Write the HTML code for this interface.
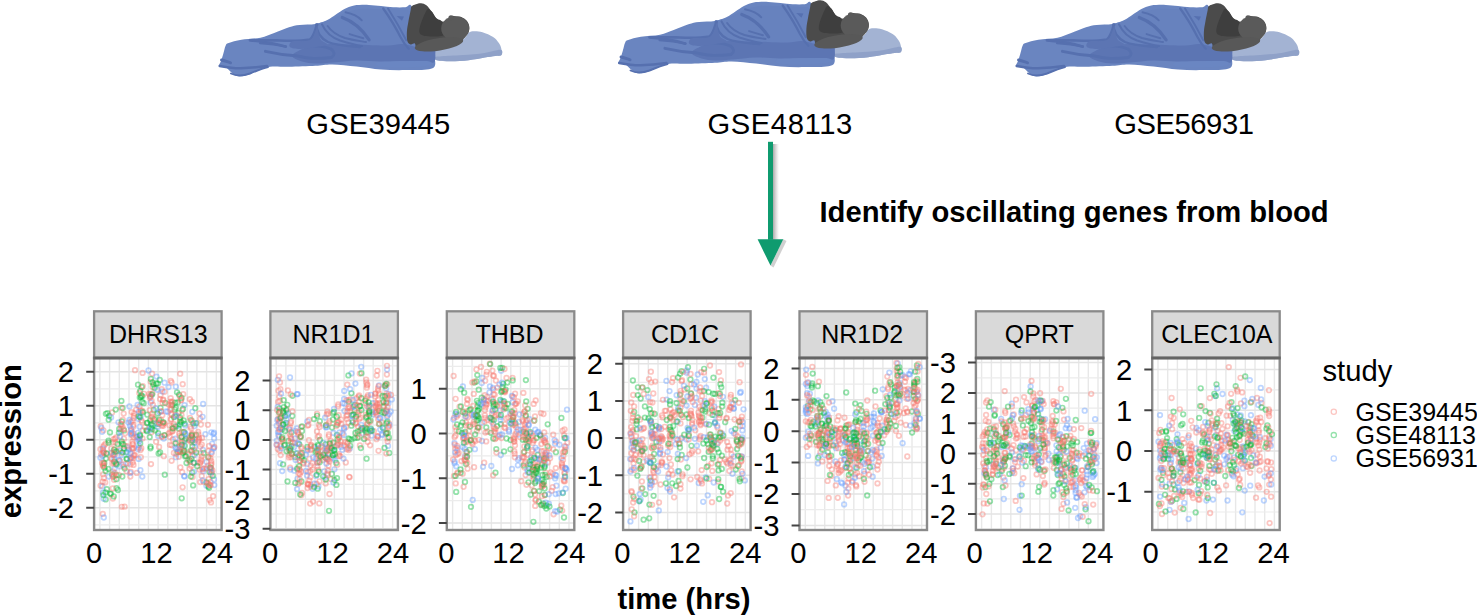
<!DOCTYPE html><html><head><meta charset="utf-8"><style>
html,body{margin:0;padding:0;background:#fff;}
svg{display:block;font-family:"Liberation Sans", sans-serif;}
text{fill:#000;}
.pts circle{fill:none;stroke-width:1.7;stroke-opacity:0.42;}
</style></head><body>
<svg font-family="Liberation Sans, sans-serif" font-size="29.2" width="1477" height="615" viewBox="0 0 1477 615">
<rect width="1477" height="615" fill="#fff"/>
<defs><g id="person"><path d="M433.8,49.7C436.1,48.0 442.7,47.3 447.6,45.5C452.5,43.7 459.9,41.2 463.4,39.1C466.9,37.0 466.9,34.1 468.7,32.8C470.5,31.5 471.7,31.3 474.0,31.2C476.3,31.1 479.3,31.3 482.5,32.3C485.7,33.3 490.5,35.3 493.1,37.0C495.7,38.7 497.0,40.5 498.3,42.3C499.6,44.1 500.5,45.5 501.0,47.6C501.5,49.7 502.5,53.6 501.5,55.0C500.5,56.4 498.0,55.6 495.2,56.0C492.4,56.4 489.0,56.9 484.6,57.6C480.2,58.3 474.3,59.7 468.7,60.3C463.1,60.9 456.1,61.3 450.8,61.3C445.5,61.3 439.8,61.2 437.0,60.3C434.2,59.4 434.3,57.8 433.8,56.0C433.3,54.2 431.5,51.5 433.8,49.7Z" fill="#a3b3d3"/><path d="M434.9,57.1C437.1,56.4 445.2,56.1 450.0,55.8C454.8,55.4 457.6,55.5 463.4,55.0C469.2,54.5 478.4,53.8 484.6,52.9C490.8,52.0 497.7,49.4 500.5,49.7C503.3,50.1 502.4,54.0 501.5,55.0C500.6,56.0 498.0,55.6 495.2,56.0C492.4,56.4 489.0,56.9 484.6,57.6C480.2,58.3 474.3,59.7 468.7,60.3C463.1,60.9 456.1,61.3 450.8,61.3C445.5,61.3 439.6,61.0 437.0,60.3C434.4,59.6 432.7,57.9 434.9,57.1Z" fill="#8fa1c8"/><path d="M219.2,65.8C218.5,64.7 220.6,62.6 221.3,60.5C222.0,58.4 222.8,55.6 223.5,53.1C224.2,50.6 224.7,47.4 225.6,45.7C226.5,44.0 226.1,44.0 228.7,43.0C231.3,42.0 236.1,40.7 241.4,39.8C246.7,38.9 255.0,38.8 260.5,37.7C266.0,36.6 269.4,34.8 274.2,33.0C278.9,31.2 284.8,28.5 289.0,27.2C293.2,25.9 295.2,25.5 299.6,25.0C304.0,24.5 310.8,24.8 315.4,24.0C320.0,23.2 323.9,21.7 327.3,20.1C330.7,18.5 333.0,16.4 335.9,14.6C338.8,12.8 341.4,10.6 344.4,9.1C347.4,7.6 350.0,6.2 354.1,5.5C358.2,4.8 364.3,4.8 368.8,4.9C373.3,5.0 376.9,5.7 381.0,6.1C385.1,6.5 389.1,7.1 393.2,7.3C397.3,7.5 402.3,7.5 405.4,7.3C408.5,7.1 409.2,2.5 411.6,6.3C414.0,10.1 416.2,22.9 420.0,30.0C423.8,37.1 431.8,44.5 434.2,48.8C436.6,53.1 434.9,52.8 434.6,56.0C434.3,59.2 437.4,66.0 432.5,68.3C427.6,70.6 414.0,69.9 405.4,70.1C396.8,70.3 389.1,70.1 381.0,69.5C372.9,68.9 364.7,67.3 356.6,66.5C348.5,65.7 339.1,64.5 332.2,64.4C325.3,64.3 322.6,65.4 315.4,65.8C308.2,66.2 296.6,66.6 289.0,66.8C281.4,67.0 275.3,66.1 270.0,66.8C264.7,67.5 261.5,69.5 257.3,71.0C253.1,72.5 248.1,75.0 244.6,75.8C241.1,76.6 238.4,76.4 236.1,75.8C233.8,75.2 232.7,73.5 230.9,72.1C229.2,70.7 227.6,68.3 225.6,67.3C223.6,66.2 219.9,66.9 219.2,65.8Z" fill="#6a85c0"/><path d="M315.0,26.0C317.3,22.3 325.0,22.2 330.0,20.0C335.0,17.8 340.0,14.8 345.0,13.0C350.0,11.2 354.2,9.7 360.0,9.0C365.8,8.3 373.3,8.8 380.0,9.0C386.7,9.2 395.0,9.5 400.0,10.0C405.0,10.5 408.7,8.7 410.0,12.0C411.3,15.3 407.7,24.3 408.0,30.0C408.3,35.7 415.3,43.4 412.0,46.0C408.7,48.6 395.3,45.7 388.0,45.5C380.7,45.3 374.3,45.2 368.0,45.0C361.7,44.8 356.3,44.7 350.0,44.5C343.7,44.3 335.7,44.4 330.0,44.0C324.3,43.6 318.5,45.0 316.0,42.0C313.5,39.0 312.7,29.7 315.0,26.0Z" fill="#6782be"/><path d="M292.0,56.0C291.7,54.1 296.7,51.7 300.0,50.0C303.3,48.3 307.0,47.0 312.0,46.0C317.0,45.0 323.7,44.2 330.0,44.0C336.3,43.8 343.7,44.3 350.0,44.5C356.3,44.7 361.7,44.8 368.0,45.0C374.3,45.2 382.3,45.7 388.0,45.5C393.7,45.3 398.0,43.9 402.0,44.0C406.0,44.1 408.2,45.2 412.0,46.0C415.8,46.8 421.3,47.8 425.0,48.5C428.7,49.2 432.6,47.8 434.2,50.0C435.8,52.2 435.8,60.1 434.4,62.0C433.0,63.9 430.9,61.7 426.0,61.5C421.1,61.3 412.7,61.0 405.0,61.0C397.3,61.0 388.2,61.6 380.0,61.5C371.8,61.4 363.8,60.3 356.0,60.5C348.2,60.7 339.7,62.0 333.0,62.5C326.3,63.0 321.2,63.7 316.0,63.5C310.8,63.3 306.0,62.8 302.0,61.5C298.0,60.2 292.3,57.9 292.0,56.0Z" fill="#5c75b3"/><path d="M378.0,62.5C381.3,61.6 391.7,61.8 400.0,61.6C408.3,61.4 423.2,60.6 428.0,61.2C432.8,61.9 432.8,64.5 429.0,65.5C425.2,66.5 413.2,67.3 405.0,67.5C396.8,67.7 384.5,67.6 380.0,66.8C375.5,66.0 374.7,63.4 378.0,62.5Z" fill="#6a86c2"/><g fill="none" stroke="#5670af" stroke-linecap="round"><path d="M249.9,40.4 C262,41.2 275,43.2 285.8,46.7" stroke-width="2.56"/><path d="M252,40.5 C262,39.8 270,40.2 280,40.5 C292,41 302,40.8 310,39.5 C314,36 315,30 317.2,24.5" stroke-width="2.56"/><path d="M260,43.2 C270,44 278,45 285.9,46.4" stroke-width="2.24"/><path d="M265.4,51.3 C275,53.5 285,55 295.7,55.7 C303,57 308,58.4 313.6,58.4 C320,58.5 327,58 331.5,57.5 C335,55 335,52 331,49 C325,46.5 318,46 313.6,45.9" stroke-width="2.88"/><path d="M342.3,17.5 C352,21 362,29 369.1,39.8" stroke-width="3.20"/><path d="M345.5,12.2 C352,13.5 358,16 361.8,20.3" stroke-width="1.92"/><path d="M316.3,24.4 C316.5,31 320,38 328,42 C338,46 350,46 360,47" stroke-width="2.40"/><path d="M322,24.4 C325,31 330,37 340,40.5 C348,43 355,45 362,46" stroke-width="2.08"/><path d="M327.6,26 C331,31 336,35 345,38 C352,40 360,41 366,42" stroke-width="1.92"/><path d="M349.6,34.1 C354,35.5 359,37 363.4,38.2" stroke-width="1.92"/><path d="M383.2,8.5 C390,18 396,28 400.2,36.6 C403,42 406,46 408.8,48.8" stroke-width="2.24"/><path d="M388,8.5 C394,18 401,30 406.3,40.2" stroke-width="1.92"/><path d="M221.5,60 C225,61 228,62 230.6,62.8" stroke-width="2.88"/><path d="M219.6,66 C228,67.5 235,68.5 241,68.3 C250,68 260,67 267,66" stroke-width="2.40"/><path d="M231,73.5 C236,76 243,76 250,73.5 C256,71 262,68.5 268,67" stroke-width="1.92"/></g><path d="M396.6,15.9 L403.9,16.5 L402,20.7 Z" fill="#5670b0"/><path d="M292.0,41.5C294.5,40.5 301.7,41.5 305.0,41.0C308.3,40.5 310.2,40.2 312.0,38.5C313.8,36.8 314.6,33.2 315.5,31.0C316.4,28.8 317.0,25.2 317.5,25.5C318.0,25.8 317.9,30.6 318.5,33.0C319.1,35.4 319.6,38.1 321.0,40.0C322.4,41.9 327.8,43.3 327.0,44.5C326.2,45.7 320.5,46.2 316.0,47.0C311.5,47.8 304.3,49.0 300.0,49.0C295.7,49.0 291.3,48.2 290.0,47.0C288.7,45.8 289.5,42.5 292.0,41.5Z" fill="#5c75b3"/><path d="M411.6,6.3C412.5,5.2 414.3,4.7 415.9,4.2C417.5,3.7 419.4,3.0 421.1,3.2C422.9,3.4 424.6,3.9 426.4,5.3C428.2,6.7 430.1,9.5 431.7,11.6C433.3,13.7 434.6,16.4 436.0,18.0C437.4,19.6 438.6,20.5 440.2,21.1C441.8,21.7 444.1,21.9 445.5,21.7C446.9,21.5 448.0,20.8 448.6,20.1C449.2,19.4 448.7,18.1 449.2,17.4C449.7,16.7 450.7,16.1 451.8,15.9C452.9,15.7 454.4,16.2 456.0,16.4C457.6,16.6 459.5,16.2 461.3,16.9C463.1,17.6 465.3,19.0 466.6,20.6C467.9,22.2 469.0,24.5 469.3,26.4C469.6,28.2 469.3,30.1 468.7,31.7C468.1,33.3 466.7,34.6 465.6,36.0C464.6,37.4 463.6,39.1 462.4,40.2C461.2,41.3 460.7,42.1 458.2,42.8C455.7,43.5 451.1,43.6 447.6,44.4C444.1,45.2 440.4,46.6 437.0,47.6C433.6,48.6 430.3,49.9 427.5,50.2C424.7,50.6 422.0,50.3 420.1,49.7C418.2,49.1 416.8,47.5 415.9,46.5C415.0,45.5 415.7,43.8 414.8,43.4C413.9,43.0 411.8,44.8 410.6,44.4C409.4,44.0 408.0,43.3 407.4,41.2C406.8,39.1 406.7,35.0 406.9,31.7C407.1,28.3 407.9,24.6 408.5,21.1C409.1,17.6 410.1,13.1 410.6,10.6C411.1,8.1 410.7,7.4 411.6,6.3Z" fill="#4b4b4b"/><path d="M426.4,10.6C428.3,6.9 430.1,10.4 431.7,11.6C433.3,12.8 434.2,16.2 436.0,18.0C437.8,19.8 440.9,19.4 442.3,22.2C443.7,25.0 448.1,33.0 444.4,34.9C440.7,36.8 423.1,37.8 420.1,33.8C417.1,29.7 424.5,14.3 426.4,10.6Z" fill="#3e3e3e"/><ellipse cx="455.2" cy="28.6" rx="14" ry="12.4" fill="#5a5a5a"/><circle cx="451" cy="17.8" r="2.6" fill="#5a5a5a"/><ellipse cx="439" cy="44.3" rx="24.5" ry="6.2" transform="rotate(-9 439 44.3)" fill="#585858"/></g></defs>
<use href="#person"/>
<use href="#person" transform="translate(399.5,-3)"/>
<use href="#person" transform="translate(797,0)"/>
<text x="306.3" y="134" textLength="143.9">GSE39445</text>
<text x="707.4" y="134" textLength="144.9">GSE48113</text>
<text x="1114.3" y="134" textLength="139.6">GSE56931</text>
<defs><linearGradient id="sh" x1="0" x2="1" y1="0" y2="0"><stop offset="0" stop-color="#555" stop-opacity="0.5"/><stop offset="1" stop-color="#888" stop-opacity="0"/></linearGradient></defs>
<rect x="773" y="144" width="6" height="96" fill="url(#sh)"/>
<path d="M783.3,239.3L786.5,241L773.5,267.5L770.5,265.6Z" fill="#777" opacity="0.35"/>
<rect x="768" y="141.8" width="5" height="98" fill="#0f9b6f"/>
<path d="M757.6,239.3H783.3L770.5,265.6Z" fill="#0f9b6f"/>
<text x="819.5" y="222.2" font-weight="bold">Identify oscillating genes from blood</text>
<g class="pts">
<rect x="94.1" y="357.9" width="127.5" height="172.10000000000002" fill="#fff"/><path d="M99.9,357.9V530.0M109.6,357.9V530.0M119.3,357.9V530.0M129.0,357.9V530.0M138.7,357.9V530.0M148.4,357.9V530.0M158.1,357.9V530.0M167.8,357.9V530.0M177.5,357.9V530.0M187.2,357.9V530.0M196.9,357.9V530.0M206.6,357.9V530.0M216.3,357.9V530.0" stroke="#e8e8e8" stroke-width="1.4" fill="none"/><path d="M94.1,524.8H221.6M94.1,490.8H221.6M94.1,456.8H221.6M94.1,422.8H221.6M94.1,388.8H221.6" stroke="#ececec" stroke-width="1.2" fill="none"/><path d="M94.1,507.8H221.6M94.1,473.8H221.6M94.1,439.8H221.6M94.1,405.8H221.6M94.1,371.8H221.6" stroke="#e4e4e4" stroke-width="1.5" fill="none"/><g stroke="#F8766D"><circle cx="176.3" cy="453.8" r="2.3"/><circle cx="199.7" cy="469.8" r="2.3"/><circle cx="152.6" cy="387.0" r="2.3"/><circle cx="172.2" cy="401.6" r="2.3"/></g><g stroke="#00BA38"><circle cx="112.1" cy="474.4" r="2.3"/><circle cx="192.1" cy="472.5" r="2.3"/></g><g stroke="#F8766D"><circle cx="182.6" cy="487.3" r="2.3"/></g><g stroke="#00BA38"><circle cx="159.8" cy="380.0" r="2.3"/></g><g stroke="#F8766D"><circle cx="114.1" cy="462.3" r="2.3"/></g><g stroke="#619CFF"><circle cx="138.4" cy="445.1" r="2.3"/></g><g stroke="#F8766D"><circle cx="201.6" cy="461.1" r="2.3"/></g><g stroke="#619CFF"><circle cx="194.5" cy="426.0" r="2.3"/></g><g stroke="#F8766D"><circle cx="201.8" cy="444.6" r="2.3"/><circle cx="133.4" cy="433.6" r="2.3"/><circle cx="172.9" cy="439.4" r="2.3"/><circle cx="133.3" cy="426.8" r="2.3"/><circle cx="153.1" cy="418.9" r="2.3"/></g><g stroke="#00BA38"><circle cx="209.1" cy="487.8" r="2.3"/></g><g stroke="#F8766D"><circle cx="123.7" cy="413.6" r="2.3"/><circle cx="133.6" cy="448.3" r="2.3"/><circle cx="102.8" cy="513.9" r="2.3"/></g><g stroke="#00BA38"><circle cx="121.7" cy="443.6" r="2.3"/></g><g stroke="#F8766D"><circle cx="183.6" cy="432.0" r="2.3"/><circle cx="119.9" cy="449.1" r="2.3"/></g><g stroke="#00BA38"><circle cx="184.6" cy="451.0" r="2.3"/></g><g stroke="#619CFF"><circle cx="119.7" cy="466.4" r="2.3"/><circle cx="177.9" cy="426.1" r="2.3"/></g><g stroke="#F8766D"><circle cx="183.6" cy="451.9" r="2.3"/><circle cx="141.4" cy="420.5" r="2.3"/><circle cx="130.8" cy="471.8" r="2.3"/></g><g stroke="#00BA38"><circle cx="160.5" cy="407.8" r="2.3"/></g><g stroke="#F8766D"><circle cx="180.0" cy="451.7" r="2.3"/></g><g stroke="#00BA38"><circle cx="184.7" cy="445.8" r="2.3"/><circle cx="181.7" cy="498.3" r="2.3"/><circle cx="154.9" cy="430.4" r="2.3"/></g><g stroke="#F8766D"><circle cx="105.9" cy="453.6" r="2.3"/></g><g stroke="#00BA38"><circle cx="184.6" cy="423.8" r="2.3"/><circle cx="210.6" cy="468.0" r="2.3"/><circle cx="174.5" cy="409.5" r="2.3"/><circle cx="154.7" cy="419.2" r="2.3"/></g><g stroke="#F8766D"><circle cx="121.8" cy="506.8" r="2.3"/><circle cx="172.0" cy="431.6" r="2.3"/></g><g stroke="#00BA38"><circle cx="151.4" cy="427.6" r="2.3"/></g><g stroke="#F8766D"><circle cx="142.9" cy="430.5" r="2.3"/><circle cx="142.6" cy="372.9" r="2.3"/></g><g stroke="#00BA38"><circle cx="184.7" cy="440.4" r="2.3"/></g><g stroke="#619CFF"><circle cx="194.6" cy="442.6" r="2.3"/><circle cx="157.8" cy="427.0" r="2.3"/></g><g stroke="#F8766D"><circle cx="132.8" cy="462.6" r="2.3"/><circle cx="192.3" cy="434.7" r="2.3"/></g><g stroke="#619CFF"><circle cx="204.1" cy="468.6" r="2.3"/></g><g stroke="#00BA38"><circle cx="118.9" cy="432.8" r="2.3"/></g><g stroke="#F8766D"><circle cx="133.4" cy="424.9" r="2.3"/></g><g stroke="#00BA38"><circle cx="172.3" cy="404.9" r="2.3"/></g><g stroke="#619CFF"><circle cx="102.5" cy="455.9" r="2.3"/></g><g stroke="#00BA38"><circle cx="141.8" cy="386.9" r="2.3"/></g><g stroke="#F8766D"><circle cx="133.5" cy="464.9" r="2.3"/><circle cx="200.2" cy="418.7" r="2.3"/></g><g stroke="#00BA38"><circle cx="177.0" cy="392.3" r="2.3"/></g><g stroke="#F8766D"><circle cx="200.0" cy="463.0" r="2.3"/></g><g stroke="#00BA38"><circle cx="147.3" cy="414.7" r="2.3"/></g><g stroke="#F8766D"><circle cx="160.5" cy="395.1" r="2.3"/></g><g stroke="#619CFF"><circle cx="175.9" cy="457.2" r="2.3"/></g><g stroke="#00BA38"><circle cx="180.2" cy="421.6" r="2.3"/></g><g stroke="#F8766D"><circle cx="181.5" cy="443.4" r="2.3"/><circle cx="171.6" cy="460.8" r="2.3"/></g><g stroke="#00BA38"><circle cx="190.9" cy="420.1" r="2.3"/><circle cx="177.7" cy="451.9" r="2.3"/><circle cx="165.1" cy="402.9" r="2.3"/></g><g stroke="#619CFF"><circle cx="206.6" cy="462.0" r="2.3"/></g><g stroke="#00BA38"><circle cx="106.9" cy="489.2" r="2.3"/></g><g stroke="#F8766D"><circle cx="192.6" cy="456.0" r="2.3"/><circle cx="134.1" cy="455.1" r="2.3"/><circle cx="168.5" cy="404.4" r="2.3"/><circle cx="178.4" cy="442.6" r="2.3"/><circle cx="132.7" cy="443.8" r="2.3"/><circle cx="200.3" cy="462.4" r="2.3"/><circle cx="136.3" cy="436.6" r="2.3"/></g><g stroke="#00BA38"><circle cx="178.7" cy="428.5" r="2.3"/></g><g stroke="#F8766D"><circle cx="139.3" cy="406.7" r="2.3"/></g><g stroke="#00BA38"><circle cx="154.6" cy="388.1" r="2.3"/></g><g stroke="#F8766D"><circle cx="179.0" cy="450.4" r="2.3"/></g><g stroke="#00BA38"><circle cx="179.1" cy="394.6" r="2.3"/></g><g stroke="#F8766D"><circle cx="170.7" cy="398.1" r="2.3"/><circle cx="208.5" cy="479.2" r="2.3"/></g><g stroke="#00BA38"><circle cx="175.5" cy="426.4" r="2.3"/></g><g stroke="#F8766D"><circle cx="134.2" cy="413.4" r="2.3"/><circle cx="161.8" cy="436.3" r="2.3"/></g><g stroke="#00BA38"><circle cx="196.2" cy="423.2" r="2.3"/><circle cx="153.7" cy="410.0" r="2.3"/><circle cx="151.1" cy="424.1" r="2.3"/></g><g stroke="#F8766D"><circle cx="104.2" cy="445.2" r="2.3"/></g><g stroke="#619CFF"><circle cx="103.1" cy="492.6" r="2.3"/></g><g stroke="#00BA38"><circle cx="195.3" cy="408.2" r="2.3"/></g><g stroke="#619CFF"><circle cx="137.3" cy="436.9" r="2.3"/><circle cx="186.2" cy="439.6" r="2.3"/></g><g stroke="#F8766D"><circle cx="191.4" cy="442.6" r="2.3"/></g><g stroke="#619CFF"><circle cx="175.6" cy="416.4" r="2.3"/><circle cx="137.6" cy="439.3" r="2.3"/></g><g stroke="#00BA38"><circle cx="116.4" cy="475.0" r="2.3"/></g><g stroke="#619CFF"><circle cx="184.5" cy="405.1" r="2.3"/></g><g stroke="#F8766D"><circle cx="168.6" cy="433.5" r="2.3"/><circle cx="115.4" cy="442.6" r="2.3"/><circle cx="181.7" cy="445.3" r="2.3"/></g><g stroke="#619CFF"><circle cx="120.6" cy="431.5" r="2.3"/></g><g stroke="#F8766D"><circle cx="149.2" cy="394.0" r="2.3"/><circle cx="171.4" cy="404.5" r="2.3"/></g><g stroke="#00BA38"><circle cx="208.2" cy="457.0" r="2.3"/></g><g stroke="#F8766D"><circle cx="211.0" cy="502.4" r="2.3"/></g><g stroke="#619CFF"><circle cx="127.9" cy="463.5" r="2.3"/></g><g stroke="#F8766D"><circle cx="180.2" cy="419.5" r="2.3"/><circle cx="190.4" cy="426.7" r="2.3"/><circle cx="188.9" cy="440.1" r="2.3"/><circle cx="131.7" cy="412.1" r="2.3"/><circle cx="151.4" cy="432.3" r="2.3"/><circle cx="102.8" cy="481.7" r="2.3"/></g><g stroke="#619CFF"><circle cx="150.6" cy="402.4" r="2.3"/></g><g stroke="#00BA38"><circle cx="158.6" cy="453.5" r="2.3"/><circle cx="150.5" cy="448.3" r="2.3"/><circle cx="210.2" cy="467.3" r="2.3"/></g><g stroke="#619CFF"><circle cx="164.5" cy="382.7" r="2.3"/></g><g stroke="#F8766D"><circle cx="139.7" cy="438.3" r="2.3"/><circle cx="192.1" cy="451.3" r="2.3"/></g><g stroke="#619CFF"><circle cx="203.0" cy="449.9" r="2.3"/></g><g stroke="#F8766D"><circle cx="133.7" cy="418.0" r="2.3"/><circle cx="152.1" cy="373.7" r="2.3"/><circle cx="180.1" cy="451.8" r="2.3"/><circle cx="171.9" cy="445.3" r="2.3"/><circle cx="172.7" cy="431.1" r="2.3"/></g><g stroke="#00BA38"><circle cx="142.3" cy="396.2" r="2.3"/></g><g stroke="#619CFF"><circle cx="129.9" cy="425.9" r="2.3"/></g><g stroke="#F8766D"><circle cx="160.1" cy="399.1" r="2.3"/><circle cx="170.0" cy="444.9" r="2.3"/></g><g stroke="#00BA38"><circle cx="158.3" cy="423.9" r="2.3"/></g><g stroke="#F8766D"><circle cx="113.0" cy="471.4" r="2.3"/><circle cx="119.1" cy="475.1" r="2.3"/><circle cx="171.7" cy="414.7" r="2.3"/><circle cx="181.3" cy="399.8" r="2.3"/></g><g stroke="#619CFF"><circle cx="139.5" cy="426.8" r="2.3"/><circle cx="118.6" cy="459.8" r="2.3"/></g><g stroke="#00BA38"><circle cx="105.7" cy="499.4" r="2.3"/></g><g stroke="#F8766D"><circle cx="161.7" cy="389.1" r="2.3"/></g><g stroke="#00BA38"><circle cx="149.7" cy="437.1" r="2.3"/><circle cx="185.1" cy="456.4" r="2.3"/></g><g stroke="#619CFF"><circle cx="194.5" cy="455.1" r="2.3"/></g><g stroke="#00BA38"><circle cx="175.2" cy="402.6" r="2.3"/></g><g stroke="#F8766D"><circle cx="159.4" cy="422.1" r="2.3"/><circle cx="200.3" cy="446.5" r="2.3"/><circle cx="133.7" cy="415.8" r="2.3"/></g><g stroke="#00BA38"><circle cx="108.4" cy="469.0" r="2.3"/><circle cx="175.8" cy="407.7" r="2.3"/></g><g stroke="#F8766D"><circle cx="120.8" cy="424.4" r="2.3"/><circle cx="115.1" cy="438.7" r="2.3"/><circle cx="164.7" cy="435.3" r="2.3"/></g><g stroke="#619CFF"><circle cx="118.5" cy="422.3" r="2.3"/><circle cx="192.3" cy="411.8" r="2.3"/></g><g stroke="#F8766D"><circle cx="100.7" cy="426.2" r="2.3"/><circle cx="163.1" cy="423.7" r="2.3"/><circle cx="152.5" cy="413.7" r="2.3"/></g><g stroke="#619CFF"><circle cx="195.3" cy="440.1" r="2.3"/><circle cx="214.0" cy="432.7" r="2.3"/></g><g stroke="#00BA38"><circle cx="146.4" cy="430.3" r="2.3"/></g><g stroke="#F8766D"><circle cx="163.8" cy="456.2" r="2.3"/><circle cx="170.3" cy="431.9" r="2.3"/></g><g stroke="#00BA38"><circle cx="110.9" cy="493.8" r="2.3"/></g><g stroke="#F8766D"><circle cx="134.9" cy="455.1" r="2.3"/><circle cx="140.5" cy="412.9" r="2.3"/><circle cx="140.8" cy="410.5" r="2.3"/><circle cx="131.9" cy="432.2" r="2.3"/></g><g stroke="#619CFF"><circle cx="203.3" cy="471.2" r="2.3"/></g><g stroke="#F8766D"><circle cx="153.5" cy="420.8" r="2.3"/></g><g stroke="#00BA38"><circle cx="126.3" cy="452.3" r="2.3"/></g><g stroke="#619CFF"><circle cx="175.4" cy="447.4" r="2.3"/></g><g stroke="#F8766D"><circle cx="190.4" cy="440.7" r="2.3"/></g><g stroke="#619CFF"><circle cx="111.2" cy="452.9" r="2.3"/></g><g stroke="#F8766D"><circle cx="183.2" cy="394.2" r="2.3"/><circle cx="142.5" cy="438.4" r="2.3"/><circle cx="103.5" cy="463.7" r="2.3"/></g><g stroke="#619CFF"><circle cx="167.9" cy="411.7" r="2.3"/></g><g stroke="#F8766D"><circle cx="130.8" cy="457.8" r="2.3"/></g><g stroke="#00BA38"><circle cx="147.5" cy="422.8" r="2.3"/><circle cx="139.8" cy="435.0" r="2.3"/></g><g stroke="#619CFF"><circle cx="192.5" cy="438.2" r="2.3"/></g><g stroke="#F8766D"><circle cx="114.1" cy="479.8" r="2.3"/><circle cx="135.0" cy="370.2" r="2.3"/><circle cx="208.5" cy="457.2" r="2.3"/><circle cx="132.2" cy="435.5" r="2.3"/></g><g stroke="#00BA38"><circle cx="150.2" cy="420.4" r="2.3"/><circle cx="158.2" cy="433.2" r="2.3"/><circle cx="182.9" cy="453.1" r="2.3"/><circle cx="141.3" cy="395.7" r="2.3"/><circle cx="138.0" cy="384.7" r="2.3"/><circle cx="121.8" cy="441.4" r="2.3"/><circle cx="140.2" cy="436.0" r="2.3"/></g><g stroke="#F8766D"><circle cx="199.5" cy="413.5" r="2.3"/></g><g stroke="#00BA38"><circle cx="105.5" cy="492.5" r="2.3"/></g><g stroke="#619CFF"><circle cx="149.9" cy="427.6" r="2.3"/></g><g stroke="#00BA38"><circle cx="119.2" cy="429.0" r="2.3"/></g><g stroke="#F8766D"><circle cx="152.5" cy="393.3" r="2.3"/></g><g stroke="#00BA38"><circle cx="140.9" cy="397.1" r="2.3"/></g><g stroke="#F8766D"><circle cx="162.4" cy="402.9" r="2.3"/></g><g stroke="#00BA38"><circle cx="178.6" cy="413.0" r="2.3"/></g><g stroke="#F8766D"><circle cx="103.1" cy="474.3" r="2.3"/><circle cx="189.9" cy="399.2" r="2.3"/></g><g stroke="#619CFF"><circle cx="162.5" cy="391.6" r="2.3"/></g><g stroke="#F8766D"><circle cx="207.9" cy="465.6" r="2.3"/><circle cx="197.8" cy="462.6" r="2.3"/><circle cx="210.4" cy="458.2" r="2.3"/><circle cx="150.9" cy="394.2" r="2.3"/></g><g stroke="#00BA38"><circle cx="126.8" cy="459.2" r="2.3"/></g><g stroke="#F8766D"><circle cx="169.7" cy="436.7" r="2.3"/><circle cx="161.0" cy="411.3" r="2.3"/></g><g stroke="#619CFF"><circle cx="205.4" cy="434.2" r="2.3"/><circle cx="163.7" cy="438.6" r="2.3"/></g><g stroke="#F8766D"><circle cx="211.0" cy="474.5" r="2.3"/><circle cx="182.7" cy="384.2" r="2.3"/><circle cx="173.9" cy="453.0" r="2.3"/></g><g stroke="#00BA38"><circle cx="193.1" cy="485.4" r="2.3"/></g><g stroke="#F8766D"><circle cx="163.6" cy="423.4" r="2.3"/><circle cx="121.5" cy="452.8" r="2.3"/></g><g stroke="#619CFF"><circle cx="127.9" cy="452.7" r="2.3"/></g><g stroke="#F8766D"><circle cx="170.8" cy="380.8" r="2.3"/></g><g stroke="#00BA38"><circle cx="110.0" cy="432.4" r="2.3"/></g><g stroke="#619CFF"><circle cx="138.6" cy="458.9" r="2.3"/></g><g stroke="#F8766D"><circle cx="152.9" cy="405.0" r="2.3"/></g><g stroke="#00BA38"><circle cx="109.2" cy="415.8" r="2.3"/></g><g stroke="#F8766D"><circle cx="191.9" cy="401.6" r="2.3"/></g><g stroke="#619CFF"><circle cx="102.3" cy="486.4" r="2.3"/><circle cx="193.8" cy="471.8" r="2.3"/><circle cx="158.2" cy="436.0" r="2.3"/></g><g stroke="#F8766D"><circle cx="174.1" cy="424.2" r="2.3"/><circle cx="170.7" cy="401.6" r="2.3"/><circle cx="112.1" cy="412.5" r="2.3"/></g><g stroke="#00BA38"><circle cx="124.1" cy="430.4" r="2.3"/></g><g stroke="#F8766D"><circle cx="112.7" cy="463.7" r="2.3"/><circle cx="113.1" cy="455.0" r="2.3"/><circle cx="139.3" cy="393.0" r="2.3"/><circle cx="113.1" cy="476.4" r="2.3"/></g><g stroke="#00BA38"><circle cx="193.3" cy="423.4" r="2.3"/></g><g stroke="#F8766D"><circle cx="142.4" cy="411.0" r="2.3"/><circle cx="159.1" cy="447.0" r="2.3"/></g><g stroke="#619CFF"><circle cx="195.2" cy="423.2" r="2.3"/></g><g stroke="#00BA38"><circle cx="180.0" cy="417.5" r="2.3"/></g><g stroke="#F8766D"><circle cx="131.1" cy="430.5" r="2.3"/></g><g stroke="#619CFF"><circle cx="212.2" cy="443.8" r="2.3"/></g><g stroke="#00BA38"><circle cx="160.1" cy="452.3" r="2.3"/></g><g stroke="#F8766D"><circle cx="169.5" cy="425.5" r="2.3"/></g><g stroke="#619CFF"><circle cx="157.4" cy="389.8" r="2.3"/></g><g stroke="#00BA38"><circle cx="192.3" cy="440.6" r="2.3"/></g><g stroke="#F8766D"><circle cx="210.6" cy="481.8" r="2.3"/><circle cx="188.2" cy="454.3" r="2.3"/><circle cx="164.6" cy="391.8" r="2.3"/></g><g stroke="#00BA38"><circle cx="114.6" cy="452.1" r="2.3"/></g><g stroke="#F8766D"><circle cx="103.5" cy="465.3" r="2.3"/></g><g stroke="#00BA38"><circle cx="122.6" cy="408.1" r="2.3"/></g><g stroke="#619CFF"><circle cx="156.7" cy="423.9" r="2.3"/></g><g stroke="#F8766D"><circle cx="192.6" cy="477.0" r="2.3"/></g><g stroke="#00BA38"><circle cx="189.8" cy="460.6" r="2.3"/></g><g stroke="#F8766D"><circle cx="115.1" cy="454.3" r="2.3"/></g><g stroke="#00BA38"><circle cx="164.4" cy="435.1" r="2.3"/></g><g stroke="#619CFF"><circle cx="103.8" cy="517.5" r="2.3"/></g><g stroke="#F8766D"><circle cx="202.6" cy="468.4" r="2.3"/><circle cx="181.5" cy="415.1" r="2.3"/></g><g stroke="#00BA38"><circle cx="185.8" cy="438.6" r="2.3"/><circle cx="209.6" cy="471.9" r="2.3"/></g><g stroke="#F8766D"><circle cx="122.5" cy="427.0" r="2.3"/><circle cx="181.8" cy="431.9" r="2.3"/></g><g stroke="#619CFF"><circle cx="138.9" cy="447.6" r="2.3"/></g><g stroke="#00BA38"><circle cx="196.1" cy="434.9" r="2.3"/></g><g stroke="#619CFF"><circle cx="206.4" cy="485.8" r="2.3"/></g><g stroke="#00BA38"><circle cx="116.5" cy="488.1" r="2.3"/></g><g stroke="#F8766D"><circle cx="192.1" cy="437.0" r="2.3"/></g><g stroke="#00BA38"><circle cx="104.3" cy="463.2" r="2.3"/></g><g stroke="#F8766D"><circle cx="161.4" cy="411.4" r="2.3"/><circle cx="192.1" cy="420.8" r="2.3"/></g><g stroke="#00BA38"><circle cx="121.8" cy="421.5" r="2.3"/></g><g stroke="#F8766D"><circle cx="132.2" cy="448.1" r="2.3"/></g><g stroke="#00BA38"><circle cx="152.4" cy="425.5" r="2.3"/></g><g stroke="#619CFF"><circle cx="122.8" cy="464.9" r="2.3"/></g><g stroke="#F8766D"><circle cx="190.2" cy="461.9" r="2.3"/></g><g stroke="#00BA38"><circle cx="208.4" cy="486.6" r="2.3"/></g><g stroke="#619CFF"><circle cx="137.6" cy="404.9" r="2.3"/></g><g stroke="#00BA38"><circle cx="191.1" cy="450.3" r="2.3"/></g><g stroke="#F8766D"><circle cx="180.1" cy="451.6" r="2.3"/><circle cx="164.4" cy="423.1" r="2.3"/><circle cx="178.8" cy="456.8" r="2.3"/><circle cx="170.9" cy="419.5" r="2.3"/></g><g stroke="#619CFF"><circle cx="114.0" cy="455.1" r="2.3"/><circle cx="156.1" cy="408.4" r="2.3"/></g><g stroke="#00BA38"><circle cx="164.8" cy="474.7" r="2.3"/></g><g stroke="#619CFF"><circle cx="150.6" cy="396.5" r="2.3"/></g><g stroke="#00BA38"><circle cx="116.6" cy="464.5" r="2.3"/></g><g stroke="#F8766D"><circle cx="190.6" cy="451.3" r="2.3"/><circle cx="103.6" cy="462.7" r="2.3"/></g><g stroke="#619CFF"><circle cx="175.4" cy="438.6" r="2.3"/></g><g stroke="#F8766D"><circle cx="211.1" cy="464.8" r="2.3"/><circle cx="171.2" cy="419.2" r="2.3"/></g><g stroke="#00BA38"><circle cx="126.6" cy="458.6" r="2.3"/></g><g stroke="#F8766D"><circle cx="188.2" cy="460.0" r="2.3"/><circle cx="103.4" cy="452.9" r="2.3"/></g><g stroke="#00BA38"><circle cx="140.2" cy="443.5" r="2.3"/></g><g stroke="#F8766D"><circle cx="133.4" cy="456.2" r="2.3"/></g><g stroke="#619CFF"><circle cx="119.4" cy="460.4" r="2.3"/><circle cx="214.0" cy="479.5" r="2.3"/><circle cx="128.7" cy="449.6" r="2.3"/></g><g stroke="#00BA38"><circle cx="181.5" cy="397.9" r="2.3"/></g><g stroke="#F8766D"><circle cx="123.7" cy="466.8" r="2.3"/><circle cx="202.3" cy="469.4" r="2.3"/><circle cx="116.2" cy="437.3" r="2.3"/></g><g stroke="#619CFF"><circle cx="120.0" cy="451.0" r="2.3"/><circle cx="166.1" cy="411.5" r="2.3"/></g><g stroke="#00BA38"><circle cx="106.0" cy="458.6" r="2.3"/></g><g stroke="#619CFF"><circle cx="194.9" cy="446.9" r="2.3"/></g><g stroke="#F8766D"><circle cx="209.6" cy="500.1" r="2.3"/><circle cx="191.4" cy="434.9" r="2.3"/></g><g stroke="#619CFF"><circle cx="101.4" cy="428.0" r="2.3"/></g><g stroke="#F8766D"><circle cx="131.8" cy="457.4" r="2.3"/></g><g stroke="#00BA38"><circle cx="156.2" cy="383.5" r="2.3"/><circle cx="121.4" cy="400.9" r="2.3"/><circle cx="104.3" cy="467.7" r="2.3"/></g><g stroke="#F8766D"><circle cx="162.3" cy="415.3" r="2.3"/></g><g stroke="#619CFF"><circle cx="130.8" cy="434.2" r="2.3"/></g><g stroke="#F8766D"><circle cx="121.2" cy="407.7" r="2.3"/></g><g stroke="#00BA38"><circle cx="159.2" cy="420.0" r="2.3"/><circle cx="138.8" cy="416.3" r="2.3"/></g><g stroke="#F8766D"><circle cx="175.9" cy="414.9" r="2.3"/><circle cx="132.7" cy="420.7" r="2.3"/></g><g stroke="#619CFF"><circle cx="138.4" cy="418.9" r="2.3"/></g><g stroke="#F8766D"><circle cx="105.6" cy="443.7" r="2.3"/></g><g stroke="#619CFF"><circle cx="129.4" cy="406.4" r="2.3"/></g><g stroke="#00BA38"><circle cx="181.5" cy="422.3" r="2.3"/></g><g stroke="#F8766D"><circle cx="114.5" cy="449.4" r="2.3"/><circle cx="171.4" cy="408.7" r="2.3"/></g><g stroke="#619CFF"><circle cx="108.6" cy="476.6" r="2.3"/></g><g stroke="#F8766D"><circle cx="130.8" cy="422.0" r="2.3"/><circle cx="120.9" cy="428.8" r="2.3"/></g><g stroke="#00BA38"><circle cx="117.7" cy="444.1" r="2.3"/><circle cx="124.7" cy="468.6" r="2.3"/></g><g stroke="#619CFF"><circle cx="114.4" cy="469.0" r="2.3"/></g><g stroke="#F8766D"><circle cx="191.6" cy="436.8" r="2.3"/><circle cx="103.2" cy="465.6" r="2.3"/></g><g stroke="#619CFF"><circle cx="185.3" cy="433.7" r="2.3"/></g><g stroke="#F8766D"><circle cx="105.2" cy="482.4" r="2.3"/></g><g stroke="#619CFF"><circle cx="213.4" cy="448.6" r="2.3"/></g><g stroke="#00BA38"><circle cx="186.0" cy="456.1" r="2.3"/></g><g stroke="#F8766D"><circle cx="182.2" cy="472.2" r="2.3"/><circle cx="171.5" cy="402.6" r="2.3"/><circle cx="114.7" cy="473.0" r="2.3"/><circle cx="200.2" cy="482.1" r="2.3"/><circle cx="130.3" cy="476.5" r="2.3"/></g><g stroke="#619CFF"><circle cx="176.3" cy="448.8" r="2.3"/></g><g stroke="#00BA38"><circle cx="152.1" cy="394.6" r="2.3"/><circle cx="203.6" cy="453.0" r="2.3"/></g><g stroke="#F8766D"><circle cx="132.3" cy="448.6" r="2.3"/></g><g stroke="#00BA38"><circle cx="140.2" cy="390.9" r="2.3"/><circle cx="206.4" cy="482.3" r="2.3"/></g><g stroke="#F8766D"><circle cx="207.9" cy="424.8" r="2.3"/></g><g stroke="#00BA38"><circle cx="175.7" cy="443.3" r="2.3"/></g><g stroke="#619CFF"><circle cx="127.6" cy="447.4" r="2.3"/></g><g stroke="#F8766D"><circle cx="198.2" cy="432.0" r="2.3"/></g><g stroke="#619CFF"><circle cx="103.7" cy="498.7" r="2.3"/></g><g stroke="#F8766D"><circle cx="103.3" cy="446.7" r="2.3"/></g><g stroke="#00BA38"><circle cx="177.8" cy="402.4" r="2.3"/></g><g stroke="#F8766D"><circle cx="149.7" cy="410.1" r="2.3"/></g><g stroke="#00BA38"><circle cx="110.1" cy="493.6" r="2.3"/></g><g stroke="#F8766D"><circle cx="181.6" cy="442.1" r="2.3"/><circle cx="136.2" cy="409.7" r="2.3"/></g><g stroke="#619CFF"><circle cx="194.2" cy="463.0" r="2.3"/></g><g stroke="#F8766D"><circle cx="142.8" cy="386.1" r="2.3"/></g><g stroke="#00BA38"><circle cx="191.4" cy="458.8" r="2.3"/><circle cx="157.9" cy="383.6" r="2.3"/></g><g stroke="#F8766D"><circle cx="170.5" cy="409.8" r="2.3"/></g><g stroke="#619CFF"><circle cx="130.2" cy="458.6" r="2.3"/></g><g stroke="#00BA38"><circle cx="157.6" cy="413.6" r="2.3"/></g><g stroke="#F8766D"><circle cx="132.5" cy="441.7" r="2.3"/><circle cx="198.5" cy="440.2" r="2.3"/></g><g stroke="#00BA38"><circle cx="147.0" cy="431.2" r="2.3"/></g><g stroke="#619CFF"><circle cx="210.3" cy="468.8" r="2.3"/></g><g stroke="#F8766D"><circle cx="133.6" cy="437.6" r="2.3"/><circle cx="113.3" cy="476.9" r="2.3"/><circle cx="119.9" cy="460.8" r="2.3"/><circle cx="136.7" cy="472.9" r="2.3"/><circle cx="161.0" cy="420.0" r="2.3"/><circle cx="201.9" cy="456.3" r="2.3"/><circle cx="150.2" cy="396.3" r="2.3"/><circle cx="132.9" cy="449.6" r="2.3"/><circle cx="103.4" cy="430.3" r="2.3"/><circle cx="144.9" cy="427.3" r="2.3"/></g><g stroke="#00BA38"><circle cx="143.7" cy="403.2" r="2.3"/></g><g stroke="#619CFF"><circle cx="102.9" cy="448.7" r="2.3"/></g><g stroke="#F8766D"><circle cx="180.2" cy="373.7" r="2.3"/></g><g stroke="#619CFF"><circle cx="138.0" cy="432.8" r="2.3"/></g><g stroke="#F8766D"><circle cx="211.5" cy="472.2" r="2.3"/><circle cx="200.9" cy="424.5" r="2.3"/><circle cx="211.5" cy="453.6" r="2.3"/></g><g stroke="#00BA38"><circle cx="116.4" cy="479.2" r="2.3"/><circle cx="184.0" cy="432.2" r="2.3"/></g><g stroke="#619CFF"><circle cx="138.9" cy="438.1" r="2.3"/></g><g stroke="#F8766D"><circle cx="125.6" cy="463.7" r="2.3"/><circle cx="124.0" cy="438.8" r="2.3"/><circle cx="151.6" cy="417.4" r="2.3"/><circle cx="173.5" cy="428.2" r="2.3"/></g><g stroke="#619CFF"><circle cx="121.6" cy="454.9" r="2.3"/></g><g stroke="#F8766D"><circle cx="207.6" cy="483.3" r="2.3"/><circle cx="151.7" cy="400.9" r="2.3"/><circle cx="171.6" cy="382.5" r="2.3"/></g><g stroke="#619CFF"><circle cx="213.9" cy="447.7" r="2.3"/></g><g stroke="#F8766D"><circle cx="189.7" cy="468.6" r="2.3"/></g><g stroke="#00BA38"><circle cx="107.5" cy="413.1" r="2.3"/></g><g stroke="#F8766D"><circle cx="209.1" cy="446.0" r="2.3"/></g><g stroke="#619CFF"><circle cx="156.5" cy="376.6" r="2.3"/><circle cx="130.4" cy="453.4" r="2.3"/></g><g stroke="#F8766D"><circle cx="112.8" cy="442.4" r="2.3"/></g><g stroke="#00BA38"><circle cx="116.2" cy="451.4" r="2.3"/></g><g stroke="#F8766D"><circle cx="103.5" cy="452.0" r="2.3"/></g><g stroke="#00BA38"><circle cx="108.5" cy="440.6" r="2.3"/></g><g stroke="#F8766D"><circle cx="100.4" cy="449.2" r="2.3"/><circle cx="202.0" cy="437.9" r="2.3"/><circle cx="123.5" cy="429.1" r="2.3"/></g><g stroke="#619CFF"><circle cx="138.2" cy="449.3" r="2.3"/></g><g stroke="#F8766D"><circle cx="179.2" cy="433.4" r="2.3"/><circle cx="103.9" cy="452.8" r="2.3"/></g><g stroke="#619CFF"><circle cx="114.2" cy="459.4" r="2.3"/><circle cx="131.2" cy="433.2" r="2.3"/><circle cx="175.9" cy="386.7" r="2.3"/></g><g stroke="#00BA38"><circle cx="183.6" cy="450.8" r="2.3"/></g><g stroke="#F8766D"><circle cx="172.1" cy="426.2" r="2.3"/></g><g stroke="#00BA38"><circle cx="114.1" cy="449.7" r="2.3"/><circle cx="114.5" cy="461.6" r="2.3"/></g><g stroke="#F8766D"><circle cx="103.9" cy="477.9" r="2.3"/><circle cx="179.9" cy="396.3" r="2.3"/><circle cx="206.4" cy="468.5" r="2.3"/><circle cx="208.4" cy="450.9" r="2.3"/></g><g stroke="#00BA38"><circle cx="193.7" cy="462.7" r="2.3"/></g><g stroke="#F8766D"><circle cx="150.7" cy="381.8" r="2.3"/><circle cx="182.1" cy="410.2" r="2.3"/><circle cx="180.8" cy="400.4" r="2.3"/><circle cx="101.1" cy="454.3" r="2.3"/><circle cx="190.1" cy="418.0" r="2.3"/></g><g stroke="#00BA38"><circle cx="190.9" cy="476.6" r="2.3"/></g><g stroke="#619CFF"><circle cx="214.3" cy="485.1" r="2.3"/></g><g stroke="#F8766D"><circle cx="112.8" cy="488.4" r="2.3"/></g><g stroke="#00BA38"><circle cx="122.3" cy="476.5" r="2.3"/><circle cx="106.8" cy="453.4" r="2.3"/></g><g stroke="#F8766D"><circle cx="102.1" cy="462.9" r="2.3"/><circle cx="198.0" cy="441.5" r="2.3"/></g><g stroke="#619CFF"><circle cx="130.2" cy="472.9" r="2.3"/></g><g stroke="#F8766D"><circle cx="200.7" cy="453.0" r="2.3"/><circle cx="144.0" cy="393.8" r="2.3"/><circle cx="127.1" cy="446.1" r="2.3"/><circle cx="210.7" cy="485.1" r="2.3"/></g><g stroke="#00BA38"><circle cx="183.0" cy="409.0" r="2.3"/></g><g stroke="#F8766D"><circle cx="162.0" cy="425.7" r="2.3"/></g><g stroke="#00BA38"><circle cx="152.6" cy="382.3" r="2.3"/></g><g stroke="#F8766D"><circle cx="181.6" cy="437.3" r="2.3"/><circle cx="203.8" cy="482.0" r="2.3"/><circle cx="113.7" cy="439.2" r="2.3"/></g><g stroke="#619CFF"><circle cx="183.3" cy="445.4" r="2.3"/><circle cx="119.9" cy="436.4" r="2.3"/></g><g stroke="#F8766D"><circle cx="191.3" cy="466.1" r="2.3"/><circle cx="201.7" cy="475.9" r="2.3"/></g><g stroke="#619CFF"><circle cx="184.3" cy="476.4" r="2.3"/></g><g stroke="#F8766D"><circle cx="163.3" cy="425.8" r="2.3"/><circle cx="211.3" cy="461.1" r="2.3"/></g><g stroke="#00BA38"><circle cx="142.8" cy="412.2" r="2.3"/></g><g stroke="#F8766D"><circle cx="192.1" cy="433.5" r="2.3"/><circle cx="142.2" cy="422.2" r="2.3"/></g><g stroke="#619CFF"><circle cx="185.2" cy="425.6" r="2.3"/></g><g stroke="#F8766D"><circle cx="179.7" cy="435.8" r="2.3"/></g><g stroke="#619CFF"><circle cx="129.4" cy="420.0" r="2.3"/></g><g stroke="#F8766D"><circle cx="211.3" cy="468.6" r="2.3"/><circle cx="121.5" cy="424.3" r="2.3"/></g><g stroke="#00BA38"><circle cx="181.5" cy="436.9" r="2.3"/></g><g stroke="#F8766D"><circle cx="112.0" cy="458.8" r="2.3"/></g><g stroke="#619CFF"><circle cx="168.5" cy="387.1" r="2.3"/><circle cx="213.4" cy="433.8" r="2.3"/></g><g stroke="#00BA38"><circle cx="173.9" cy="417.2" r="2.3"/></g><g stroke="#619CFF"><circle cx="176.0" cy="415.6" r="2.3"/></g><g stroke="#00BA38"><circle cx="181.8" cy="444.9" r="2.3"/></g><g stroke="#F8766D"><circle cx="214.3" cy="446.9" r="2.3"/><circle cx="151.0" cy="464.1" r="2.3"/></g><g stroke="#619CFF"><circle cx="149.2" cy="430.5" r="2.3"/></g><g stroke="#F8766D"><circle cx="126.6" cy="471.4" r="2.3"/><circle cx="158.9" cy="423.1" r="2.3"/><circle cx="103.2" cy="450.3" r="2.3"/></g><g stroke="#00BA38"><circle cx="172.6" cy="428.4" r="2.3"/><circle cx="108.7" cy="442.7" r="2.3"/><circle cx="150.6" cy="446.7" r="2.3"/></g><g stroke="#F8766D"><circle cx="140.5" cy="450.0" r="2.3"/></g><g stroke="#00BA38"><circle cx="197.2" cy="466.2" r="2.3"/></g><g stroke="#F8766D"><circle cx="213.1" cy="496.2" r="2.3"/></g><g stroke="#619CFF"><circle cx="211.6" cy="451.9" r="2.3"/><circle cx="140.7" cy="416.8" r="2.3"/><circle cx="139.4" cy="440.8" r="2.3"/></g><g stroke="#F8766D"><circle cx="163.3" cy="399.6" r="2.3"/></g><g stroke="#619CFF"><circle cx="177.7" cy="448.9" r="2.3"/><circle cx="203.1" cy="404.0" r="2.3"/></g><g stroke="#F8766D"><circle cx="171.2" cy="413.7" r="2.3"/></g><g stroke="#00BA38"><circle cx="196.3" cy="452.6" r="2.3"/><circle cx="212.8" cy="475.9" r="2.3"/></g><g stroke="#619CFF"><circle cx="102.1" cy="431.8" r="2.3"/></g><g stroke="#F8766D"><circle cx="111.1" cy="458.5" r="2.3"/><circle cx="209.0" cy="484.5" r="2.3"/><circle cx="198.4" cy="434.5" r="2.3"/></g><g stroke="#619CFF"><circle cx="202.6" cy="416.8" r="2.3"/></g><g stroke="#00BA38"><circle cx="192.4" cy="446.5" r="2.3"/></g><g stroke="#F8766D"><circle cx="141.3" cy="448.2" r="2.3"/></g><g stroke="#00BA38"><circle cx="183.6" cy="420.5" r="2.3"/></g><g stroke="#F8766D"><circle cx="183.0" cy="451.0" r="2.3"/></g><g stroke="#619CFF"><circle cx="211.3" cy="432.3" r="2.3"/><circle cx="185.3" cy="433.9" r="2.3"/></g><g stroke="#00BA38"><circle cx="150.9" cy="378.9" r="2.3"/></g><g stroke="#F8766D"><circle cx="209.8" cy="485.2" r="2.3"/><circle cx="124.8" cy="445.9" r="2.3"/><circle cx="180.4" cy="467.5" r="2.3"/></g><g stroke="#619CFF"><circle cx="142.3" cy="476.6" r="2.3"/><circle cx="111.1" cy="417.4" r="2.3"/></g><g stroke="#F8766D"><circle cx="180.2" cy="446.1" r="2.3"/></g><g stroke="#619CFF"><circle cx="131.1" cy="428.5" r="2.3"/></g><g stroke="#00BA38"><circle cx="139.8" cy="417.1" r="2.3"/></g><g stroke="#619CFF"><circle cx="202.8" cy="480.5" r="2.3"/></g><g stroke="#F8766D"><circle cx="112.9" cy="498.5" r="2.3"/></g><g stroke="#619CFF"><circle cx="214.1" cy="438.5" r="2.3"/></g><g stroke="#00BA38"><circle cx="179.9" cy="424.4" r="2.3"/></g><g stroke="#F8766D"><circle cx="194.1" cy="450.0" r="2.3"/><circle cx="133.1" cy="458.4" r="2.3"/><circle cx="162.0" cy="436.8" r="2.3"/></g><g stroke="#619CFF"><circle cx="128.4" cy="422.6" r="2.3"/></g><g stroke="#F8766D"><circle cx="111.2" cy="448.5" r="2.3"/></g><g stroke="#00BA38"><circle cx="105.6" cy="471.0" r="2.3"/></g><g stroke="#F8766D"><circle cx="122.8" cy="419.7" r="2.3"/></g><g stroke="#619CFF"><circle cx="138.7" cy="411.8" r="2.3"/></g><g stroke="#00BA38"><circle cx="163.2" cy="422.1" r="2.3"/></g><g stroke="#619CFF"><circle cx="211.2" cy="472.3" r="2.3"/></g><g stroke="#F8766D"><circle cx="113.4" cy="453.7" r="2.3"/></g><g stroke="#00BA38"><circle cx="113.8" cy="496.4" r="2.3"/></g><g stroke="#F8766D"><circle cx="201.2" cy="459.5" r="2.3"/></g><g stroke="#00BA38"><circle cx="105.9" cy="413.8" r="2.3"/><circle cx="115.7" cy="409.6" r="2.3"/></g><g stroke="#F8766D"><circle cx="199.0" cy="437.8" r="2.3"/><circle cx="156.1" cy="441.8" r="2.3"/><circle cx="159.6" cy="422.9" r="2.3"/></g><g stroke="#00BA38"><circle cx="147.0" cy="423.0" r="2.3"/></g><g stroke="#F8766D"><circle cx="163.0" cy="400.2" r="2.3"/><circle cx="152.3" cy="416.5" r="2.3"/></g><g stroke="#00BA38"><circle cx="153.4" cy="384.6" r="2.3"/></g><g stroke="#F8766D"><circle cx="125.1" cy="433.2" r="2.3"/><circle cx="211.4" cy="463.5" r="2.3"/><circle cx="190.3" cy="437.7" r="2.3"/><circle cx="113.9" cy="475.1" r="2.3"/><circle cx="149.9" cy="397.7" r="2.3"/></g><g stroke="#00BA38"><circle cx="122.6" cy="452.3" r="2.3"/></g><g stroke="#F8766D"><circle cx="170.5" cy="405.2" r="2.3"/><circle cx="124.6" cy="506.7" r="2.3"/></g><g stroke="#00BA38"><circle cx="115.9" cy="463.6" r="2.3"/></g><g stroke="#F8766D"><circle cx="103.2" cy="466.3" r="2.3"/><circle cx="100.6" cy="485.7" r="2.3"/></g><g stroke="#00BA38"><circle cx="123.9" cy="448.5" r="2.3"/><circle cx="139.8" cy="397.4" r="2.3"/></g><g stroke="#619CFF"><circle cx="148.5" cy="370.5" r="2.3"/></g><g stroke="#00BA38"><circle cx="117.9" cy="490.0" r="2.3"/></g><g stroke="#F8766D"><circle cx="140.8" cy="457.2" r="2.3"/></g><g stroke="#619CFF"><circle cx="159.4" cy="412.1" r="2.3"/></g><g stroke="#00BA38"><circle cx="186.5" cy="463.0" r="2.3"/><circle cx="108.7" cy="419.7" r="2.3"/><circle cx="142.2" cy="402.0" r="2.3"/></g><g stroke="#F8766D"><circle cx="114.3" cy="463.4" r="2.3"/><circle cx="191.1" cy="428.6" r="2.3"/><circle cx="130.5" cy="464.4" r="2.3"/><circle cx="132.8" cy="444.3" r="2.3"/><circle cx="199.4" cy="439.2" r="2.3"/></g><g stroke="#00BA38"><circle cx="103.3" cy="495.1" r="2.3"/><circle cx="123.2" cy="444.2" r="2.3"/></g><g stroke="#619CFF"><circle cx="100.4" cy="457.7" r="2.3"/></g><g stroke="#F8766D"><circle cx="212.4" cy="470.4" r="2.3"/></g><g stroke="#619CFF"><circle cx="184.4" cy="476.1" r="2.3"/></g><g stroke="#00BA38"><circle cx="191.7" cy="435.4" r="2.3"/><circle cx="152.3" cy="429.2" r="2.3"/></g><g stroke="#619CFF"><circle cx="140.4" cy="470.2" r="2.3"/></g><rect x="94.1" y="357.9" width="127.5" height="172.10000000000002" fill="none" stroke="#8a8a8a" stroke-width="2.4"/><rect x="94.1" y="311.3" width="127.5" height="46.599999999999966" fill="#d9d9d9" stroke="#8a8a8a" stroke-width="2.3"/><line x1="93.2" x2="222.5" y1="357.9" y2="357.9" stroke="#646464" stroke-width="3"/><text x="158.3" y="343.2" font-size="25" text-anchor="middle">DHRS13</text><text x="74.1" y="382.2" text-anchor="end">2</text><text x="74.1" y="416.2" text-anchor="end">1</text><text x="74.1" y="450.2" text-anchor="end">0</text><text x="74.1" y="484.2" text-anchor="end">-1</text><text x="74.1" y="518.2" text-anchor="end">-2</text><path d="M86.2,371.8H94.1M86.2,405.8H94.1M86.2,439.8H94.1M86.2,473.8H94.1M86.2,507.8H94.1" stroke="#444" stroke-width="2"/><text x="94.2" y="563.1" text-anchor="middle">0</text><text x="156.5" y="563.1" text-anchor="middle">12</text><text x="217.1" y="563.1" text-anchor="middle">24</text>
<rect x="270.4" y="357.9" width="127.5" height="172.10000000000002" fill="#fff"/><path d="M276.2,357.9V530.0M285.9,357.9V530.0M295.6,357.9V530.0M305.4,357.9V530.0M315.1,357.9V530.0M324.8,357.9V530.0M334.4,357.9V530.0M344.1,357.9V530.0M353.9,357.9V530.0M363.6,357.9V530.0M373.2,357.9V530.0M382.9,357.9V530.0M392.6,357.9V530.0" stroke="#e8e8e8" stroke-width="1.4" fill="none"/><path d="M270.4,514.0H397.9M270.4,484.4H397.9M270.4,454.7H397.9M270.4,425.1H397.9M270.4,395.4H397.9M270.4,365.8H397.9" stroke="#ececec" stroke-width="1.2" fill="none"/><path d="M270.4,528.8H397.9M270.4,499.2H397.9M270.4,469.5H397.9M270.4,439.9H397.9M270.4,410.2H397.9M270.4,380.6H397.9" stroke="#e4e4e4" stroke-width="1.5" fill="none"/><g stroke="#00BA38"><circle cx="325.6" cy="444.2" r="2.3"/></g><g stroke="#619CFF"><circle cx="316.2" cy="475.9" r="2.3"/></g><g stroke="#00BA38"><circle cx="282.4" cy="429.3" r="2.3"/></g><g stroke="#619CFF"><circle cx="333.5" cy="458.0" r="2.3"/><circle cx="377.9" cy="437.1" r="2.3"/></g><g stroke="#00BA38"><circle cx="354.7" cy="410.4" r="2.3"/></g><g stroke="#F8766D"><circle cx="329.5" cy="494.0" r="2.3"/></g><g stroke="#619CFF"><circle cx="335.1" cy="460.2" r="2.3"/><circle cx="296.9" cy="394.2" r="2.3"/></g><g stroke="#F8766D"><circle cx="350.2" cy="399.5" r="2.3"/><circle cx="301.7" cy="448.6" r="2.3"/></g><g stroke="#00BA38"><circle cx="318.4" cy="445.8" r="2.3"/></g><g stroke="#619CFF"><circle cx="373.3" cy="414.5" r="2.3"/></g><g stroke="#F8766D"><circle cx="286.6" cy="408.9" r="2.3"/></g><g stroke="#00BA38"><circle cx="326.4" cy="450.5" r="2.3"/></g><g stroke="#F8766D"><circle cx="379.6" cy="403.0" r="2.3"/></g><g stroke="#00BA38"><circle cx="317.9" cy="444.8" r="2.3"/></g><g stroke="#F8766D"><circle cx="327.5" cy="459.5" r="2.3"/><circle cx="289.0" cy="457.4" r="2.3"/><circle cx="381.7" cy="422.3" r="2.3"/><circle cx="342.5" cy="433.2" r="2.3"/><circle cx="326.8" cy="414.3" r="2.3"/><circle cx="340.1" cy="444.6" r="2.3"/></g><g stroke="#619CFF"><circle cx="362.5" cy="433.2" r="2.3"/></g><g stroke="#00BA38"><circle cx="332.0" cy="427.5" r="2.3"/></g><g stroke="#F8766D"><circle cx="338.8" cy="421.6" r="2.3"/></g><g stroke="#619CFF"><circle cx="381.9" cy="434.2" r="2.3"/></g><g stroke="#F8766D"><circle cx="282.5" cy="440.7" r="2.3"/><circle cx="280.0" cy="445.3" r="2.3"/><circle cx="379.3" cy="393.9" r="2.3"/><circle cx="319.1" cy="436.0" r="2.3"/><circle cx="356.4" cy="398.4" r="2.3"/><circle cx="385.1" cy="413.3" r="2.3"/><circle cx="359.0" cy="411.6" r="2.3"/></g><g stroke="#619CFF"><circle cx="279.5" cy="431.9" r="2.3"/><circle cx="332.2" cy="449.6" r="2.3"/></g><g stroke="#F8766D"><circle cx="368.0" cy="432.4" r="2.3"/></g><g stroke="#00BA38"><circle cx="316.6" cy="451.3" r="2.3"/></g><g stroke="#F8766D"><circle cx="350.1" cy="411.2" r="2.3"/><circle cx="368.0" cy="395.1" r="2.3"/></g><g stroke="#619CFF"><circle cx="349.8" cy="448.4" r="2.3"/></g><g stroke="#F8766D"><circle cx="298.4" cy="434.5" r="2.3"/></g><g stroke="#619CFF"><circle cx="285.3" cy="424.7" r="2.3"/><circle cx="297.5" cy="478.8" r="2.3"/></g><g stroke="#00BA38"><circle cx="332.8" cy="455.1" r="2.3"/></g><g stroke="#619CFF"><circle cx="383.4" cy="428.5" r="2.3"/><circle cx="344.4" cy="411.0" r="2.3"/></g><g stroke="#F8766D"><circle cx="367.7" cy="442.0" r="2.3"/></g><g stroke="#00BA38"><circle cx="283.5" cy="412.4" r="2.3"/><circle cx="386.7" cy="402.3" r="2.3"/></g><g stroke="#F8766D"><circle cx="376.8" cy="375.5" r="2.3"/></g><g stroke="#00BA38"><circle cx="317.7" cy="488.7" r="2.3"/></g><g stroke="#F8766D"><circle cx="307.6" cy="488.0" r="2.3"/></g><g stroke="#00BA38"><circle cx="318.1" cy="451.0" r="2.3"/><circle cx="290.5" cy="451.0" r="2.3"/><circle cx="286.2" cy="422.8" r="2.3"/></g><g stroke="#619CFF"><circle cx="317.4" cy="462.7" r="2.3"/></g><g stroke="#F8766D"><circle cx="378.0" cy="388.3" r="2.3"/><circle cx="308.9" cy="440.2" r="2.3"/><circle cx="339.4" cy="437.2" r="2.3"/><circle cx="330.8" cy="479.1" r="2.3"/><circle cx="280.5" cy="427.5" r="2.3"/></g><g stroke="#00BA38"><circle cx="337.0" cy="478.1" r="2.3"/></g><g stroke="#619CFF"><circle cx="353.6" cy="406.6" r="2.3"/></g><g stroke="#F8766D"><circle cx="386.5" cy="432.4" r="2.3"/></g><g stroke="#00BA38"><circle cx="301.4" cy="481.4" r="2.3"/><circle cx="319.8" cy="421.2" r="2.3"/></g><g stroke="#F8766D"><circle cx="321.9" cy="445.9" r="2.3"/></g><g stroke="#619CFF"><circle cx="298.5" cy="443.2" r="2.3"/><circle cx="325.1" cy="417.6" r="2.3"/></g><g stroke="#F8766D"><circle cx="280.1" cy="420.9" r="2.3"/></g><g stroke="#00BA38"><circle cx="332.9" cy="413.4" r="2.3"/><circle cx="337.7" cy="439.5" r="2.3"/><circle cx="301.7" cy="458.5" r="2.3"/></g><g stroke="#619CFF"><circle cx="282.2" cy="471.1" r="2.3"/></g><g stroke="#00BA38"><circle cx="295.1" cy="457.2" r="2.3"/><circle cx="351.3" cy="425.7" r="2.3"/><circle cx="379.3" cy="424.0" r="2.3"/></g><g stroke="#F8766D"><circle cx="280.0" cy="382.5" r="2.3"/><circle cx="300.0" cy="460.7" r="2.3"/><circle cx="290.8" cy="438.4" r="2.3"/><circle cx="307.7" cy="483.7" r="2.3"/><circle cx="278.1" cy="401.9" r="2.3"/><circle cx="280.7" cy="455.1" r="2.3"/></g><g stroke="#619CFF"><circle cx="388.7" cy="394.0" r="2.3"/></g><g stroke="#00BA38"><circle cx="366.6" cy="416.6" r="2.3"/></g><g stroke="#F8766D"><circle cx="318.2" cy="469.6" r="2.3"/></g><g stroke="#619CFF"><circle cx="277.7" cy="407.0" r="2.3"/></g><g stroke="#00BA38"><circle cx="351.4" cy="393.3" r="2.3"/></g><g stroke="#F8766D"><circle cx="366.4" cy="382.3" r="2.3"/><circle cx="308.4" cy="424.9" r="2.3"/></g><g stroke="#619CFF"><circle cx="351.5" cy="373.4" r="2.3"/></g><g stroke="#F8766D"><circle cx="347.3" cy="384.6" r="2.3"/></g><g stroke="#00BA38"><circle cx="302.0" cy="456.6" r="2.3"/></g><g stroke="#F8766D"><circle cx="376.1" cy="412.1" r="2.3"/></g><g stroke="#00BA38"><circle cx="350.2" cy="445.7" r="2.3"/><circle cx="369.5" cy="405.3" r="2.3"/></g><g stroke="#F8766D"><circle cx="329.6" cy="421.1" r="2.3"/><circle cx="292.5" cy="442.7" r="2.3"/><circle cx="375.4" cy="393.7" r="2.3"/></g><g stroke="#00BA38"><circle cx="292.5" cy="395.8" r="2.3"/><circle cx="288.5" cy="440.8" r="2.3"/></g><g stroke="#619CFF"><circle cx="288.3" cy="413.7" r="2.3"/></g><g stroke="#F8766D"><circle cx="299.5" cy="482.5" r="2.3"/><circle cx="329.3" cy="454.6" r="2.3"/><circle cx="310.4" cy="477.2" r="2.3"/></g><g stroke="#00BA38"><circle cx="351.8" cy="415.1" r="2.3"/></g><g stroke="#F8766D"><circle cx="279.3" cy="436.6" r="2.3"/></g><g stroke="#619CFF"><circle cx="326.0" cy="448.3" r="2.3"/></g><g stroke="#F8766D"><circle cx="291.5" cy="438.8" r="2.3"/></g><g stroke="#00BA38"><circle cx="337.1" cy="424.8" r="2.3"/></g><g stroke="#F8766D"><circle cx="312.4" cy="463.1" r="2.3"/></g><g stroke="#00BA38"><circle cx="366.6" cy="458.7" r="2.3"/></g><g stroke="#F8766D"><circle cx="386.6" cy="409.9" r="2.3"/></g><g stroke="#00BA38"><circle cx="365.3" cy="427.6" r="2.3"/></g><g stroke="#619CFF"><circle cx="379.4" cy="418.0" r="2.3"/></g><g stroke="#F8766D"><circle cx="358.0" cy="426.6" r="2.3"/><circle cx="365.4" cy="403.2" r="2.3"/><circle cx="385.5" cy="385.7" r="2.3"/><circle cx="298.3" cy="483.9" r="2.3"/></g><g stroke="#619CFF"><circle cx="324.8" cy="452.9" r="2.3"/></g><g stroke="#00BA38"><circle cx="337.0" cy="435.0" r="2.3"/></g><g stroke="#F8766D"><circle cx="280.5" cy="418.3" r="2.3"/></g><g stroke="#619CFF"><circle cx="325.7" cy="427.2" r="2.3"/></g><g stroke="#F8766D"><circle cx="307.7" cy="449.0" r="2.3"/></g><g stroke="#619CFF"><circle cx="342.7" cy="403.2" r="2.3"/></g><g stroke="#F8766D"><circle cx="378.9" cy="423.9" r="2.3"/></g><g stroke="#619CFF"><circle cx="334.7" cy="446.5" r="2.3"/></g><g stroke="#00BA38"><circle cx="304.1" cy="460.2" r="2.3"/><circle cx="283.7" cy="407.1" r="2.3"/></g><g stroke="#F8766D"><circle cx="301.3" cy="495.2" r="2.3"/></g><g stroke="#00BA38"><circle cx="282.1" cy="439.0" r="2.3"/></g><g stroke="#F8766D"><circle cx="336.3" cy="426.2" r="2.3"/><circle cx="340.3" cy="456.1" r="2.3"/><circle cx="376.6" cy="415.0" r="2.3"/></g><g stroke="#00BA38"><circle cx="369.2" cy="413.1" r="2.3"/><circle cx="291.5" cy="432.4" r="2.3"/><circle cx="287.5" cy="481.4" r="2.3"/></g><g stroke="#619CFF"><circle cx="344.2" cy="390.9" r="2.3"/></g><g stroke="#F8766D"><circle cx="375.4" cy="393.7" r="2.3"/><circle cx="308.1" cy="472.0" r="2.3"/><circle cx="338.9" cy="436.6" r="2.3"/></g><g stroke="#00BA38"><circle cx="318.8" cy="471.6" r="2.3"/></g><g stroke="#619CFF"><circle cx="386.2" cy="388.4" r="2.3"/></g><g stroke="#F8766D"><circle cx="375.4" cy="402.6" r="2.3"/><circle cx="289.3" cy="455.2" r="2.3"/><circle cx="387.4" cy="438.5" r="2.3"/></g><g stroke="#619CFF"><circle cx="379.1" cy="385.3" r="2.3"/></g><g stroke="#F8766D"><circle cx="357.1" cy="412.3" r="2.3"/></g><g stroke="#00BA38"><circle cx="383.6" cy="406.9" r="2.3"/></g><g stroke="#F8766D"><circle cx="386.9" cy="374.5" r="2.3"/><circle cx="385.4" cy="385.0" r="2.3"/><circle cx="377.3" cy="436.2" r="2.3"/><circle cx="370.1" cy="445.3" r="2.3"/><circle cx="346.6" cy="400.1" r="2.3"/><circle cx="347.5" cy="442.6" r="2.3"/></g><g stroke="#00BA38"><circle cx="348.8" cy="401.7" r="2.3"/><circle cx="296.4" cy="453.5" r="2.3"/></g><g stroke="#F8766D"><circle cx="299.5" cy="460.7" r="2.3"/><circle cx="290.7" cy="441.9" r="2.3"/><circle cx="358.4" cy="414.6" r="2.3"/><circle cx="301.2" cy="471.9" r="2.3"/></g><g stroke="#619CFF"><circle cx="318.4" cy="486.5" r="2.3"/></g><g stroke="#F8766D"><circle cx="366.2" cy="379.6" r="2.3"/></g><g stroke="#619CFF"><circle cx="339.6" cy="432.5" r="2.3"/><circle cx="333.5" cy="433.0" r="2.3"/></g><g stroke="#00BA38"><circle cx="279.4" cy="408.3" r="2.3"/></g><g stroke="#619CFF"><circle cx="297.0" cy="489.1" r="2.3"/><circle cx="276.8" cy="440.6" r="2.3"/></g><g stroke="#F8766D"><circle cx="330.1" cy="443.6" r="2.3"/></g><g stroke="#619CFF"><circle cx="353.4" cy="406.6" r="2.3"/></g><g stroke="#F8766D"><circle cx="359.2" cy="419.0" r="2.3"/><circle cx="328.7" cy="446.8" r="2.3"/><circle cx="291.1" cy="421.2" r="2.3"/></g><g stroke="#619CFF"><circle cx="307.4" cy="421.4" r="2.3"/></g><g stroke="#00BA38"><circle cx="302.0" cy="431.0" r="2.3"/></g><g stroke="#619CFF"><circle cx="388.0" cy="445.9" r="2.3"/><circle cx="370.9" cy="394.8" r="2.3"/><circle cx="387.1" cy="369.6" r="2.3"/></g><g stroke="#00BA38"><circle cx="387.3" cy="421.4" r="2.3"/><circle cx="299.3" cy="444.3" r="2.3"/></g><g stroke="#F8766D"><circle cx="349.2" cy="476.8" r="2.3"/></g><g stroke="#619CFF"><circle cx="341.2" cy="446.9" r="2.3"/></g><g stroke="#F8766D"><circle cx="346.0" cy="426.9" r="2.3"/></g><g stroke="#619CFF"><circle cx="316.0" cy="458.5" r="2.3"/></g><g stroke="#F8766D"><circle cx="375.1" cy="396.4" r="2.3"/><circle cx="338.1" cy="406.4" r="2.3"/><circle cx="387.6" cy="415.4" r="2.3"/><circle cx="387.0" cy="365.8" r="2.3"/></g><g stroke="#619CFF"><circle cx="307.3" cy="464.1" r="2.3"/><circle cx="276.7" cy="445.0" r="2.3"/><circle cx="361.2" cy="425.0" r="2.3"/></g><g stroke="#F8766D"><circle cx="326.4" cy="424.9" r="2.3"/></g><g stroke="#00BA38"><circle cx="360.1" cy="406.1" r="2.3"/></g><g stroke="#F8766D"><circle cx="301.0" cy="436.5" r="2.3"/></g><g stroke="#619CFF"><circle cx="290.0" cy="377.5" r="2.3"/></g><g stroke="#F8766D"><circle cx="277.8" cy="449.1" r="2.3"/><circle cx="375.5" cy="406.9" r="2.3"/></g><g stroke="#00BA38"><circle cx="291.7" cy="453.7" r="2.3"/></g><g stroke="#619CFF"><circle cx="289.3" cy="447.5" r="2.3"/></g><g stroke="#F8766D"><circle cx="308.2" cy="484.5" r="2.3"/></g><g stroke="#619CFF"><circle cx="387.0" cy="417.0" r="2.3"/><circle cx="344.1" cy="398.9" r="2.3"/></g><g stroke="#F8766D"><circle cx="373.9" cy="431.1" r="2.3"/><circle cx="279.3" cy="421.3" r="2.3"/><circle cx="279.3" cy="396.5" r="2.3"/><circle cx="355.6" cy="423.8" r="2.3"/><circle cx="367.0" cy="406.2" r="2.3"/><circle cx="328.1" cy="459.3" r="2.3"/><circle cx="319.5" cy="481.3" r="2.3"/></g><g stroke="#619CFF"><circle cx="295.6" cy="430.8" r="2.3"/></g><g stroke="#00BA38"><circle cx="334.5" cy="480.0" r="2.3"/><circle cx="314.0" cy="419.1" r="2.3"/></g><g stroke="#F8766D"><circle cx="318.6" cy="456.2" r="2.3"/></g><g stroke="#00BA38"><circle cx="283.3" cy="413.1" r="2.3"/></g><g stroke="#619CFF"><circle cx="306.1" cy="471.0" r="2.3"/></g><g stroke="#F8766D"><circle cx="383.4" cy="405.9" r="2.3"/></g><g stroke="#00BA38"><circle cx="328.2" cy="454.3" r="2.3"/></g><g stroke="#F8766D"><circle cx="359.9" cy="445.4" r="2.3"/></g><g stroke="#00BA38"><circle cx="289.4" cy="449.9" r="2.3"/></g><g stroke="#619CFF"><circle cx="295.0" cy="438.5" r="2.3"/></g><g stroke="#00BA38"><circle cx="382.8" cy="427.7" r="2.3"/></g><g stroke="#F8766D"><circle cx="327.4" cy="473.5" r="2.3"/></g><g stroke="#00BA38"><circle cx="355.4" cy="432.9" r="2.3"/></g><g stroke="#F8766D"><circle cx="378.2" cy="419.3" r="2.3"/><circle cx="311.0" cy="449.1" r="2.3"/></g><g stroke="#619CFF"><circle cx="294.3" cy="470.7" r="2.3"/></g><g stroke="#F8766D"><circle cx="359.1" cy="395.5" r="2.3"/><circle cx="338.8" cy="437.8" r="2.3"/><circle cx="340.6" cy="441.2" r="2.3"/><circle cx="310.5" cy="446.6" r="2.3"/><circle cx="308.2" cy="484.4" r="2.3"/></g><g stroke="#00BA38"><circle cx="366.1" cy="417.7" r="2.3"/></g><g stroke="#F8766D"><circle cx="290.8" cy="394.4" r="2.3"/><circle cx="387.6" cy="441.6" r="2.3"/></g><g stroke="#00BA38"><circle cx="292.3" cy="416.0" r="2.3"/></g><g stroke="#F8766D"><circle cx="290.5" cy="436.0" r="2.3"/><circle cx="359.0" cy="401.7" r="2.3"/></g><g stroke="#00BA38"><circle cx="325.6" cy="457.8" r="2.3"/></g><g stroke="#F8766D"><circle cx="344.2" cy="445.5" r="2.3"/></g><g stroke="#00BA38"><circle cx="387.8" cy="432.9" r="2.3"/></g><g stroke="#F8766D"><circle cx="282.0" cy="416.2" r="2.3"/></g><g stroke="#619CFF"><circle cx="323.2" cy="442.8" r="2.3"/></g><g stroke="#F8766D"><circle cx="337.8" cy="444.8" r="2.3"/><circle cx="290.8" cy="423.0" r="2.3"/></g><g stroke="#00BA38"><circle cx="286.5" cy="451.3" r="2.3"/></g><g stroke="#F8766D"><circle cx="388.9" cy="423.5" r="2.3"/></g><g stroke="#619CFF"><circle cx="388.4" cy="403.3" r="2.3"/></g><g stroke="#F8766D"><circle cx="375.7" cy="413.1" r="2.3"/></g><g stroke="#00BA38"><circle cx="361.3" cy="398.2" r="2.3"/></g><g stroke="#619CFF"><circle cx="333.5" cy="482.5" r="2.3"/></g><g stroke="#F8766D"><circle cx="318.9" cy="424.8" r="2.3"/><circle cx="278.1" cy="419.1" r="2.3"/><circle cx="386.2" cy="403.3" r="2.3"/></g><g stroke="#00BA38"><circle cx="333.3" cy="442.7" r="2.3"/></g><g stroke="#F8766D"><circle cx="338.0" cy="443.0" r="2.3"/></g><g stroke="#619CFF"><circle cx="344.1" cy="428.9" r="2.3"/><circle cx="334.4" cy="469.3" r="2.3"/></g><g stroke="#00BA38"><circle cx="286.3" cy="410.3" r="2.3"/><circle cx="301.9" cy="453.0" r="2.3"/></g><g stroke="#F8766D"><circle cx="349.7" cy="407.8" r="2.3"/></g><g stroke="#00BA38"><circle cx="314.5" cy="446.6" r="2.3"/></g><g stroke="#F8766D"><circle cx="377.4" cy="370.8" r="2.3"/><circle cx="310.2" cy="471.1" r="2.3"/><circle cx="299.8" cy="437.2" r="2.3"/></g><g stroke="#00BA38"><circle cx="283.0" cy="424.5" r="2.3"/></g><g stroke="#F8766D"><circle cx="348.4" cy="422.5" r="2.3"/></g><g stroke="#00BA38"><circle cx="384.3" cy="413.0" r="2.3"/></g><g stroke="#F8766D"><circle cx="386.1" cy="433.2" r="2.3"/></g><g stroke="#00BA38"><circle cx="379.0" cy="410.8" r="2.3"/></g><g stroke="#F8766D"><circle cx="325.7" cy="483.4" r="2.3"/><circle cx="330.5" cy="440.7" r="2.3"/></g><g stroke="#00BA38"><circle cx="336.3" cy="462.9" r="2.3"/></g><g stroke="#F8766D"><circle cx="366.0" cy="398.8" r="2.3"/><circle cx="287.9" cy="390.4" r="2.3"/><circle cx="310.7" cy="484.7" r="2.3"/></g><g stroke="#00BA38"><circle cx="360.8" cy="448.1" r="2.3"/></g><g stroke="#F8766D"><circle cx="337.2" cy="445.4" r="2.3"/><circle cx="326.7" cy="451.4" r="2.3"/></g><g stroke="#00BA38"><circle cx="381.9" cy="412.3" r="2.3"/></g><g stroke="#F8766D"><circle cx="313.1" cy="501.6" r="2.3"/><circle cx="288.9" cy="428.5" r="2.3"/></g><g stroke="#00BA38"><circle cx="370.7" cy="431.0" r="2.3"/></g><g stroke="#F8766D"><circle cx="386.1" cy="402.0" r="2.3"/><circle cx="359.8" cy="373.6" r="2.3"/></g><g stroke="#00BA38"><circle cx="299.2" cy="455.3" r="2.3"/></g><g stroke="#F8766D"><circle cx="309.6" cy="458.7" r="2.3"/><circle cx="365.8" cy="414.6" r="2.3"/><circle cx="317.4" cy="466.2" r="2.3"/><circle cx="290.2" cy="427.5" r="2.3"/><circle cx="278.8" cy="423.1" r="2.3"/></g><g stroke="#619CFF"><circle cx="297.7" cy="394.1" r="2.3"/></g><g stroke="#F8766D"><circle cx="319.3" cy="503.4" r="2.3"/><circle cx="347.4" cy="443.6" r="2.3"/></g><g stroke="#00BA38"><circle cx="285.2" cy="416.0" r="2.3"/></g><g stroke="#619CFF"><circle cx="344.5" cy="403.7" r="2.3"/><circle cx="296.7" cy="428.4" r="2.3"/></g><g stroke="#F8766D"><circle cx="378.2" cy="390.6" r="2.3"/></g><g stroke="#00BA38"><circle cx="300.7" cy="436.7" r="2.3"/></g><g stroke="#619CFF"><circle cx="276.7" cy="425.7" r="2.3"/></g><g stroke="#00BA38"><circle cx="291.6" cy="446.2" r="2.3"/></g><g stroke="#619CFF"><circle cx="286.9" cy="415.4" r="2.3"/></g><g stroke="#F8766D"><circle cx="375.6" cy="412.1" r="2.3"/></g><g stroke="#619CFF"><circle cx="305.9" cy="454.6" r="2.3"/></g><g stroke="#00BA38"><circle cx="382.5" cy="396.0" r="2.3"/></g><g stroke="#619CFF"><circle cx="352.3" cy="420.6" r="2.3"/></g><g stroke="#F8766D"><circle cx="322.8" cy="460.1" r="2.3"/><circle cx="301.2" cy="447.0" r="2.3"/><circle cx="360.7" cy="417.8" r="2.3"/></g><g stroke="#619CFF"><circle cx="297.6" cy="452.8" r="2.3"/></g><g stroke="#F8766D"><circle cx="317.0" cy="431.4" r="2.3"/></g><g stroke="#00BA38"><circle cx="348.5" cy="438.3" r="2.3"/></g><g stroke="#F8766D"><circle cx="358.7" cy="396.6" r="2.3"/><circle cx="291.2" cy="457.2" r="2.3"/><circle cx="298.2" cy="432.5" r="2.3"/></g><g stroke="#619CFF"><circle cx="371.6" cy="435.7" r="2.3"/></g><g stroke="#00BA38"><circle cx="307.3" cy="447.0" r="2.3"/><circle cx="360.4" cy="430.5" r="2.3"/></g><g stroke="#F8766D"><circle cx="299.7" cy="479.2" r="2.3"/></g><g stroke="#00BA38"><circle cx="316.7" cy="474.8" r="2.3"/><circle cx="336.4" cy="484.9" r="2.3"/></g><g stroke="#F8766D"><circle cx="347.4" cy="415.1" r="2.3"/></g><g stroke="#00BA38"><circle cx="369.4" cy="415.1" r="2.3"/></g><g stroke="#F8766D"><circle cx="378.6" cy="386.1" r="2.3"/><circle cx="378.5" cy="406.8" r="2.3"/><circle cx="368.5" cy="413.8" r="2.3"/></g><g stroke="#00BA38"><circle cx="329.6" cy="443.4" r="2.3"/></g><g stroke="#F8766D"><circle cx="378.5" cy="450.8" r="2.3"/><circle cx="337.6" cy="423.0" r="2.3"/></g><g stroke="#00BA38"><circle cx="352.7" cy="422.3" r="2.3"/></g><g stroke="#F8766D"><circle cx="377.5" cy="410.3" r="2.3"/><circle cx="310.6" cy="465.5" r="2.3"/><circle cx="321.3" cy="455.8" r="2.3"/></g><g stroke="#00BA38"><circle cx="349.6" cy="439.2" r="2.3"/><circle cx="359.7" cy="406.0" r="2.3"/></g><g stroke="#F8766D"><circle cx="338.9" cy="456.0" r="2.3"/></g><g stroke="#00BA38"><circle cx="354.4" cy="404.9" r="2.3"/><circle cx="370.4" cy="420.7" r="2.3"/><circle cx="354.7" cy="438.1" r="2.3"/><circle cx="319.6" cy="462.2" r="2.3"/></g><g stroke="#F8766D"><circle cx="348.1" cy="448.0" r="2.3"/><circle cx="279.6" cy="417.4" r="2.3"/></g><g stroke="#619CFF"><circle cx="389.5" cy="425.0" r="2.3"/></g><g stroke="#F8766D"><circle cx="369.7" cy="421.9" r="2.3"/><circle cx="346.7" cy="449.2" r="2.3"/><circle cx="290.1" cy="467.6" r="2.3"/><circle cx="297.3" cy="431.7" r="2.3"/><circle cx="386.6" cy="395.8" r="2.3"/></g><g stroke="#619CFF"><circle cx="294.2" cy="447.0" r="2.3"/></g><g stroke="#F8766D"><circle cx="280.1" cy="411.0" r="2.3"/><circle cx="310.2" cy="503.6" r="2.3"/></g><g stroke="#00BA38"><circle cx="370.7" cy="428.7" r="2.3"/></g><g stroke="#F8766D"><circle cx="386.7" cy="399.1" r="2.3"/></g><g stroke="#00BA38"><circle cx="319.9" cy="440.0" r="2.3"/></g><g stroke="#F8766D"><circle cx="316.7" cy="484.0" r="2.3"/><circle cx="320.5" cy="447.3" r="2.3"/></g><g stroke="#00BA38"><circle cx="365.3" cy="400.6" r="2.3"/></g><g stroke="#619CFF"><circle cx="372.1" cy="411.9" r="2.3"/></g><g stroke="#F8766D"><circle cx="318.5" cy="453.3" r="2.3"/><circle cx="357.7" cy="405.5" r="2.3"/></g><g stroke="#619CFF"><circle cx="307.0" cy="475.6" r="2.3"/></g><g stroke="#F8766D"><circle cx="347.0" cy="419.1" r="2.3"/><circle cx="327.8" cy="450.3" r="2.3"/><circle cx="348.9" cy="406.5" r="2.3"/><circle cx="312.6" cy="469.4" r="2.3"/></g><g stroke="#00BA38"><circle cx="366.2" cy="432.4" r="2.3"/></g><g stroke="#F8766D"><circle cx="294.8" cy="442.9" r="2.3"/></g><g stroke="#619CFF"><circle cx="312.6" cy="488.8" r="2.3"/></g><g stroke="#00BA38"><circle cx="362.2" cy="428.1" r="2.3"/></g><g stroke="#F8766D"><circle cx="303.2" cy="462.5" r="2.3"/><circle cx="345.8" cy="462.5" r="2.3"/><circle cx="377.7" cy="436.2" r="2.3"/></g><g stroke="#00BA38"><circle cx="315.5" cy="452.3" r="2.3"/></g><g stroke="#F8766D"><circle cx="386.6" cy="393.6" r="2.3"/></g><g stroke="#00BA38"><circle cx="384.5" cy="447.9" r="2.3"/></g><g stroke="#619CFF"><circle cx="372.7" cy="403.1" r="2.3"/></g><g stroke="#F8766D"><circle cx="311.1" cy="445.0" r="2.3"/></g><g stroke="#00BA38"><circle cx="290.2" cy="448.4" r="2.3"/></g><g stroke="#F8766D"><circle cx="307.7" cy="425.6" r="2.3"/><circle cx="301.2" cy="426.9" r="2.3"/><circle cx="356.2" cy="405.0" r="2.3"/></g><g stroke="#619CFF"><circle cx="286.5" cy="419.2" r="2.3"/></g><g stroke="#F8766D"><circle cx="359.2" cy="436.7" r="2.3"/></g><g stroke="#619CFF"><circle cx="327.2" cy="448.3" r="2.3"/></g><g stroke="#F8766D"><circle cx="282.0" cy="438.8" r="2.3"/></g><g stroke="#619CFF"><circle cx="277.8" cy="379.8" r="2.3"/></g><g stroke="#F8766D"><circle cx="280.4" cy="389.2" r="2.3"/><circle cx="337.3" cy="464.7" r="2.3"/></g><g stroke="#619CFF"><circle cx="353.2" cy="400.0" r="2.3"/></g><g stroke="#F8766D"><circle cx="328.8" cy="436.3" r="2.3"/><circle cx="378.2" cy="399.9" r="2.3"/></g><g stroke="#619CFF"><circle cx="278.4" cy="435.1" r="2.3"/></g><g stroke="#F8766D"><circle cx="310.4" cy="450.2" r="2.3"/></g><g stroke="#00BA38"><circle cx="283.3" cy="410.7" r="2.3"/><circle cx="386.2" cy="433.5" r="2.3"/></g><g stroke="#F8766D"><circle cx="310.6" cy="486.7" r="2.3"/></g><g stroke="#619CFF"><circle cx="278.0" cy="432.1" r="2.3"/></g><g stroke="#F8766D"><circle cx="328.6" cy="465.8" r="2.3"/></g><g stroke="#619CFF"><circle cx="368.6" cy="406.7" r="2.3"/></g><g stroke="#F8766D"><circle cx="276.7" cy="444.6" r="2.3"/><circle cx="356.0" cy="422.5" r="2.3"/></g><g stroke="#619CFF"><circle cx="352.3" cy="415.9" r="2.3"/></g><g stroke="#F8766D"><circle cx="279.8" cy="401.0" r="2.3"/><circle cx="338.9" cy="454.1" r="2.3"/></g><g stroke="#00BA38"><circle cx="372.0" cy="430.6" r="2.3"/></g><g stroke="#619CFF"><circle cx="334.0" cy="408.9" r="2.3"/></g><g stroke="#F8766D"><circle cx="289.4" cy="449.5" r="2.3"/></g><g stroke="#619CFF"><circle cx="388.9" cy="414.0" r="2.3"/><circle cx="327.0" cy="457.6" r="2.3"/></g><g stroke="#F8766D"><circle cx="338.2" cy="404.4" r="2.3"/></g><g stroke="#619CFF"><circle cx="362.5" cy="428.5" r="2.3"/></g><g stroke="#F8766D"><circle cx="367.4" cy="396.9" r="2.3"/><circle cx="281.0" cy="446.3" r="2.3"/><circle cx="291.9" cy="454.3" r="2.3"/></g><g stroke="#00BA38"><circle cx="295.3" cy="482.9" r="2.3"/></g><g stroke="#619CFF"><circle cx="326.4" cy="463.5" r="2.3"/></g><g stroke="#F8766D"><circle cx="328.9" cy="460.3" r="2.3"/><circle cx="303.6" cy="463.7" r="2.3"/></g><g stroke="#619CFF"><circle cx="386.9" cy="411.3" r="2.3"/></g><g stroke="#F8766D"><circle cx="299.9" cy="473.9" r="2.3"/></g><g stroke="#00BA38"><circle cx="369.4" cy="411.0" r="2.3"/></g><g stroke="#F8766D"><circle cx="329.5" cy="461.7" r="2.3"/></g><g stroke="#00BA38"><circle cx="361.4" cy="373.2" r="2.3"/><circle cx="334.0" cy="412.0" r="2.3"/></g><g stroke="#F8766D"><circle cx="377.2" cy="403.7" r="2.3"/><circle cx="361.1" cy="428.8" r="2.3"/></g><g stroke="#00BA38"><circle cx="384.9" cy="396.2" r="2.3"/></g><g stroke="#F8766D"><circle cx="367.0" cy="385.4" r="2.3"/><circle cx="317.5" cy="462.7" r="2.3"/><circle cx="328.1" cy="448.7" r="2.3"/><circle cx="330.7" cy="446.0" r="2.3"/></g><g stroke="#00BA38"><circle cx="287.3" cy="404.8" r="2.3"/></g><g stroke="#F8766D"><circle cx="326.7" cy="458.7" r="2.3"/></g><g stroke="#00BA38"><circle cx="329.0" cy="510.8" r="2.3"/></g><g stroke="#F8766D"><circle cx="376.5" cy="439.2" r="2.3"/></g><g stroke="#619CFF"><circle cx="343.5" cy="458.6" r="2.3"/></g><g stroke="#00BA38"><circle cx="284.3" cy="445.5" r="2.3"/></g><g stroke="#F8766D"><circle cx="367.4" cy="423.2" r="2.3"/></g><g stroke="#00BA38"><circle cx="333.0" cy="419.5" r="2.3"/><circle cx="325.8" cy="479.5" r="2.3"/></g><g stroke="#F8766D"><circle cx="375.6" cy="405.8" r="2.3"/><circle cx="337.5" cy="422.7" r="2.3"/></g><g stroke="#00BA38"><circle cx="283.7" cy="400.2" r="2.3"/></g><g stroke="#619CFF"><circle cx="297.4" cy="443.8" r="2.3"/></g><g stroke="#F8766D"><circle cx="322.3" cy="457.5" r="2.3"/><circle cx="318.4" cy="460.7" r="2.3"/></g><g stroke="#00BA38"><circle cx="348.4" cy="375.4" r="2.3"/></g><g stroke="#619CFF"><circle cx="343.8" cy="434.9" r="2.3"/></g><g stroke="#F8766D"><circle cx="349.6" cy="477.3" r="2.3"/><circle cx="367.3" cy="384.4" r="2.3"/></g><g stroke="#619CFF"><circle cx="342.4" cy="449.8" r="2.3"/></g><g stroke="#F8766D"><circle cx="346.5" cy="416.1" r="2.3"/><circle cx="317.1" cy="413.9" r="2.3"/></g><g stroke="#619CFF"><circle cx="361.2" cy="366.8" r="2.3"/></g><g stroke="#00BA38"><circle cx="364.1" cy="438.9" r="2.3"/><circle cx="385.0" cy="386.0" r="2.3"/></g><g stroke="#619CFF"><circle cx="380.2" cy="429.6" r="2.3"/></g><g stroke="#00BA38"><circle cx="388.9" cy="437.4" r="2.3"/></g><g stroke="#F8766D"><circle cx="279.6" cy="450.7" r="2.3"/><circle cx="338.7" cy="415.2" r="2.3"/><circle cx="347.5" cy="411.4" r="2.3"/></g><g stroke="#619CFF"><circle cx="290.4" cy="469.5" r="2.3"/></g><g stroke="#F8766D"><circle cx="277.2" cy="410.0" r="2.3"/></g><g stroke="#619CFF"><circle cx="344.0" cy="427.7" r="2.3"/></g><g stroke="#F8766D"><circle cx="328.3" cy="413.6" r="2.3"/></g><g stroke="#619CFF"><circle cx="277.3" cy="420.0" r="2.3"/></g><g stroke="#F8766D"><circle cx="300.4" cy="453.1" r="2.3"/></g><g stroke="#00BA38"><circle cx="333.0" cy="455.3" r="2.3"/></g><g stroke="#F8766D"><circle cx="366.0" cy="436.6" r="2.3"/></g><g stroke="#00BA38"><circle cx="284.9" cy="444.8" r="2.3"/></g><g stroke="#619CFF"><circle cx="391.8" cy="399.4" r="2.3"/></g><g stroke="#F8766D"><circle cx="341.3" cy="419.6" r="2.3"/></g><g stroke="#00BA38"><circle cx="323.2" cy="454.9" r="2.3"/></g><g stroke="#F8766D"><circle cx="341.2" cy="423.9" r="2.3"/></g><g stroke="#00BA38"><circle cx="331.8" cy="474.0" r="2.3"/><circle cx="325.9" cy="425.4" r="2.3"/></g><g stroke="#619CFF"><circle cx="289.5" cy="429.7" r="2.3"/><circle cx="380.3" cy="418.2" r="2.3"/></g><g stroke="#00BA38"><circle cx="368.7" cy="402.3" r="2.3"/></g><g stroke="#F8766D"><circle cx="387.3" cy="384.2" r="2.3"/></g><g stroke="#00BA38"><circle cx="369.2" cy="411.9" r="2.3"/></g><g stroke="#F8766D"><circle cx="330.1" cy="448.4" r="2.3"/></g><g stroke="#619CFF"><circle cx="313.0" cy="457.5" r="2.3"/><circle cx="281.2" cy="448.4" r="2.3"/></g><g stroke="#F8766D"><circle cx="318.0" cy="454.5" r="2.3"/><circle cx="279.0" cy="429.6" r="2.3"/></g><g stroke="#00BA38"><circle cx="336.8" cy="416.7" r="2.3"/></g><g stroke="#F8766D"><circle cx="282.5" cy="439.3" r="2.3"/></g><g stroke="#00BA38"><circle cx="320.4" cy="456.6" r="2.3"/></g><g stroke="#F8766D"><circle cx="302.0" cy="492.9" r="2.3"/></g><g stroke="#00BA38"><circle cx="282.2" cy="437.2" r="2.3"/><circle cx="368.5" cy="420.8" r="2.3"/><circle cx="283.4" cy="424.4" r="2.3"/><circle cx="279.1" cy="412.2" r="2.3"/><circle cx="365.5" cy="430.4" r="2.3"/><circle cx="386.3" cy="383.8" r="2.3"/></g><g stroke="#619CFF"><circle cx="314.2" cy="483.6" r="2.3"/></g><g stroke="#F8766D"><circle cx="377.4" cy="408.2" r="2.3"/></g><g stroke="#00BA38"><circle cx="302.1" cy="426.3" r="2.3"/></g><g stroke="#F8766D"><circle cx="366.8" cy="387.7" r="2.3"/><circle cx="386.0" cy="411.3" r="2.3"/><circle cx="357.6" cy="434.5" r="2.3"/><circle cx="319.6" cy="427.0" r="2.3"/><circle cx="368.9" cy="407.5" r="2.3"/></g><g stroke="#619CFF"><circle cx="355.4" cy="383.6" r="2.3"/></g><g stroke="#F8766D"><circle cx="328.8" cy="423.1" r="2.3"/></g><g stroke="#00BA38"><circle cx="334.5" cy="449.8" r="2.3"/></g><g stroke="#F8766D"><circle cx="367.1" cy="424.6" r="2.3"/></g><g stroke="#00BA38"><circle cx="299.1" cy="466.1" r="2.3"/></g><g stroke="#619CFF"><circle cx="324.3" cy="471.3" r="2.3"/></g><g stroke="#F8766D"><circle cx="387.9" cy="395.8" r="2.3"/></g><g stroke="#00BA38"><circle cx="353.4" cy="414.6" r="2.3"/><circle cx="389.2" cy="453.0" r="2.3"/></g><g stroke="#619CFF"><circle cx="390.7" cy="411.5" r="2.3"/><circle cx="382.3" cy="435.1" r="2.3"/></g><g stroke="#00BA38"><circle cx="331.6" cy="448.2" r="2.3"/></g><g stroke="#F8766D"><circle cx="309.2" cy="480.4" r="2.3"/></g><g stroke="#00BA38"><circle cx="361.4" cy="410.1" r="2.3"/></g><g stroke="#F8766D"><circle cx="280.0" cy="429.0" r="2.3"/></g><g stroke="#619CFF"><circle cx="324.9" cy="477.3" r="2.3"/></g><g stroke="#F8766D"><circle cx="377.1" cy="404.9" r="2.3"/></g><g stroke="#00BA38"><circle cx="280.6" cy="418.0" r="2.3"/><circle cx="323.1" cy="476.3" r="2.3"/></g><g stroke="#619CFF"><circle cx="281.1" cy="428.1" r="2.3"/></g><g stroke="#F8766D"><circle cx="348.4" cy="400.2" r="2.3"/><circle cx="278.4" cy="390.7" r="2.3"/></g><g stroke="#619CFF"><circle cx="280.0" cy="463.2" r="2.3"/></g><g stroke="#00BA38"><circle cx="317.1" cy="415.8" r="2.3"/></g><g stroke="#F8766D"><circle cx="391.0" cy="395.0" r="2.3"/><circle cx="328.9" cy="434.5" r="2.3"/><circle cx="320.5" cy="451.4" r="2.3"/></g><g stroke="#00BA38"><circle cx="334.0" cy="450.5" r="2.3"/><circle cx="297.2" cy="468.7" r="2.3"/></g><g stroke="#F8766D"><circle cx="387.6" cy="407.2" r="2.3"/></g><g stroke="#00BA38"><circle cx="300.2" cy="494.5" r="2.3"/><circle cx="357.8" cy="431.4" r="2.3"/></g><g stroke="#F8766D"><circle cx="388.6" cy="426.2" r="2.3"/></g><g stroke="#00BA38"><circle cx="386.7" cy="423.1" r="2.3"/></g><g stroke="#619CFF"><circle cx="307.4" cy="450.6" r="2.3"/></g><g stroke="#F8766D"><circle cx="309.1" cy="419.9" r="2.3"/><circle cx="328.0" cy="470.5" r="2.3"/><circle cx="301.5" cy="454.3" r="2.3"/></g><g stroke="#619CFF"><circle cx="281.0" cy="393.7" r="2.3"/><circle cx="317.2" cy="448.1" r="2.3"/></g><g stroke="#00BA38"><circle cx="357.6" cy="437.8" r="2.3"/></g><g stroke="#F8766D"><circle cx="327.6" cy="475.0" r="2.3"/><circle cx="311.0" cy="445.6" r="2.3"/></g><g stroke="#00BA38"><circle cx="366.7" cy="428.9" r="2.3"/><circle cx="334.9" cy="454.2" r="2.3"/></g><g stroke="#F8766D"><circle cx="347.9" cy="408.4" r="2.3"/><circle cx="299.7" cy="469.8" r="2.3"/></g><g stroke="#619CFF"><circle cx="371.1" cy="429.6" r="2.3"/><circle cx="350.1" cy="389.1" r="2.3"/></g><g stroke="#F8766D"><circle cx="298.8" cy="473.5" r="2.3"/></g><g stroke="#619CFF"><circle cx="326.7" cy="427.2" r="2.3"/><circle cx="295.6" cy="459.9" r="2.3"/></g><g stroke="#F8766D"><circle cx="289.8" cy="433.7" r="2.3"/><circle cx="327.4" cy="411.4" r="2.3"/></g><g stroke="#00BA38"><circle cx="314.1" cy="487.1" r="2.3"/></g><g stroke="#F8766D"><circle cx="292.4" cy="411.2" r="2.3"/></g><g stroke="#00BA38"><circle cx="383.4" cy="402.0" r="2.3"/></g><g stroke="#F8766D"><circle cx="317.8" cy="450.0" r="2.3"/></g><g stroke="#00BA38"><circle cx="356.1" cy="416.6" r="2.3"/></g><g stroke="#F8766D"><circle cx="279.4" cy="412.8" r="2.3"/></g><g stroke="#00BA38"><circle cx="283.0" cy="464.4" r="2.3"/></g><g stroke="#F8766D"><circle cx="279.1" cy="376.3" r="2.3"/><circle cx="317.9" cy="436.8" r="2.3"/><circle cx="299.1" cy="468.6" r="2.3"/></g><g stroke="#00BA38"><circle cx="351.6" cy="439.6" r="2.3"/></g><g stroke="#F8766D"><circle cx="367.7" cy="436.7" r="2.3"/><circle cx="388.6" cy="427.3" r="2.3"/><circle cx="345.3" cy="442.2" r="2.3"/><circle cx="355.6" cy="419.1" r="2.3"/></g><g stroke="#00BA38"><circle cx="285.0" cy="431.0" r="2.3"/></g><g stroke="#F8766D"><circle cx="386.4" cy="453.6" r="2.3"/><circle cx="348.6" cy="450.1" r="2.3"/><circle cx="298.4" cy="457.4" r="2.3"/></g><rect x="270.4" y="357.9" width="127.5" height="172.10000000000002" fill="none" stroke="#8a8a8a" stroke-width="2.4"/><rect x="270.4" y="311.3" width="127.5" height="46.599999999999966" fill="#d9d9d9" stroke="#8a8a8a" stroke-width="2.3"/><line x1="269.6" x2="398.8" y1="357.9" y2="357.9" stroke="#646464" stroke-width="3"/><text x="333.5" y="343.2" font-size="25" text-anchor="middle">NR1D1</text><text x="250.4" y="391.0" text-anchor="end">2</text><text x="250.4" y="420.6" text-anchor="end">1</text><text x="250.4" y="450.3" text-anchor="end">0</text><text x="250.4" y="479.9" text-anchor="end">-1</text><text x="250.4" y="509.6" text-anchor="end">-2</text><text x="250.4" y="539.2" text-anchor="end">-3</text><path d="M262.6,380.6H270.4M262.6,410.2H270.4M262.6,439.9H270.4M262.6,469.5H270.4M262.6,499.2H270.4M262.6,528.8H270.4" stroke="#444" stroke-width="2"/><text x="270.2" y="563.1" text-anchor="middle">0</text><text x="332.5" y="563.1" text-anchor="middle">12</text><text x="393.1" y="563.1" text-anchor="middle">24</text>
<rect x="446.8" y="357.9" width="127.5" height="172.10000000000002" fill="#fff"/><path d="M452.6,357.9V530.0M462.3,357.9V530.0M472.0,357.9V530.0M481.7,357.9V530.0M491.4,357.9V530.0M501.1,357.9V530.0M510.8,357.9V530.0M520.5,357.9V530.0M530.2,357.9V530.0M539.9,357.9V530.0M549.6,357.9V530.0M559.3,357.9V530.0M569.0,357.9V530.0" stroke="#e8e8e8" stroke-width="1.4" fill="none"/><path d="M446.8,500.7H574.3M446.8,455.9H574.3M446.8,411.1H574.3M446.8,366.3H574.3" stroke="#ececec" stroke-width="1.2" fill="none"/><path d="M446.8,523.1H574.3M446.8,478.3H574.3M446.8,433.5H574.3M446.8,388.7H574.3" stroke="#e4e4e4" stroke-width="1.5" fill="none"/><g stroke="#F8766D"><circle cx="564.6" cy="429.5" r="2.3"/><circle cx="514.9" cy="404.1" r="2.3"/></g><g stroke="#00BA38"><circle cx="515.5" cy="423.3" r="2.3"/></g><g stroke="#F8766D"><circle cx="455.5" cy="427.1" r="2.3"/></g><g stroke="#619CFF"><circle cx="528.2" cy="437.7" r="2.3"/></g><g stroke="#F8766D"><circle cx="496.9" cy="404.9" r="2.3"/></g><g stroke="#619CFF"><circle cx="526.7" cy="433.7" r="2.3"/></g><g stroke="#F8766D"><circle cx="493.0" cy="410.6" r="2.3"/></g><g stroke="#00BA38"><circle cx="531.5" cy="460.0" r="2.3"/></g><g stroke="#F8766D"><circle cx="542.8" cy="438.3" r="2.3"/><circle cx="486.7" cy="404.3" r="2.3"/></g><g stroke="#619CFF"><circle cx="529.5" cy="419.1" r="2.3"/></g><g stroke="#00BA38"><circle cx="564.0" cy="517.5" r="2.3"/></g><g stroke="#619CFF"><circle cx="454.6" cy="461.4" r="2.3"/></g><g stroke="#F8766D"><circle cx="467.2" cy="455.7" r="2.3"/></g><g stroke="#00BA38"><circle cx="544.3" cy="506.0" r="2.3"/></g><g stroke="#F8766D"><circle cx="523.5" cy="429.7" r="2.3"/></g><g stroke="#00BA38"><circle cx="456.2" cy="491.9" r="2.3"/></g><g stroke="#F8766D"><circle cx="456.3" cy="430.3" r="2.3"/><circle cx="564.9" cy="481.2" r="2.3"/><circle cx="525.4" cy="416.2" r="2.3"/><circle cx="525.9" cy="422.2" r="2.3"/></g><g stroke="#619CFF"><circle cx="493.2" cy="423.7" r="2.3"/></g><g stroke="#F8766D"><circle cx="486.3" cy="404.7" r="2.3"/></g><g stroke="#619CFF"><circle cx="500.8" cy="455.0" r="2.3"/></g><g stroke="#F8766D"><circle cx="514.3" cy="441.5" r="2.3"/><circle cx="531.8" cy="485.4" r="2.3"/></g><g stroke="#00BA38"><circle cx="465.0" cy="482.0" r="2.3"/></g><g stroke="#F8766D"><circle cx="468.2" cy="411.0" r="2.3"/><circle cx="467.0" cy="403.9" r="2.3"/><circle cx="564.4" cy="473.0" r="2.3"/></g><g stroke="#00BA38"><circle cx="527.0" cy="447.9" r="2.3"/><circle cx="486.3" cy="427.4" r="2.3"/></g><g stroke="#F8766D"><circle cx="533.2" cy="436.2" r="2.3"/></g><g stroke="#00BA38"><circle cx="528.2" cy="438.9" r="2.3"/></g><g stroke="#619CFF"><circle cx="501.1" cy="370.7" r="2.3"/><circle cx="482.0" cy="441.0" r="2.3"/></g><g stroke="#F8766D"><circle cx="457.6" cy="454.3" r="2.3"/><circle cx="562.1" cy="466.6" r="2.3"/><circle cx="533.6" cy="479.0" r="2.3"/></g><g stroke="#00BA38"><circle cx="523.5" cy="431.8" r="2.3"/><circle cx="476.5" cy="381.5" r="2.3"/><circle cx="510.6" cy="440.0" r="2.3"/></g><g stroke="#F8766D"><circle cx="504.2" cy="391.4" r="2.3"/></g><g stroke="#00BA38"><circle cx="503.2" cy="383.8" r="2.3"/></g><g stroke="#F8766D"><circle cx="515.1" cy="393.7" r="2.3"/><circle cx="514.7" cy="453.7" r="2.3"/><circle cx="455.6" cy="398.8" r="2.3"/></g><g stroke="#619CFF"><circle cx="539.6" cy="459.6" r="2.3"/><circle cx="464.4" cy="438.5" r="2.3"/><circle cx="545.2" cy="437.8" r="2.3"/><circle cx="531.1" cy="457.3" r="2.3"/></g><g stroke="#F8766D"><circle cx="489.8" cy="363.7" r="2.3"/><circle cx="461.4" cy="461.1" r="2.3"/></g><g stroke="#00BA38"><circle cx="536.5" cy="471.2" r="2.3"/></g><g stroke="#F8766D"><circle cx="495.0" cy="439.1" r="2.3"/><circle cx="521.2" cy="481.2" r="2.3"/><circle cx="472.1" cy="415.0" r="2.3"/><circle cx="466.7" cy="441.5" r="2.3"/></g><g stroke="#00BA38"><circle cx="530.1" cy="432.0" r="2.3"/><circle cx="474.5" cy="382.6" r="2.3"/></g><g stroke="#F8766D"><circle cx="476.9" cy="430.4" r="2.3"/><circle cx="533.8" cy="467.7" r="2.3"/><circle cx="463.6" cy="486.8" r="2.3"/><circle cx="524.6" cy="411.5" r="2.3"/><circle cx="535.2" cy="505.9" r="2.3"/><circle cx="467.7" cy="400.1" r="2.3"/></g><g stroke="#619CFF"><circle cx="558.8" cy="493.4" r="2.3"/><circle cx="465.5" cy="456.0" r="2.3"/><circle cx="545.8" cy="502.7" r="2.3"/></g><g stroke="#00BA38"><circle cx="545.8" cy="458.4" r="2.3"/></g><g stroke="#F8766D"><circle cx="513.3" cy="439.1" r="2.3"/></g><g stroke="#619CFF"><circle cx="566.7" cy="469.8" r="2.3"/></g><g stroke="#F8766D"><circle cx="535.7" cy="466.7" r="2.3"/><circle cx="495.9" cy="380.6" r="2.3"/></g><g stroke="#00BA38"><circle cx="527.6" cy="408.8" r="2.3"/></g><g stroke="#F8766D"><circle cx="532.0" cy="451.3" r="2.3"/></g><g stroke="#00BA38"><circle cx="457.1" cy="424.5" r="2.3"/></g><g stroke="#619CFF"><circle cx="502.0" cy="382.6" r="2.3"/><circle cx="489.9" cy="386.4" r="2.3"/></g><g stroke="#F8766D"><circle cx="544.1" cy="485.2" r="2.3"/><circle cx="513.3" cy="419.8" r="2.3"/><circle cx="543.9" cy="440.6" r="2.3"/></g><g stroke="#619CFF"><circle cx="537.8" cy="478.1" r="2.3"/><circle cx="567.0" cy="409.7" r="2.3"/></g><g stroke="#00BA38"><circle cx="546.7" cy="476.9" r="2.3"/></g><g stroke="#619CFF"><circle cx="491.3" cy="399.3" r="2.3"/></g><g stroke="#F8766D"><circle cx="548.0" cy="462.4" r="2.3"/><circle cx="513.6" cy="421.3" r="2.3"/></g><g stroke="#00BA38"><circle cx="478.0" cy="416.6" r="2.3"/></g><g stroke="#F8766D"><circle cx="486.8" cy="371.8" r="2.3"/></g><g stroke="#00BA38"><circle cx="490.2" cy="364.1" r="2.3"/></g><g stroke="#619CFF"><circle cx="529.9" cy="433.2" r="2.3"/></g><g stroke="#F8766D"><circle cx="454.0" cy="476.0" r="2.3"/></g><g stroke="#00BA38"><circle cx="477.6" cy="406.5" r="2.3"/></g><g stroke="#F8766D"><circle cx="486.2" cy="441.4" r="2.3"/></g><g stroke="#00BA38"><circle cx="478.0" cy="420.4" r="2.3"/><circle cx="469.5" cy="449.8" r="2.3"/><circle cx="547.6" cy="446.2" r="2.3"/></g><g stroke="#619CFF"><circle cx="474.4" cy="414.4" r="2.3"/></g><g stroke="#F8766D"><circle cx="524.1" cy="463.9" r="2.3"/></g><g stroke="#00BA38"><circle cx="496.3" cy="449.1" r="2.3"/><circle cx="534.4" cy="420.5" r="2.3"/></g><g stroke="#F8766D"><circle cx="465.8" cy="416.4" r="2.3"/><circle cx="464.4" cy="433.5" r="2.3"/></g><g stroke="#619CFF"><circle cx="561.6" cy="458.1" r="2.3"/></g><g stroke="#00BA38"><circle cx="546.5" cy="505.5" r="2.3"/></g><g stroke="#F8766D"><circle cx="542.1" cy="483.5" r="2.3"/></g><g stroke="#619CFF"><circle cx="545.4" cy="453.2" r="2.3"/></g><g stroke="#F8766D"><circle cx="556.0" cy="441.7" r="2.3"/><circle cx="484.2" cy="462.7" r="2.3"/></g><g stroke="#00BA38"><circle cx="469.7" cy="410.0" r="2.3"/><circle cx="535.0" cy="483.0" r="2.3"/></g><g stroke="#619CFF"><circle cx="511.9" cy="423.4" r="2.3"/></g><g stroke="#00BA38"><circle cx="542.1" cy="464.4" r="2.3"/></g><g stroke="#F8766D"><circle cx="541.0" cy="459.4" r="2.3"/><circle cx="514.8" cy="413.4" r="2.3"/></g><g stroke="#619CFF"><circle cx="565.6" cy="488.7" r="2.3"/></g><g stroke="#F8766D"><circle cx="567.4" cy="442.7" r="2.3"/><circle cx="564.9" cy="473.2" r="2.3"/><circle cx="512.9" cy="412.8" r="2.3"/><circle cx="526.0" cy="427.6" r="2.3"/></g><g stroke="#619CFF"><circle cx="481.8" cy="383.1" r="2.3"/></g><g stroke="#00BA38"><circle cx="493.3" cy="438.5" r="2.3"/></g><g stroke="#F8766D"><circle cx="512.5" cy="396.6" r="2.3"/><circle cx="529.1" cy="441.5" r="2.3"/><circle cx="537.2" cy="465.5" r="2.3"/><circle cx="474.7" cy="381.5" r="2.3"/><circle cx="478.9" cy="439.8" r="2.3"/><circle cx="474.7" cy="423.9" r="2.3"/></g><g stroke="#619CFF"><circle cx="474.9" cy="449.2" r="2.3"/></g><g stroke="#00BA38"><circle cx="500.8" cy="424.1" r="2.3"/><circle cx="561.4" cy="417.9" r="2.3"/></g><g stroke="#F8766D"><circle cx="536.0" cy="469.3" r="2.3"/><circle cx="524.2" cy="457.5" r="2.3"/></g><g stroke="#619CFF"><circle cx="565.7" cy="468.4" r="2.3"/></g><g stroke="#F8766D"><circle cx="493.4" cy="394.3" r="2.3"/><circle cx="545.6" cy="472.6" r="2.3"/></g><g stroke="#619CFF"><circle cx="519.0" cy="421.9" r="2.3"/></g><g stroke="#F8766D"><circle cx="523.3" cy="413.6" r="2.3"/></g><g stroke="#619CFF"><circle cx="462.9" cy="386.4" r="2.3"/></g><g stroke="#F8766D"><circle cx="454.0" cy="417.8" r="2.3"/></g><g stroke="#00BA38"><circle cx="527.9" cy="437.0" r="2.3"/></g><g stroke="#619CFF"><circle cx="509.0" cy="429.9" r="2.3"/></g><g stroke="#00BA38"><circle cx="475.1" cy="434.5" r="2.3"/></g><g stroke="#F8766D"><circle cx="466.0" cy="461.1" r="2.3"/></g><g stroke="#619CFF"><circle cx="500.5" cy="419.7" r="2.3"/><circle cx="556.4" cy="485.7" r="2.3"/></g><g stroke="#F8766D"><circle cx="457.9" cy="414.9" r="2.3"/></g><g stroke="#00BA38"><circle cx="537.7" cy="455.0" r="2.3"/></g><g stroke="#F8766D"><circle cx="467.3" cy="398.8" r="2.3"/><circle cx="453.6" cy="376.0" r="2.3"/></g><g stroke="#00BA38"><circle cx="534.1" cy="490.8" r="2.3"/><circle cx="510.4" cy="449.3" r="2.3"/></g><g stroke="#619CFF"><circle cx="565.7" cy="447.0" r="2.3"/></g><g stroke="#F8766D"><circle cx="463.6" cy="437.8" r="2.3"/><circle cx="533.7" cy="403.9" r="2.3"/></g><g stroke="#619CFF"><circle cx="539.6" cy="434.2" r="2.3"/></g><g stroke="#F8766D"><circle cx="542.1" cy="465.7" r="2.3"/><circle cx="484.9" cy="395.1" r="2.3"/></g><g stroke="#619CFF"><circle cx="548.9" cy="503.6" r="2.3"/></g><g stroke="#F8766D"><circle cx="457.1" cy="473.5" r="2.3"/><circle cx="484.0" cy="399.4" r="2.3"/><circle cx="494.7" cy="394.6" r="2.3"/></g><g stroke="#619CFF"><circle cx="456.7" cy="414.3" r="2.3"/></g><g stroke="#F8766D"><circle cx="455.4" cy="448.7" r="2.3"/><circle cx="532.8" cy="443.0" r="2.3"/><circle cx="476.4" cy="369.5" r="2.3"/><circle cx="485.9" cy="400.4" r="2.3"/></g><g stroke="#619CFF"><circle cx="502.9" cy="401.0" r="2.3"/></g><g stroke="#F8766D"><circle cx="523.4" cy="392.9" r="2.3"/><circle cx="562.2" cy="510.6" r="2.3"/><circle cx="459.6" cy="406.7" r="2.3"/></g><g stroke="#00BA38"><circle cx="546.3" cy="508.5" r="2.3"/><circle cx="541.3" cy="467.7" r="2.3"/></g><g stroke="#F8766D"><circle cx="544.8" cy="440.1" r="2.3"/></g><g stroke="#619CFF"><circle cx="482.0" cy="422.7" r="2.3"/><circle cx="546.3" cy="455.4" r="2.3"/></g><g stroke="#F8766D"><circle cx="485.4" cy="432.6" r="2.3"/><circle cx="485.3" cy="403.4" r="2.3"/><circle cx="551.7" cy="490.8" r="2.3"/></g><g stroke="#619CFF"><circle cx="454.5" cy="443.1" r="2.3"/></g><g stroke="#F8766D"><circle cx="465.9" cy="442.4" r="2.3"/></g><g stroke="#619CFF"><circle cx="555.1" cy="478.4" r="2.3"/></g><g stroke="#00BA38"><circle cx="504.1" cy="451.4" r="2.3"/><circle cx="529.0" cy="468.2" r="2.3"/><circle cx="466.0" cy="464.1" r="2.3"/></g><g stroke="#F8766D"><circle cx="553.6" cy="514.3" r="2.3"/></g><g stroke="#00BA38"><circle cx="497.2" cy="426.1" r="2.3"/><circle cx="565.0" cy="451.9" r="2.3"/><circle cx="477.5" cy="410.7" r="2.3"/></g><g stroke="#F8766D"><circle cx="524.8" cy="424.5" r="2.3"/><circle cx="533.3" cy="440.4" r="2.3"/><circle cx="494.7" cy="428.6" r="2.3"/></g><g stroke="#00BA38"><circle cx="493.9" cy="420.1" r="2.3"/><circle cx="545.1" cy="474.9" r="2.3"/></g><g stroke="#F8766D"><circle cx="487.6" cy="400.9" r="2.3"/><circle cx="467.9" cy="417.2" r="2.3"/></g><g stroke="#00BA38"><circle cx="458.9" cy="431.4" r="2.3"/><circle cx="544.4" cy="467.7" r="2.3"/></g><g stroke="#F8766D"><circle cx="553.2" cy="434.7" r="2.3"/></g><g stroke="#00BA38"><circle cx="495.5" cy="472.7" r="2.3"/></g><g stroke="#619CFF"><circle cx="528.4" cy="424.6" r="2.3"/></g><g stroke="#00BA38"><circle cx="455.5" cy="475.9" r="2.3"/></g><g stroke="#F8766D"><circle cx="533.0" cy="466.9" r="2.3"/><circle cx="524.3" cy="428.3" r="2.3"/></g><g stroke="#619CFF"><circle cx="518.5" cy="434.5" r="2.3"/></g><g stroke="#00BA38"><circle cx="476.9" cy="400.8" r="2.3"/></g><g stroke="#F8766D"><circle cx="493.4" cy="389.5" r="2.3"/></g><g stroke="#00BA38"><circle cx="513.0" cy="417.5" r="2.3"/></g><g stroke="#619CFF"><circle cx="462.7" cy="447.0" r="2.3"/></g><g stroke="#00BA38"><circle cx="466.7" cy="451.9" r="2.3"/><circle cx="538.8" cy="501.5" r="2.3"/><circle cx="549.5" cy="506.6" r="2.3"/></g><g stroke="#F8766D"><circle cx="484.5" cy="421.8" r="2.3"/></g><g stroke="#00BA38"><circle cx="510.9" cy="423.7" r="2.3"/></g><g stroke="#F8766D"><circle cx="516.2" cy="427.0" r="2.3"/></g><g stroke="#00BA38"><circle cx="502.6" cy="386.9" r="2.3"/></g><g stroke="#F8766D"><circle cx="465.1" cy="457.1" r="2.3"/><circle cx="455.9" cy="455.1" r="2.3"/></g><g stroke="#00BA38"><circle cx="465.2" cy="431.9" r="2.3"/><circle cx="525.9" cy="415.5" r="2.3"/></g><g stroke="#619CFF"><circle cx="527.3" cy="446.7" r="2.3"/></g><g stroke="#F8766D"><circle cx="564.7" cy="446.1" r="2.3"/><circle cx="514.1" cy="437.4" r="2.3"/></g><g stroke="#619CFF"><circle cx="457.4" cy="447.8" r="2.3"/></g><g stroke="#F8766D"><circle cx="515.6" cy="403.8" r="2.3"/><circle cx="535.1" cy="494.5" r="2.3"/></g><g stroke="#00BA38"><circle cx="492.1" cy="419.5" r="2.3"/></g><g stroke="#619CFF"><circle cx="501.3" cy="401.3" r="2.3"/></g><g stroke="#00BA38"><circle cx="462.8" cy="411.9" r="2.3"/></g><g stroke="#F8766D"><circle cx="455.6" cy="435.5" r="2.3"/><circle cx="484.9" cy="415.3" r="2.3"/></g><g stroke="#00BA38"><circle cx="539.3" cy="491.1" r="2.3"/></g><g stroke="#F8766D"><circle cx="527.6" cy="454.8" r="2.3"/><circle cx="544.7" cy="495.3" r="2.3"/><circle cx="492.9" cy="399.2" r="2.3"/><circle cx="453.1" cy="459.5" r="2.3"/></g><g stroke="#00BA38"><circle cx="528.5" cy="482.3" r="2.3"/></g><g stroke="#619CFF"><circle cx="499.4" cy="384.6" r="2.3"/></g><g stroke="#F8766D"><circle cx="540.3" cy="435.4" r="2.3"/></g><g stroke="#619CFF"><circle cx="520.8" cy="429.8" r="2.3"/></g><g stroke="#00BA38"><circle cx="542.6" cy="484.0" r="2.3"/><circle cx="541.9" cy="480.0" r="2.3"/></g><g stroke="#F8766D"><circle cx="513.9" cy="397.1" r="2.3"/></g><g stroke="#619CFF"><circle cx="483.0" cy="466.8" r="2.3"/></g><g stroke="#00BA38"><circle cx="504.8" cy="407.7" r="2.3"/><circle cx="511.9" cy="420.1" r="2.3"/></g><g stroke="#F8766D"><circle cx="457.0" cy="445.8" r="2.3"/><circle cx="479.4" cy="427.4" r="2.3"/><circle cx="532.3" cy="474.3" r="2.3"/><circle cx="493.1" cy="375.6" r="2.3"/><circle cx="523.0" cy="421.6" r="2.3"/></g><g stroke="#619CFF"><circle cx="473.8" cy="414.8" r="2.3"/></g><g stroke="#F8766D"><circle cx="486.5" cy="374.7" r="2.3"/><circle cx="533.7" cy="476.7" r="2.3"/></g><g stroke="#00BA38"><circle cx="460.7" cy="472.8" r="2.3"/></g><g stroke="#F8766D"><circle cx="495.9" cy="438.2" r="2.3"/><circle cx="534.1" cy="464.1" r="2.3"/><circle cx="515.0" cy="445.3" r="2.3"/></g><g stroke="#619CFF"><circle cx="555.6" cy="494.1" r="2.3"/><circle cx="473.8" cy="416.6" r="2.3"/></g><g stroke="#F8766D"><circle cx="465.9" cy="425.4" r="2.3"/><circle cx="522.3" cy="420.1" r="2.3"/></g><g stroke="#00BA38"><circle cx="490.8" cy="432.8" r="2.3"/><circle cx="544.9" cy="494.8" r="2.3"/><circle cx="460.9" cy="406.5" r="2.3"/></g><g stroke="#F8766D"><circle cx="504.4" cy="407.1" r="2.3"/></g><g stroke="#619CFF"><circle cx="545.3" cy="464.2" r="2.3"/></g><g stroke="#F8766D"><circle cx="517.7" cy="401.3" r="2.3"/><circle cx="495.3" cy="432.5" r="2.3"/></g><g stroke="#00BA38"><circle cx="506.5" cy="438.5" r="2.3"/><circle cx="533.4" cy="521.8" r="2.3"/></g><g stroke="#F8766D"><circle cx="487.3" cy="420.1" r="2.3"/><circle cx="466.6" cy="440.1" r="2.3"/><circle cx="533.8" cy="420.9" r="2.3"/><circle cx="506.5" cy="378.0" r="2.3"/><circle cx="454.8" cy="444.7" r="2.3"/></g><g stroke="#619CFF"><circle cx="489.5" cy="392.5" r="2.3"/></g><g stroke="#F8766D"><circle cx="541.9" cy="496.2" r="2.3"/></g><g stroke="#619CFF"><circle cx="538.3" cy="481.2" r="2.3"/></g><g stroke="#F8766D"><circle cx="541.4" cy="457.3" r="2.3"/><circle cx="493.7" cy="426.7" r="2.3"/><circle cx="484.9" cy="410.2" r="2.3"/><circle cx="514.3" cy="451.2" r="2.3"/></g><g stroke="#00BA38"><circle cx="523.6" cy="465.6" r="2.3"/></g><g stroke="#F8766D"><circle cx="466.0" cy="422.5" r="2.3"/><circle cx="544.8" cy="442.3" r="2.3"/><circle cx="456.6" cy="416.8" r="2.3"/></g><g stroke="#00BA38"><circle cx="471.0" cy="506.9" r="2.3"/></g><g stroke="#F8766D"><circle cx="497.4" cy="406.1" r="2.3"/><circle cx="545.8" cy="442.7" r="2.3"/></g><g stroke="#00BA38"><circle cx="547.7" cy="424.3" r="2.3"/><circle cx="502.3" cy="367.9" r="2.3"/></g><g stroke="#F8766D"><circle cx="457.3" cy="450.4" r="2.3"/></g><g stroke="#619CFF"><circle cx="566.3" cy="438.0" r="2.3"/></g><g stroke="#F8766D"><circle cx="494.1" cy="431.3" r="2.3"/></g><g stroke="#619CFF"><circle cx="548.8" cy="494.2" r="2.3"/></g><g stroke="#F8766D"><circle cx="531.7" cy="433.4" r="2.3"/><circle cx="468.9" cy="430.8" r="2.3"/><circle cx="497.4" cy="387.6" r="2.3"/><circle cx="513.1" cy="425.0" r="2.3"/><circle cx="465.0" cy="460.0" r="2.3"/></g><g stroke="#619CFF"><circle cx="472.7" cy="499.9" r="2.3"/></g><g stroke="#F8766D"><circle cx="542.7" cy="485.5" r="2.3"/><circle cx="535.7" cy="400.4" r="2.3"/><circle cx="458.0" cy="472.3" r="2.3"/><circle cx="552.7" cy="487.2" r="2.3"/></g><g stroke="#619CFF"><circle cx="455.5" cy="413.8" r="2.3"/><circle cx="483.5" cy="403.0" r="2.3"/><circle cx="489.8" cy="418.0" r="2.3"/><circle cx="519.4" cy="414.5" r="2.3"/></g><g stroke="#00BA38"><circle cx="565.0" cy="476.4" r="2.3"/></g><g stroke="#619CFF"><circle cx="565.3" cy="438.1" r="2.3"/></g><g stroke="#F8766D"><circle cx="562.5" cy="467.7" r="2.3"/></g><g stroke="#00BA38"><circle cx="506.4" cy="408.2" r="2.3"/></g><g stroke="#F8766D"><circle cx="492.4" cy="370.7" r="2.3"/><circle cx="544.1" cy="460.3" r="2.3"/><circle cx="487.0" cy="396.8" r="2.3"/><circle cx="563.3" cy="455.9" r="2.3"/></g><g stroke="#619CFF"><circle cx="456.2" cy="466.3" r="2.3"/><circle cx="500.5" cy="416.9" r="2.3"/></g><g stroke="#F8766D"><circle cx="478.1" cy="427.8" r="2.3"/></g><g stroke="#00BA38"><circle cx="560.0" cy="509.7" r="2.3"/></g><g stroke="#619CFF"><circle cx="509.0" cy="431.7" r="2.3"/></g><g stroke="#00BA38"><circle cx="492.9" cy="401.7" r="2.3"/></g><g stroke="#F8766D"><circle cx="541.8" cy="504.6" r="2.3"/><circle cx="534.0" cy="456.2" r="2.3"/></g><g stroke="#00BA38"><circle cx="475.8" cy="415.4" r="2.3"/></g><g stroke="#F8766D"><circle cx="493.1" cy="475.3" r="2.3"/></g><g stroke="#00BA38"><circle cx="478.2" cy="410.2" r="2.3"/></g><g stroke="#F8766D"><circle cx="535.5" cy="500.3" r="2.3"/><circle cx="563.1" cy="452.3" r="2.3"/><circle cx="472.4" cy="382.4" r="2.3"/><circle cx="458.6" cy="453.1" r="2.3"/></g><g stroke="#00BA38"><circle cx="462.1" cy="432.9" r="2.3"/><circle cx="562.9" cy="493.0" r="2.3"/><circle cx="555.9" cy="452.2" r="2.3"/></g><g stroke="#619CFF"><circle cx="565.4" cy="468.3" r="2.3"/></g><g stroke="#F8766D"><circle cx="535.7" cy="462.8" r="2.3"/></g><g stroke="#00BA38"><circle cx="530.2" cy="464.4" r="2.3"/><circle cx="460.8" cy="389.2" r="2.3"/></g><g stroke="#619CFF"><circle cx="528.8" cy="425.2" r="2.3"/></g><g stroke="#00BA38"><circle cx="477.3" cy="375.1" r="2.3"/></g><g stroke="#F8766D"><circle cx="512.6" cy="377.9" r="2.3"/><circle cx="565.2" cy="449.5" r="2.3"/><circle cx="495.9" cy="414.9" r="2.3"/></g><g stroke="#619CFF"><circle cx="539.0" cy="458.7" r="2.3"/><circle cx="512.6" cy="402.2" r="2.3"/></g><g stroke="#F8766D"><circle cx="514.3" cy="410.0" r="2.3"/><circle cx="564.1" cy="435.5" r="2.3"/></g><g stroke="#619CFF"><circle cx="482.1" cy="378.0" r="2.3"/></g><g stroke="#F8766D"><circle cx="492.0" cy="413.8" r="2.3"/></g><g stroke="#00BA38"><circle cx="524.2" cy="451.9" r="2.3"/><circle cx="544.2" cy="458.4" r="2.3"/></g><g stroke="#F8766D"><circle cx="487.5" cy="431.7" r="2.3"/><circle cx="504.5" cy="369.0" r="2.3"/></g><g stroke="#619CFF"><circle cx="562.6" cy="492.6" r="2.3"/></g><g stroke="#00BA38"><circle cx="543.3" cy="503.7" r="2.3"/></g><g stroke="#F8766D"><circle cx="524.4" cy="467.5" r="2.3"/></g><g stroke="#619CFF"><circle cx="455.3" cy="452.3" r="2.3"/></g><g stroke="#00BA38"><circle cx="504.1" cy="401.3" r="2.3"/></g><g stroke="#619CFF"><circle cx="527.4" cy="470.1" r="2.3"/></g><g stroke="#00BA38"><circle cx="535.5" cy="473.0" r="2.3"/><circle cx="536.5" cy="437.9" r="2.3"/><circle cx="460.9" cy="425.7" r="2.3"/></g><g stroke="#619CFF"><circle cx="500.4" cy="410.5" r="2.3"/></g><g stroke="#F8766D"><circle cx="564.3" cy="451.3" r="2.3"/><circle cx="506.2" cy="418.6" r="2.3"/><circle cx="504.9" cy="391.3" r="2.3"/></g><g stroke="#619CFF"><circle cx="480.6" cy="405.0" r="2.3"/></g><g stroke="#F8766D"><circle cx="542.2" cy="485.4" r="2.3"/><circle cx="504.9" cy="403.9" r="2.3"/><circle cx="561.9" cy="463.2" r="2.3"/></g><g stroke="#619CFF"><circle cx="535.9" cy="458.5" r="2.3"/><circle cx="559.4" cy="444.7" r="2.3"/></g><g stroke="#00BA38"><circle cx="495.4" cy="404.5" r="2.3"/></g><g stroke="#F8766D"><circle cx="546.1" cy="454.6" r="2.3"/></g><g stroke="#619CFF"><circle cx="529.5" cy="463.1" r="2.3"/></g><g stroke="#00BA38"><circle cx="529.7" cy="461.4" r="2.3"/></g><g stroke="#F8766D"><circle cx="503.6" cy="409.3" r="2.3"/></g><g stroke="#619CFF"><circle cx="554.6" cy="440.1" r="2.3"/></g><g stroke="#F8766D"><circle cx="549.3" cy="448.0" r="2.3"/><circle cx="501.5" cy="438.0" r="2.3"/><circle cx="563.9" cy="481.2" r="2.3"/><circle cx="466.5" cy="451.9" r="2.3"/><circle cx="532.4" cy="449.8" r="2.3"/><circle cx="491.4" cy="421.6" r="2.3"/><circle cx="535.0" cy="416.5" r="2.3"/></g><g stroke="#00BA38"><circle cx="522.9" cy="439.8" r="2.3"/></g><g stroke="#F8766D"><circle cx="505.2" cy="428.2" r="2.3"/></g><g stroke="#00BA38"><circle cx="502.1" cy="391.0" r="2.3"/></g><g stroke="#F8766D"><circle cx="485.2" cy="380.7" r="2.3"/></g><g stroke="#619CFF"><circle cx="517.9" cy="465.3" r="2.3"/></g><g stroke="#F8766D"><circle cx="472.1" cy="442.7" r="2.3"/><circle cx="472.6" cy="444.2" r="2.3"/><circle cx="534.2" cy="440.3" r="2.3"/></g><g stroke="#00BA38"><circle cx="537.1" cy="466.8" r="2.3"/><circle cx="525.9" cy="380.1" r="2.3"/><circle cx="481.7" cy="397.6" r="2.3"/><circle cx="537.0" cy="469.0" r="2.3"/></g><g stroke="#F8766D"><circle cx="525.6" cy="475.1" r="2.3"/><circle cx="514.2" cy="441.6" r="2.3"/></g><g stroke="#619CFF"><circle cx="535.2" cy="429.6" r="2.3"/></g><g stroke="#F8766D"><circle cx="546.5" cy="452.2" r="2.3"/><circle cx="544.2" cy="456.8" r="2.3"/></g><g stroke="#00BA38"><circle cx="470.0" cy="426.6" r="2.3"/></g><g stroke="#F8766D"><circle cx="513.1" cy="417.1" r="2.3"/><circle cx="522.2" cy="457.2" r="2.3"/></g><g stroke="#00BA38"><circle cx="476.7" cy="420.4" r="2.3"/><circle cx="540.3" cy="435.3" r="2.3"/><circle cx="470.8" cy="409.1" r="2.3"/><circle cx="500.3" cy="399.9" r="2.3"/><circle cx="493.6" cy="406.2" r="2.3"/></g><g stroke="#619CFF"><circle cx="537.5" cy="449.9" r="2.3"/></g><g stroke="#F8766D"><circle cx="476.8" cy="415.0" r="2.3"/><circle cx="531.5" cy="438.0" r="2.3"/><circle cx="516.5" cy="403.4" r="2.3"/></g><g stroke="#00BA38"><circle cx="465.2" cy="413.5" r="2.3"/></g><g stroke="#F8766D"><circle cx="550.1" cy="458.2" r="2.3"/><circle cx="524.3" cy="446.5" r="2.3"/><circle cx="494.7" cy="416.5" r="2.3"/><circle cx="493.9" cy="375.9" r="2.3"/></g><g stroke="#00BA38"><circle cx="544.6" cy="466.2" r="2.3"/><circle cx="526.2" cy="433.2" r="2.3"/></g><g stroke="#F8766D"><circle cx="516.6" cy="431.9" r="2.3"/><circle cx="535.8" cy="499.7" r="2.3"/><circle cx="543.5" cy="414.0" r="2.3"/></g><g stroke="#00BA38"><circle cx="490.7" cy="417.9" r="2.3"/></g><g stroke="#F8766D"><circle cx="528.5" cy="440.7" r="2.3"/></g><g stroke="#00BA38"><circle cx="507.7" cy="404.0" r="2.3"/></g><g stroke="#619CFF"><circle cx="510.2" cy="413.6" r="2.3"/><circle cx="491.3" cy="466.0" r="2.3"/></g><g stroke="#F8766D"><circle cx="467.6" cy="468.7" r="2.3"/></g><g stroke="#00BA38"><circle cx="477.3" cy="415.5" r="2.3"/><circle cx="478.3" cy="402.9" r="2.3"/><circle cx="507.3" cy="382.6" r="2.3"/></g><g stroke="#619CFF"><circle cx="502.0" cy="434.4" r="2.3"/><circle cx="518.0" cy="459.8" r="2.3"/></g><g stroke="#F8766D"><circle cx="550.7" cy="472.3" r="2.3"/><circle cx="498.6" cy="436.4" r="2.3"/><circle cx="526.5" cy="440.4" r="2.3"/></g><g stroke="#619CFF"><circle cx="464.9" cy="449.0" r="2.3"/></g><g stroke="#F8766D"><circle cx="468.4" cy="425.0" r="2.3"/></g><g stroke="#00BA38"><circle cx="462.5" cy="422.3" r="2.3"/></g><g stroke="#F8766D"><circle cx="540.9" cy="413.1" r="2.3"/></g><g stroke="#619CFF"><circle cx="511.8" cy="395.8" r="2.3"/></g><g stroke="#F8766D"><circle cx="549.8" cy="476.3" r="2.3"/></g><g stroke="#619CFF"><circle cx="481.2" cy="403.6" r="2.3"/></g><g stroke="#00BA38"><circle cx="495.1" cy="409.5" r="2.3"/></g><g stroke="#F8766D"><circle cx="454.6" cy="437.1" r="2.3"/></g><g stroke="#00BA38"><circle cx="493.6" cy="404.2" r="2.3"/><circle cx="479.3" cy="408.5" r="2.3"/></g><g stroke="#F8766D"><circle cx="526.5" cy="484.8" r="2.3"/></g><g stroke="#00BA38"><circle cx="525.7" cy="439.8" r="2.3"/><circle cx="505.6" cy="389.6" r="2.3"/></g><g stroke="#619CFF"><circle cx="512.0" cy="469.0" r="2.3"/></g><g stroke="#F8766D"><circle cx="474.1" cy="467.2" r="2.3"/></g><g stroke="#00BA38"><circle cx="470.6" cy="440.4" r="2.3"/><circle cx="478.7" cy="389.7" r="2.3"/></g><g stroke="#F8766D"><circle cx="467.3" cy="462.9" r="2.3"/><circle cx="473.8" cy="393.9" r="2.3"/></g><g stroke="#00BA38"><circle cx="511.8" cy="411.4" r="2.3"/></g><g stroke="#F8766D"><circle cx="513.7" cy="416.5" r="2.3"/></g><g stroke="#619CFF"><circle cx="555.0" cy="443.7" r="2.3"/></g><g stroke="#F8766D"><circle cx="541.8" cy="486.9" r="2.3"/><circle cx="544.1" cy="460.8" r="2.3"/><circle cx="495.1" cy="402.8" r="2.3"/><circle cx="523.7" cy="452.4" r="2.3"/></g><g stroke="#00BA38"><circle cx="464.2" cy="392.7" r="2.3"/><circle cx="536.7" cy="472.9" r="2.3"/></g><g stroke="#F8766D"><circle cx="455.7" cy="483.4" r="2.3"/><circle cx="473.8" cy="421.9" r="2.3"/></g><g stroke="#00BA38"><circle cx="534.9" cy="469.9" r="2.3"/><circle cx="544.6" cy="488.5" r="2.3"/></g><g stroke="#F8766D"><circle cx="466.6" cy="437.3" r="2.3"/><circle cx="503.9" cy="403.2" r="2.3"/></g><g stroke="#619CFF"><circle cx="565.3" cy="468.0" r="2.3"/></g><g stroke="#F8766D"><circle cx="525.2" cy="405.4" r="2.3"/></g><g stroke="#00BA38"><circle cx="467.0" cy="457.1" r="2.3"/></g><g stroke="#F8766D"><circle cx="563.9" cy="480.1" r="2.3"/><circle cx="523.1" cy="436.8" r="2.3"/><circle cx="525.2" cy="432.2" r="2.3"/><circle cx="485.6" cy="407.3" r="2.3"/></g><g stroke="#619CFF"><circle cx="492.4" cy="410.5" r="2.3"/></g><g stroke="#F8766D"><circle cx="524.8" cy="411.5" r="2.3"/></g><g stroke="#619CFF"><circle cx="465.7" cy="416.5" r="2.3"/></g><g stroke="#00BA38"><circle cx="564.6" cy="438.0" r="2.3"/></g><g stroke="#F8766D"><circle cx="515.1" cy="425.0" r="2.3"/></g><g stroke="#00BA38"><circle cx="471.0" cy="440.0" r="2.3"/></g><g stroke="#619CFF"><circle cx="463.9" cy="435.3" r="2.3"/></g><g stroke="#F8766D"><circle cx="527.0" cy="420.1" r="2.3"/><circle cx="524.9" cy="434.2" r="2.3"/></g><g stroke="#00BA38"><circle cx="478.0" cy="427.4" r="2.3"/></g><g stroke="#619CFF"><circle cx="555.2" cy="511.2" r="2.3"/></g><g stroke="#F8766D"><circle cx="511.1" cy="414.6" r="2.3"/></g><g stroke="#00BA38"><circle cx="456.1" cy="412.0" r="2.3"/></g><g stroke="#F8766D"><circle cx="544.0" cy="450.9" r="2.3"/><circle cx="515.5" cy="434.2" r="2.3"/><circle cx="533.9" cy="491.2" r="2.3"/><circle cx="475.4" cy="441.0" r="2.3"/></g><g stroke="#619CFF"><circle cx="463.7" cy="435.2" r="2.3"/></g><g stroke="#00BA38"><circle cx="527.5" cy="446.2" r="2.3"/></g><g stroke="#619CFF"><circle cx="519.1" cy="458.1" r="2.3"/></g><g stroke="#F8766D"><circle cx="544.3" cy="432.4" r="2.3"/></g><g stroke="#619CFF"><circle cx="556.2" cy="475.5" r="2.3"/><circle cx="454.6" cy="463.3" r="2.3"/></g><g stroke="#F8766D"><circle cx="463.2" cy="438.4" r="2.3"/><circle cx="505.0" cy="392.3" r="2.3"/><circle cx="561.3" cy="505.6" r="2.3"/></g><g stroke="#619CFF"><circle cx="499.8" cy="434.7" r="2.3"/></g><g stroke="#00BA38"><circle cx="535.8" cy="481.2" r="2.3"/></g><g stroke="#F8766D"><circle cx="495.7" cy="428.8" r="2.3"/></g><g stroke="#619CFF"><circle cx="557.2" cy="511.5" r="2.3"/></g><g stroke="#F8766D"><circle cx="552.8" cy="473.6" r="2.3"/></g><g stroke="#00BA38"><circle cx="460.6" cy="469.5" r="2.3"/></g><g stroke="#F8766D"><circle cx="496.4" cy="452.6" r="2.3"/><circle cx="508.2" cy="417.4" r="2.3"/></g><g stroke="#00BA38"><circle cx="530.7" cy="494.7" r="2.3"/></g><g stroke="#F8766D"><circle cx="553.2" cy="449.3" r="2.3"/></g><g stroke="#00BA38"><circle cx="541.1" cy="505.1" r="2.3"/><circle cx="500.3" cy="367.9" r="2.3"/></g><g stroke="#619CFF"><circle cx="527.9" cy="472.5" r="2.3"/><circle cx="537.5" cy="432.5" r="2.3"/><circle cx="492.9" cy="387.9" r="2.3"/><circle cx="565.0" cy="477.5" r="2.3"/></g><g stroke="#F8766D"><circle cx="498.2" cy="414.8" r="2.3"/><circle cx="514.8" cy="457.3" r="2.3"/><circle cx="504.9" cy="424.1" r="2.3"/><circle cx="562.2" cy="465.2" r="2.3"/></g><g stroke="#619CFF"><circle cx="555.2" cy="474.8" r="2.3"/></g><g stroke="#00BA38"><circle cx="542.6" cy="475.0" r="2.3"/></g><g stroke="#F8766D"><circle cx="562.6" cy="430.6" r="2.3"/></g><g stroke="#619CFF"><circle cx="453.4" cy="419.6" r="2.3"/></g><g stroke="#F8766D"><circle cx="473.9" cy="440.3" r="2.3"/></g><g stroke="#00BA38"><circle cx="534.3" cy="458.0" r="2.3"/></g><g stroke="#F8766D"><circle cx="464.5" cy="459.8" r="2.3"/><circle cx="546.4" cy="458.4" r="2.3"/></g><g stroke="#619CFF"><circle cx="538.1" cy="478.8" r="2.3"/></g><g stroke="#F8766D"><circle cx="555.8" cy="468.1" r="2.3"/><circle cx="563.0" cy="460.1" r="2.3"/></g><g stroke="#00BA38"><circle cx="532.8" cy="469.8" r="2.3"/></g><g stroke="#619CFF"><circle cx="535.6" cy="447.8" r="2.3"/></g><g stroke="#F8766D"><circle cx="463.8" cy="411.5" r="2.3"/></g><g stroke="#00BA38"><circle cx="463.9" cy="442.8" r="2.3"/><circle cx="501.0" cy="414.9" r="2.3"/></g><g stroke="#619CFF"><circle cx="538.4" cy="431.9" r="2.3"/><circle cx="483.8" cy="399.7" r="2.3"/></g><g stroke="#00BA38"><circle cx="526.2" cy="401.4" r="2.3"/></g><g stroke="#F8766D"><circle cx="525.4" cy="462.2" r="2.3"/><circle cx="523.0" cy="457.6" r="2.3"/></g><g stroke="#619CFF"><circle cx="549.3" cy="455.4" r="2.3"/></g><g stroke="#F8766D"><circle cx="473.1" cy="406.0" r="2.3"/></g><g stroke="#619CFF"><circle cx="510.0" cy="422.6" r="2.3"/></g><g stroke="#F8766D"><circle cx="503.9" cy="390.9" r="2.3"/><circle cx="525.4" cy="438.1" r="2.3"/></g><g stroke="#00BA38"><circle cx="501.2" cy="392.1" r="2.3"/></g><g stroke="#F8766D"><circle cx="504.4" cy="427.2" r="2.3"/><circle cx="514.2" cy="439.3" r="2.3"/><circle cx="532.8" cy="470.7" r="2.3"/></g><g stroke="#00BA38"><circle cx="512.7" cy="380.4" r="2.3"/></g><g stroke="#F8766D"><circle cx="469.8" cy="436.1" r="2.3"/><circle cx="541.6" cy="451.2" r="2.3"/></g><g stroke="#00BA38"><circle cx="543.9" cy="481.9" r="2.3"/><circle cx="529.3" cy="472.6" r="2.3"/><circle cx="479.0" cy="418.4" r="2.3"/><circle cx="534.0" cy="475.0" r="2.3"/></g><g stroke="#F8766D"><circle cx="473.1" cy="424.5" r="2.3"/><circle cx="519.7" cy="437.1" r="2.3"/><circle cx="481.0" cy="366.9" r="2.3"/></g><g stroke="#619CFF"><circle cx="518.0" cy="429.4" r="2.3"/></g><g stroke="#F8766D"><circle cx="541.3" cy="444.1" r="2.3"/><circle cx="485.2" cy="418.0" r="2.3"/><circle cx="462.7" cy="473.7" r="2.3"/></g><rect x="446.8" y="357.9" width="127.5" height="172.10000000000002" fill="none" stroke="#8a8a8a" stroke-width="2.4"/><rect x="446.8" y="311.3" width="127.5" height="46.599999999999966" fill="#d9d9d9" stroke="#8a8a8a" stroke-width="2.3"/><line x1="445.9" x2="575.2" y1="357.9" y2="357.9" stroke="#646464" stroke-width="3"/><text x="509.5" y="343.2" font-size="25" text-anchor="middle">THBD</text><text x="426.8" y="399.1" text-anchor="end">1</text><text x="426.8" y="443.9" text-anchor="end">0</text><text x="426.8" y="488.7" text-anchor="end">-1</text><text x="426.8" y="533.5" text-anchor="end">-2</text><path d="M438.9,388.7H446.8M438.9,433.5H446.8M438.9,478.3H446.8M438.9,523.1H446.8" stroke="#444" stroke-width="2"/><text x="446.3" y="563.1" text-anchor="middle">0</text><text x="508.6" y="563.1" text-anchor="middle">12</text><text x="569.2" y="563.1" text-anchor="middle">24</text>
<rect x="623.1" y="357.9" width="127.5" height="172.10000000000002" fill="#fff"/><path d="M628.9,357.9V530.0M638.6,357.9V530.0M648.3,357.9V530.0M658.0,357.9V530.0M667.7,357.9V530.0M677.4,357.9V530.0M687.1,357.9V530.0M696.8,357.9V530.0M706.5,357.9V530.0M716.2,357.9V530.0M725.9,357.9V530.0M735.6,357.9V530.0M745.3,357.9V530.0" stroke="#e8e8e8" stroke-width="1.4" fill="none"/><path d="M623.1,493.9H750.6M623.1,456.7H750.6M623.1,419.5H750.6M623.1,382.3H750.6" stroke="#ececec" stroke-width="1.2" fill="none"/><path d="M623.1,512.5H750.6M623.1,475.3H750.6M623.1,438.1H750.6M623.1,400.9H750.6M623.1,363.7H750.6" stroke="#e4e4e4" stroke-width="1.5" fill="none"/><g stroke="#F8766D"><circle cx="651.6" cy="447.6" r="2.3"/><circle cx="742.5" cy="440.1" r="2.3"/></g><g stroke="#00BA38"><circle cx="681.7" cy="455.0" r="2.3"/><circle cx="683.8" cy="401.3" r="2.3"/></g><g stroke="#F8766D"><circle cx="668.6" cy="473.8" r="2.3"/><circle cx="741.5" cy="460.6" r="2.3"/></g><g stroke="#619CFF"><circle cx="677.8" cy="421.9" r="2.3"/></g><g stroke="#F8766D"><circle cx="661.8" cy="440.8" r="2.3"/><circle cx="659.0" cy="502.5" r="2.3"/><circle cx="699.3" cy="421.1" r="2.3"/><circle cx="655.2" cy="381.6" r="2.3"/><circle cx="705.9" cy="424.3" r="2.3"/><circle cx="664.7" cy="426.8" r="2.3"/><circle cx="632.7" cy="431.6" r="2.3"/></g><g stroke="#619CFF"><circle cx="733.5" cy="408.7" r="2.3"/></g><g stroke="#F8766D"><circle cx="701.7" cy="470.1" r="2.3"/></g><g stroke="#619CFF"><circle cx="696.5" cy="388.6" r="2.3"/></g><g stroke="#F8766D"><circle cx="684.4" cy="389.5" r="2.3"/></g><g stroke="#619CFF"><circle cx="703.2" cy="501.8" r="2.3"/></g><g stroke="#F8766D"><circle cx="680.5" cy="423.4" r="2.3"/></g><g stroke="#00BA38"><circle cx="634.2" cy="411.9" r="2.3"/></g><g stroke="#F8766D"><circle cx="738.9" cy="445.7" r="2.3"/></g><g stroke="#00BA38"><circle cx="642.3" cy="488.3" r="2.3"/><circle cx="637.9" cy="387.3" r="2.3"/></g><g stroke="#F8766D"><circle cx="692.5" cy="419.8" r="2.3"/><circle cx="631.8" cy="469.6" r="2.3"/></g><g stroke="#00BA38"><circle cx="676.1" cy="486.0" r="2.3"/></g><g stroke="#F8766D"><circle cx="631.2" cy="402.4" r="2.3"/><circle cx="718.6" cy="408.9" r="2.3"/></g><g stroke="#619CFF"><circle cx="631.6" cy="447.4" r="2.3"/></g><g stroke="#F8766D"><circle cx="727.1" cy="441.9" r="2.3"/></g><g stroke="#619CFF"><circle cx="742.4" cy="430.4" r="2.3"/></g><g stroke="#00BA38"><circle cx="641.6" cy="466.6" r="2.3"/></g><g stroke="#F8766D"><circle cx="642.4" cy="439.1" r="2.3"/><circle cx="652.5" cy="445.6" r="2.3"/></g><g stroke="#619CFF"><circle cx="744.9" cy="480.4" r="2.3"/></g><g stroke="#F8766D"><circle cx="727.4" cy="463.4" r="2.3"/></g><g stroke="#619CFF"><circle cx="649.4" cy="477.8" r="2.3"/></g><g stroke="#F8766D"><circle cx="700.6" cy="435.9" r="2.3"/></g><g stroke="#00BA38"><circle cx="736.7" cy="439.7" r="2.3"/></g><g stroke="#F8766D"><circle cx="701.2" cy="372.2" r="2.3"/></g><g stroke="#619CFF"><circle cx="630.2" cy="459.1" r="2.3"/></g><g stroke="#00BA38"><circle cx="688.7" cy="418.0" r="2.3"/></g><g stroke="#F8766D"><circle cx="636.0" cy="436.2" r="2.3"/></g><g stroke="#00BA38"><circle cx="721.8" cy="468.9" r="2.3"/></g><g stroke="#619CFF"><circle cx="660.5" cy="449.6" r="2.3"/></g><g stroke="#F8766D"><circle cx="669.9" cy="489.4" r="2.3"/><circle cx="692.1" cy="422.8" r="2.3"/></g><g stroke="#619CFF"><circle cx="650.7" cy="421.5" r="2.3"/><circle cx="694.9" cy="405.0" r="2.3"/></g><g stroke="#F8766D"><circle cx="633.6" cy="463.5" r="2.3"/></g><g stroke="#00BA38"><circle cx="650.7" cy="420.4" r="2.3"/></g><g stroke="#F8766D"><circle cx="730.9" cy="394.8" r="2.3"/></g><g stroke="#619CFF"><circle cx="686.6" cy="439.4" r="2.3"/></g><g stroke="#F8766D"><circle cx="632.9" cy="429.8" r="2.3"/></g><g stroke="#619CFF"><circle cx="712.8" cy="443.2" r="2.3"/></g><g stroke="#F8766D"><circle cx="653.1" cy="433.8" r="2.3"/><circle cx="730.8" cy="449.4" r="2.3"/><circle cx="650.1" cy="402.1" r="2.3"/></g><g stroke="#00BA38"><circle cx="678.3" cy="410.3" r="2.3"/><circle cx="650.6" cy="480.6" r="2.3"/></g><g stroke="#619CFF"><circle cx="696.1" cy="397.8" r="2.3"/></g><g stroke="#F8766D"><circle cx="730.6" cy="397.2" r="2.3"/></g><g stroke="#00BA38"><circle cx="653.6" cy="460.5" r="2.3"/><circle cx="735.8" cy="469.5" r="2.3"/></g><g stroke="#F8766D"><circle cx="652.7" cy="438.6" r="2.3"/><circle cx="633.1" cy="502.5" r="2.3"/><circle cx="664.8" cy="410.8" r="2.3"/><circle cx="670.6" cy="436.9" r="2.3"/><circle cx="718.2" cy="481.6" r="2.3"/><circle cx="682.0" cy="437.6" r="2.3"/></g><g stroke="#619CFF"><circle cx="632.5" cy="443.1" r="2.3"/></g><g stroke="#F8766D"><circle cx="719.6" cy="415.0" r="2.3"/><circle cx="712.2" cy="401.8" r="2.3"/><circle cx="690.9" cy="393.2" r="2.3"/><circle cx="655.3" cy="430.0" r="2.3"/><circle cx="692.7" cy="402.0" r="2.3"/><circle cx="730.7" cy="493.1" r="2.3"/></g><g stroke="#00BA38"><circle cx="686.6" cy="414.5" r="2.3"/></g><g stroke="#619CFF"><circle cx="714.3" cy="406.6" r="2.3"/></g><g stroke="#F8766D"><circle cx="680.8" cy="459.5" r="2.3"/></g><g stroke="#619CFF"><circle cx="698.7" cy="483.0" r="2.3"/><circle cx="714.6" cy="423.3" r="2.3"/></g><g stroke="#00BA38"><circle cx="670.1" cy="427.0" r="2.3"/></g><g stroke="#619CFF"><circle cx="675.7" cy="444.2" r="2.3"/></g><g stroke="#00BA38"><circle cx="715.0" cy="422.6" r="2.3"/><circle cx="636.4" cy="442.1" r="2.3"/><circle cx="637.7" cy="417.5" r="2.3"/><circle cx="649.2" cy="518.3" r="2.3"/></g><g stroke="#F8766D"><circle cx="640.7" cy="467.9" r="2.3"/><circle cx="698.5" cy="412.4" r="2.3"/><circle cx="672.3" cy="412.9" r="2.3"/></g><g stroke="#619CFF"><circle cx="742.6" cy="422.1" r="2.3"/></g><g stroke="#F8766D"><circle cx="632.5" cy="420.9" r="2.3"/></g><g stroke="#00BA38"><circle cx="718.7" cy="452.4" r="2.3"/><circle cx="704.1" cy="368.8" r="2.3"/></g><g stroke="#F8766D"><circle cx="709.2" cy="478.9" r="2.3"/></g><g stroke="#00BA38"><circle cx="723.0" cy="491.7" r="2.3"/></g><g stroke="#F8766D"><circle cx="674.1" cy="497.3" r="2.3"/></g><g stroke="#619CFF"><circle cx="742.2" cy="437.4" r="2.3"/></g><g stroke="#00BA38"><circle cx="636.7" cy="429.3" r="2.3"/><circle cx="691.1" cy="393.6" r="2.3"/></g><g stroke="#619CFF"><circle cx="704.8" cy="379.1" r="2.3"/></g><g stroke="#F8766D"><circle cx="651.5" cy="485.2" r="2.3"/></g><g stroke="#00BA38"><circle cx="640.7" cy="398.5" r="2.3"/></g><g stroke="#619CFF"><circle cx="666.7" cy="399.6" r="2.3"/></g><g stroke="#F8766D"><circle cx="653.8" cy="472.6" r="2.3"/></g><g stroke="#00BA38"><circle cx="713.4" cy="377.7" r="2.3"/></g><g stroke="#F8766D"><circle cx="668.2" cy="445.6" r="2.3"/></g><g stroke="#619CFF"><circle cx="630.4" cy="521.4" r="2.3"/></g><g stroke="#F8766D"><circle cx="632.4" cy="440.4" r="2.3"/><circle cx="643.2" cy="428.7" r="2.3"/><circle cx="674.3" cy="415.2" r="2.3"/><circle cx="635.2" cy="443.4" r="2.3"/><circle cx="669.6" cy="435.7" r="2.3"/></g><g stroke="#00BA38"><circle cx="656.4" cy="441.9" r="2.3"/></g><g stroke="#F8766D"><circle cx="690.6" cy="479.3" r="2.3"/></g><g stroke="#619CFF"><circle cx="651.9" cy="434.0" r="2.3"/></g><g stroke="#00BA38"><circle cx="654.7" cy="414.0" r="2.3"/></g><g stroke="#619CFF"><circle cx="731.6" cy="430.9" r="2.3"/></g><g stroke="#F8766D"><circle cx="726.7" cy="417.8" r="2.3"/></g><g stroke="#619CFF"><circle cx="630.6" cy="433.9" r="2.3"/></g><g stroke="#F8766D"><circle cx="729.1" cy="460.5" r="2.3"/></g><g stroke="#619CFF"><circle cx="696.5" cy="382.0" r="2.3"/></g><g stroke="#F8766D"><circle cx="654.9" cy="481.7" r="2.3"/></g><g stroke="#619CFF"><circle cx="659.9" cy="454.0" r="2.3"/></g><g stroke="#00BA38"><circle cx="687.2" cy="388.5" r="2.3"/><circle cx="712.1" cy="410.5" r="2.3"/></g><g stroke="#619CFF"><circle cx="653.7" cy="437.9" r="2.3"/></g><g stroke="#F8766D"><circle cx="709.7" cy="434.7" r="2.3"/><circle cx="631.4" cy="491.1" r="2.3"/></g><g stroke="#619CFF"><circle cx="639.1" cy="501.3" r="2.3"/><circle cx="651.2" cy="424.2" r="2.3"/></g><g stroke="#F8766D"><circle cx="717.4" cy="427.4" r="2.3"/></g><g stroke="#00BA38"><circle cx="653.8" cy="447.2" r="2.3"/></g><g stroke="#F8766D"><circle cx="630.6" cy="432.8" r="2.3"/><circle cx="669.9" cy="418.2" r="2.3"/></g><g stroke="#619CFF"><circle cx="715.2" cy="421.9" r="2.3"/><circle cx="651.5" cy="435.0" r="2.3"/></g><g stroke="#F8766D"><circle cx="661.8" cy="461.4" r="2.3"/></g><g stroke="#00BA38"><circle cx="690.5" cy="379.5" r="2.3"/></g><g stroke="#F8766D"><circle cx="741.7" cy="471.4" r="2.3"/></g><g stroke="#00BA38"><circle cx="737.1" cy="449.0" r="2.3"/></g><g stroke="#F8766D"><circle cx="651.0" cy="432.7" r="2.3"/></g><g stroke="#619CFF"><circle cx="741.9" cy="439.3" r="2.3"/></g><g stroke="#00BA38"><circle cx="708.7" cy="451.8" r="2.3"/></g><g stroke="#619CFF"><circle cx="667.7" cy="451.9" r="2.3"/></g><g stroke="#00BA38"><circle cx="636.6" cy="424.0" r="2.3"/></g><g stroke="#F8766D"><circle cx="708.1" cy="465.8" r="2.3"/></g><g stroke="#619CFF"><circle cx="713.5" cy="440.1" r="2.3"/></g><g stroke="#F8766D"><circle cx="643.0" cy="449.1" r="2.3"/></g><g stroke="#00BA38"><circle cx="704.1" cy="458.0" r="2.3"/></g><g stroke="#619CFF"><circle cx="686.7" cy="372.7" r="2.3"/><circle cx="688.9" cy="430.1" r="2.3"/></g><g stroke="#F8766D"><circle cx="640.8" cy="467.3" r="2.3"/></g><g stroke="#619CFF"><circle cx="666.4" cy="380.9" r="2.3"/></g><g stroke="#F8766D"><circle cx="700.3" cy="417.8" r="2.3"/><circle cx="711.5" cy="463.4" r="2.3"/></g><g stroke="#00BA38"><circle cx="642.5" cy="387.3" r="2.3"/></g><g stroke="#F8766D"><circle cx="710.9" cy="402.2" r="2.3"/><circle cx="701.0" cy="421.3" r="2.3"/></g><g stroke="#00BA38"><circle cx="644.7" cy="448.4" r="2.3"/></g><g stroke="#619CFF"><circle cx="696.9" cy="445.7" r="2.3"/></g><g stroke="#00BA38"><circle cx="702.4" cy="417.5" r="2.3"/></g><g stroke="#F8766D"><circle cx="633.7" cy="446.6" r="2.3"/></g><g stroke="#619CFF"><circle cx="677.8" cy="453.8" r="2.3"/></g><g stroke="#F8766D"><circle cx="672.4" cy="434.0" r="2.3"/><circle cx="699.3" cy="416.8" r="2.3"/><circle cx="673.0" cy="378.2" r="2.3"/><circle cx="662.7" cy="417.4" r="2.3"/></g><g stroke="#619CFF"><circle cx="642.0" cy="450.2" r="2.3"/></g><g stroke="#00BA38"><circle cx="633.4" cy="496.6" r="2.3"/><circle cx="681.5" cy="371.1" r="2.3"/></g><g stroke="#F8766D"><circle cx="698.9" cy="422.2" r="2.3"/></g><g stroke="#00BA38"><circle cx="637.5" cy="448.2" r="2.3"/></g><g stroke="#F8766D"><circle cx="741.5" cy="478.1" r="2.3"/><circle cx="700.1" cy="387.5" r="2.3"/></g><g stroke="#00BA38"><circle cx="678.1" cy="377.5" r="2.3"/></g><g stroke="#F8766D"><circle cx="681.6" cy="381.2" r="2.3"/></g><g stroke="#00BA38"><circle cx="718.8" cy="437.7" r="2.3"/><circle cx="680.1" cy="394.8" r="2.3"/></g><g stroke="#619CFF"><circle cx="733.9" cy="433.2" r="2.3"/><circle cx="658.9" cy="426.8" r="2.3"/></g><g stroke="#00BA38"><circle cx="714.3" cy="442.3" r="2.3"/></g><g stroke="#F8766D"><circle cx="692.2" cy="424.6" r="2.3"/></g><g stroke="#00BA38"><circle cx="676.8" cy="421.5" r="2.3"/></g><g stroke="#619CFF"><circle cx="742.4" cy="473.8" r="2.3"/></g><g stroke="#F8766D"><circle cx="699.6" cy="406.8" r="2.3"/><circle cx="682.0" cy="404.1" r="2.3"/></g><g stroke="#619CFF"><circle cx="705.8" cy="477.4" r="2.3"/></g><g stroke="#F8766D"><circle cx="697.2" cy="477.0" r="2.3"/><circle cx="722.3" cy="438.3" r="2.3"/><circle cx="712.2" cy="449.0" r="2.3"/><circle cx="739.6" cy="421.6" r="2.3"/></g><g stroke="#00BA38"><circle cx="670.0" cy="401.1" r="2.3"/></g><g stroke="#F8766D"><circle cx="712.6" cy="447.0" r="2.3"/><circle cx="671.6" cy="414.5" r="2.3"/><circle cx="731.5" cy="454.4" r="2.3"/><circle cx="662.9" cy="399.8" r="2.3"/></g><g stroke="#619CFF"><circle cx="633.9" cy="449.7" r="2.3"/></g><g stroke="#F8766D"><circle cx="653.4" cy="467.6" r="2.3"/><circle cx="633.2" cy="395.0" r="2.3"/><circle cx="652.0" cy="456.9" r="2.3"/><circle cx="703.9" cy="372.5" r="2.3"/><circle cx="701.6" cy="421.4" r="2.3"/></g><g stroke="#00BA38"><circle cx="673.3" cy="426.0" r="2.3"/></g><g stroke="#F8766D"><circle cx="741.7" cy="442.2" r="2.3"/></g><g stroke="#00BA38"><circle cx="656.1" cy="425.8" r="2.3"/></g><g stroke="#F8766D"><circle cx="642.8" cy="445.4" r="2.3"/></g><g stroke="#00BA38"><circle cx="688.0" cy="367.2" r="2.3"/></g><g stroke="#F8766D"><circle cx="699.9" cy="437.3" r="2.3"/><circle cx="658.5" cy="427.8" r="2.3"/></g><g stroke="#619CFF"><circle cx="659.9" cy="452.9" r="2.3"/></g><g stroke="#F8766D"><circle cx="695.3" cy="430.3" r="2.3"/></g><g stroke="#619CFF"><circle cx="649.1" cy="461.8" r="2.3"/></g><g stroke="#00BA38"><circle cx="725.2" cy="422.2" r="2.3"/></g><g stroke="#F8766D"><circle cx="718.4" cy="393.2" r="2.3"/><circle cx="640.6" cy="445.1" r="2.3"/></g><g stroke="#619CFF"><circle cx="667.5" cy="488.1" r="2.3"/></g><g stroke="#F8766D"><circle cx="641.9" cy="481.5" r="2.3"/></g><g stroke="#619CFF"><circle cx="733.8" cy="456.6" r="2.3"/></g><g stroke="#F8766D"><circle cx="643.7" cy="455.4" r="2.3"/><circle cx="640.1" cy="419.5" r="2.3"/><circle cx="671.2" cy="470.4" r="2.3"/><circle cx="634.2" cy="470.0" r="2.3"/></g><g stroke="#619CFF"><circle cx="717.0" cy="443.9" r="2.3"/></g><g stroke="#F8766D"><circle cx="670.2" cy="443.8" r="2.3"/></g><g stroke="#619CFF"><circle cx="660.2" cy="437.6" r="2.3"/></g><g stroke="#00BA38"><circle cx="637.9" cy="395.1" r="2.3"/></g><g stroke="#619CFF"><circle cx="659.1" cy="441.7" r="2.3"/></g><g stroke="#F8766D"><circle cx="680.5" cy="488.6" r="2.3"/><circle cx="682.4" cy="400.8" r="2.3"/></g><g stroke="#00BA38"><circle cx="719.2" cy="499.0" r="2.3"/></g><g stroke="#F8766D"><circle cx="635.5" cy="420.3" r="2.3"/></g><g stroke="#00BA38"><circle cx="649.4" cy="504.6" r="2.3"/></g><g stroke="#F8766D"><circle cx="741.6" cy="440.2" r="2.3"/></g><g stroke="#619CFF"><circle cx="706.1" cy="387.7" r="2.3"/></g><g stroke="#00BA38"><circle cx="712.8" cy="458.4" r="2.3"/></g><g stroke="#619CFF"><circle cx="646.9" cy="460.7" r="2.3"/></g><g stroke="#F8766D"><circle cx="643.5" cy="461.7" r="2.3"/></g><g stroke="#00BA38"><circle cx="735.2" cy="400.1" r="2.3"/><circle cx="711.3" cy="440.2" r="2.3"/><circle cx="639.1" cy="460.9" r="2.3"/><circle cx="710.5" cy="434.4" r="2.3"/><circle cx="717.8" cy="413.2" r="2.3"/></g><g stroke="#F8766D"><circle cx="670.3" cy="447.1" r="2.3"/></g><g stroke="#619CFF"><circle cx="743.5" cy="409.3" r="2.3"/></g><g stroke="#F8766D"><circle cx="658.4" cy="446.4" r="2.3"/><circle cx="741.8" cy="456.7" r="2.3"/><circle cx="635.3" cy="455.0" r="2.3"/><circle cx="690.9" cy="415.2" r="2.3"/><circle cx="729.2" cy="409.9" r="2.3"/><circle cx="688.7" cy="439.6" r="2.3"/></g><g stroke="#00BA38"><circle cx="719.9" cy="393.7" r="2.3"/><circle cx="718.6" cy="470.4" r="2.3"/></g><g stroke="#F8766D"><circle cx="653.3" cy="393.5" r="2.3"/><circle cx="729.4" cy="471.0" r="2.3"/></g><g stroke="#619CFF"><circle cx="676.2" cy="438.9" r="2.3"/><circle cx="707.5" cy="437.3" r="2.3"/></g><g stroke="#F8766D"><circle cx="643.7" cy="394.0" r="2.3"/><circle cx="700.6" cy="424.0" r="2.3"/></g><g stroke="#619CFF"><circle cx="703.7" cy="437.2" r="2.3"/></g><g stroke="#F8766D"><circle cx="690.6" cy="374.0" r="2.3"/><circle cx="660.4" cy="447.3" r="2.3"/><circle cx="668.7" cy="429.4" r="2.3"/></g><g stroke="#619CFF"><circle cx="650.1" cy="487.7" r="2.3"/></g><g stroke="#F8766D"><circle cx="726.4" cy="418.6" r="2.3"/></g><g stroke="#00BA38"><circle cx="706.8" cy="467.0" r="2.3"/></g><g stroke="#619CFF"><circle cx="668.1" cy="477.6" r="2.3"/></g><g stroke="#F8766D"><circle cx="719.0" cy="464.0" r="2.3"/></g><g stroke="#00BA38"><circle cx="640.2" cy="468.9" r="2.3"/></g><g stroke="#F8766D"><circle cx="633.1" cy="414.0" r="2.3"/><circle cx="739.6" cy="382.2" r="2.3"/></g><g stroke="#00BA38"><circle cx="723.2" cy="435.7" r="2.3"/></g><g stroke="#619CFF"><circle cx="722.9" cy="396.8" r="2.3"/><circle cx="732.5" cy="473.8" r="2.3"/></g><g stroke="#00BA38"><circle cx="705.3" cy="411.5" r="2.3"/></g><g stroke="#619CFF"><circle cx="742.5" cy="425.9" r="2.3"/></g><g stroke="#00BA38"><circle cx="710.5" cy="437.5" r="2.3"/></g><g stroke="#F8766D"><circle cx="658.6" cy="438.4" r="2.3"/><circle cx="634.1" cy="499.0" r="2.3"/><circle cx="700.4" cy="479.5" r="2.3"/></g><g stroke="#00BA38"><circle cx="666.8" cy="420.0" r="2.3"/></g><g stroke="#F8766D"><circle cx="690.6" cy="398.6" r="2.3"/><circle cx="650.6" cy="477.0" r="2.3"/><circle cx="653.0" cy="413.1" r="2.3"/></g><g stroke="#619CFF"><circle cx="650.2" cy="462.2" r="2.3"/></g><g stroke="#00BA38"><circle cx="738.1" cy="466.0" r="2.3"/></g><g stroke="#F8766D"><circle cx="736.6" cy="441.7" r="2.3"/><circle cx="661.2" cy="436.1" r="2.3"/></g><g stroke="#619CFF"><circle cx="683.9" cy="385.8" r="2.3"/></g><g stroke="#F8766D"><circle cx="702.1" cy="396.0" r="2.3"/></g><g stroke="#619CFF"><circle cx="681.3" cy="438.7" r="2.3"/></g><g stroke="#F8766D"><circle cx="691.6" cy="416.2" r="2.3"/><circle cx="720.9" cy="380.3" r="2.3"/></g><g stroke="#619CFF"><circle cx="714.6" cy="415.6" r="2.3"/><circle cx="697.7" cy="374.5" r="2.3"/></g><g stroke="#F8766D"><circle cx="672.6" cy="474.7" r="2.3"/></g><g stroke="#00BA38"><circle cx="703.8" cy="391.1" r="2.3"/></g><g stroke="#619CFF"><circle cx="658.2" cy="465.9" r="2.3"/></g><g stroke="#F8766D"><circle cx="688.9" cy="434.1" r="2.3"/><circle cx="740.1" cy="425.9" r="2.3"/></g><g stroke="#619CFF"><circle cx="632.6" cy="441.2" r="2.3"/></g><g stroke="#F8766D"><circle cx="672.1" cy="382.1" r="2.3"/></g><g stroke="#619CFF"><circle cx="717.2" cy="425.7" r="2.3"/></g><g stroke="#00BA38"><circle cx="681.5" cy="415.0" r="2.3"/><circle cx="634.5" cy="512.4" r="2.3"/></g><g stroke="#619CFF"><circle cx="741.6" cy="456.3" r="2.3"/></g><g stroke="#F8766D"><circle cx="680.7" cy="390.8" r="2.3"/><circle cx="632.8" cy="417.8" r="2.3"/></g><g stroke="#00BA38"><circle cx="691.4" cy="445.8" r="2.3"/></g><g stroke="#F8766D"><circle cx="662.9" cy="454.5" r="2.3"/></g><g stroke="#00BA38"><circle cx="706.2" cy="403.5" r="2.3"/><circle cx="688.7" cy="429.2" r="2.3"/></g><g stroke="#F8766D"><circle cx="633.3" cy="450.4" r="2.3"/><circle cx="682.8" cy="417.0" r="2.3"/><circle cx="678.8" cy="411.3" r="2.3"/></g><g stroke="#619CFF"><circle cx="740.1" cy="392.9" r="2.3"/></g><g stroke="#F8766D"><circle cx="662.0" cy="437.3" r="2.3"/><circle cx="708.8" cy="447.8" r="2.3"/><circle cx="690.9" cy="414.0" r="2.3"/></g><g stroke="#00BA38"><circle cx="710.9" cy="449.3" r="2.3"/><circle cx="678.5" cy="481.0" r="2.3"/></g><g stroke="#F8766D"><circle cx="690.9" cy="397.7" r="2.3"/><circle cx="701.7" cy="391.1" r="2.3"/><circle cx="720.2" cy="440.5" r="2.3"/></g><g stroke="#00BA38"><circle cx="709.1" cy="424.7" r="2.3"/><circle cx="670.3" cy="429.8" r="2.3"/></g><g stroke="#F8766D"><circle cx="726.3" cy="462.0" r="2.3"/></g><g stroke="#00BA38"><circle cx="678.8" cy="471.2" r="2.3"/></g><g stroke="#F8766D"><circle cx="662.0" cy="415.5" r="2.3"/><circle cx="659.8" cy="439.0" r="2.3"/><circle cx="711.7" cy="407.3" r="2.3"/></g><g stroke="#00BA38"><circle cx="721.3" cy="387.3" r="2.3"/></g><g stroke="#F8766D"><circle cx="631.4" cy="453.2" r="2.3"/></g><g stroke="#619CFF"><circle cx="707.7" cy="495.3" r="2.3"/></g><g stroke="#00BA38"><circle cx="637.4" cy="475.7" r="2.3"/><circle cx="644.9" cy="406.4" r="2.3"/></g><g stroke="#F8766D"><circle cx="727.5" cy="449.7" r="2.3"/><circle cx="728.7" cy="446.2" r="2.3"/><circle cx="661.7" cy="462.6" r="2.3"/></g><g stroke="#619CFF"><circle cx="659.3" cy="427.7" r="2.3"/></g><g stroke="#F8766D"><circle cx="651.2" cy="422.4" r="2.3"/><circle cx="719.1" cy="372.1" r="2.3"/><circle cx="691.2" cy="384.2" r="2.3"/><circle cx="737.8" cy="436.3" r="2.3"/></g><g stroke="#00BA38"><circle cx="636.9" cy="421.1" r="2.3"/></g><g stroke="#F8766D"><circle cx="631.3" cy="436.9" r="2.3"/><circle cx="652.3" cy="448.4" r="2.3"/></g><g stroke="#619CFF"><circle cx="630.4" cy="471.5" r="2.3"/></g><g stroke="#F8766D"><circle cx="654.5" cy="477.0" r="2.3"/><circle cx="631.7" cy="509.3" r="2.3"/></g><g stroke="#00BA38"><circle cx="649.8" cy="409.1" r="2.3"/></g><g stroke="#F8766D"><circle cx="662.3" cy="462.9" r="2.3"/><circle cx="633.6" cy="457.9" r="2.3"/></g><g stroke="#619CFF"><circle cx="722.1" cy="433.6" r="2.3"/></g><g stroke="#F8766D"><circle cx="631.1" cy="427.1" r="2.3"/><circle cx="720.0" cy="459.9" r="2.3"/><circle cx="690.4" cy="413.3" r="2.3"/><circle cx="655.9" cy="469.0" r="2.3"/></g><g stroke="#619CFF"><circle cx="713.7" cy="482.5" r="2.3"/></g><g stroke="#00BA38"><circle cx="720.4" cy="436.9" r="2.3"/></g><g stroke="#619CFF"><circle cx="688.2" cy="430.4" r="2.3"/></g><g stroke="#F8766D"><circle cx="710.0" cy="365.5" r="2.3"/></g><g stroke="#00BA38"><circle cx="706.5" cy="478.4" r="2.3"/><circle cx="645.2" cy="494.1" r="2.3"/><circle cx="720.2" cy="433.0" r="2.3"/></g><g stroke="#619CFF"><circle cx="730.7" cy="463.1" r="2.3"/></g><g stroke="#F8766D"><circle cx="680.8" cy="399.1" r="2.3"/><circle cx="640.4" cy="454.4" r="2.3"/></g><g stroke="#619CFF"><circle cx="704.9" cy="401.2" r="2.3"/><circle cx="678.1" cy="408.1" r="2.3"/><circle cx="650.0" cy="484.1" r="2.3"/></g><g stroke="#F8766D"><circle cx="644.0" cy="427.9" r="2.3"/><circle cx="720.0" cy="396.0" r="2.3"/><circle cx="698.2" cy="451.3" r="2.3"/><circle cx="653.2" cy="470.7" r="2.3"/></g><g stroke="#00BA38"><circle cx="670.3" cy="417.3" r="2.3"/></g><g stroke="#619CFF"><circle cx="633.9" cy="467.9" r="2.3"/></g><g stroke="#F8766D"><circle cx="731.4" cy="407.9" r="2.3"/></g><g stroke="#619CFF"><circle cx="640.6" cy="499.5" r="2.3"/></g><g stroke="#F8766D"><circle cx="682.4" cy="476.2" r="2.3"/><circle cx="669.4" cy="458.1" r="2.3"/></g><g stroke="#00BA38"><circle cx="652.2" cy="427.1" r="2.3"/><circle cx="671.6" cy="431.3" r="2.3"/><circle cx="677.6" cy="459.1" r="2.3"/></g><g stroke="#619CFF"><circle cx="676.6" cy="395.2" r="2.3"/></g><g stroke="#F8766D"><circle cx="732.9" cy="466.0" r="2.3"/></g><g stroke="#00BA38"><circle cx="741.1" cy="439.4" r="2.3"/></g><g stroke="#F8766D"><circle cx="660.6" cy="484.5" r="2.3"/></g><g stroke="#00BA38"><circle cx="717.3" cy="449.0" r="2.3"/></g><g stroke="#F8766D"><circle cx="641.3" cy="429.5" r="2.3"/></g><g stroke="#00BA38"><circle cx="654.1" cy="454.0" r="2.3"/><circle cx="706.5" cy="440.5" r="2.3"/></g><g stroke="#F8766D"><circle cx="691.8" cy="396.2" r="2.3"/><circle cx="701.2" cy="481.2" r="2.3"/></g><g stroke="#00BA38"><circle cx="648.4" cy="418.3" r="2.3"/><circle cx="735.3" cy="429.0" r="2.3"/></g><g stroke="#F8766D"><circle cx="741.9" cy="416.6" r="2.3"/><circle cx="650.9" cy="371.7" r="2.3"/><circle cx="738.9" cy="402.8" r="2.3"/><circle cx="642.2" cy="450.7" r="2.3"/></g><g stroke="#00BA38"><circle cx="644.9" cy="417.6" r="2.3"/></g><g stroke="#F8766D"><circle cx="682.1" cy="380.2" r="2.3"/></g><g stroke="#619CFF"><circle cx="733.2" cy="404.0" r="2.3"/></g><g stroke="#F8766D"><circle cx="739.8" cy="456.4" r="2.3"/><circle cx="725.0" cy="459.5" r="2.3"/></g><g stroke="#00BA38"><circle cx="650.4" cy="463.0" r="2.3"/><circle cx="651.2" cy="413.5" r="2.3"/></g><g stroke="#F8766D"><circle cx="720.5" cy="432.4" r="2.3"/></g><g stroke="#00BA38"><circle cx="740.5" cy="443.6" r="2.3"/><circle cx="679.6" cy="443.7" r="2.3"/><circle cx="679.9" cy="410.8" r="2.3"/></g><g stroke="#F8766D"><circle cx="652.1" cy="504.8" r="2.3"/></g><g stroke="#619CFF"><circle cx="686.8" cy="370.5" r="2.3"/></g><g stroke="#00BA38"><circle cx="687.4" cy="467.5" r="2.3"/></g><g stroke="#619CFF"><circle cx="652.0" cy="482.3" r="2.3"/></g><g stroke="#00BA38"><circle cx="739.1" cy="421.8" r="2.3"/></g><g stroke="#F8766D"><circle cx="718.1" cy="442.9" r="2.3"/></g><g stroke="#619CFF"><circle cx="733.9" cy="408.3" r="2.3"/></g><g stroke="#F8766D"><circle cx="714.4" cy="411.9" r="2.3"/><circle cx="650.2" cy="457.0" r="2.3"/><circle cx="741.1" cy="461.5" r="2.3"/><circle cx="699.7" cy="439.2" r="2.3"/></g><g stroke="#00BA38"><circle cx="639.5" cy="501.0" r="2.3"/></g><g stroke="#F8766D"><circle cx="670.9" cy="464.4" r="2.3"/><circle cx="702.7" cy="406.0" r="2.3"/><circle cx="691.7" cy="453.1" r="2.3"/><circle cx="739.1" cy="464.8" r="2.3"/></g><g stroke="#00BA38"><circle cx="680.1" cy="373.7" r="2.3"/></g><g stroke="#F8766D"><circle cx="738.4" cy="445.1" r="2.3"/><circle cx="730.6" cy="406.8" r="2.3"/></g><g stroke="#619CFF"><circle cx="694.8" cy="438.8" r="2.3"/></g><g stroke="#F8766D"><circle cx="680.4" cy="414.6" r="2.3"/></g><g stroke="#619CFF"><circle cx="740.8" cy="391.9" r="2.3"/><circle cx="694.1" cy="427.7" r="2.3"/></g><g stroke="#F8766D"><circle cx="699.0" cy="415.5" r="2.3"/></g><g stroke="#00BA38"><circle cx="739.5" cy="478.9" r="2.3"/></g><g stroke="#619CFF"><circle cx="651.6" cy="431.9" r="2.3"/></g><g stroke="#F8766D"><circle cx="670.5" cy="409.3" r="2.3"/></g><g stroke="#00BA38"><circle cx="720.4" cy="384.2" r="2.3"/></g><g stroke="#619CFF"><circle cx="659.2" cy="429.3" r="2.3"/></g><g stroke="#00BA38"><circle cx="688.8" cy="435.9" r="2.3"/></g><g stroke="#F8766D"><circle cx="700.5" cy="425.2" r="2.3"/><circle cx="661.2" cy="465.1" r="2.3"/></g><g stroke="#00BA38"><circle cx="653.6" cy="495.8" r="2.3"/></g><g stroke="#619CFF"><circle cx="648.3" cy="397.2" r="2.3"/></g><g stroke="#F8766D"><circle cx="680.5" cy="484.2" r="2.3"/></g><g stroke="#619CFF"><circle cx="639.6" cy="440.6" r="2.3"/></g><g stroke="#F8766D"><circle cx="649.0" cy="379.1" r="2.3"/></g><g stroke="#00BA38"><circle cx="717.8" cy="464.6" r="2.3"/></g><g stroke="#F8766D"><circle cx="727.2" cy="503.5" r="2.3"/><circle cx="671.0" cy="433.5" r="2.3"/><circle cx="631.5" cy="459.3" r="2.3"/><circle cx="642.1" cy="387.7" r="2.3"/></g><g stroke="#00BA38"><circle cx="712.8" cy="456.2" r="2.3"/><circle cx="713.1" cy="393.7" r="2.3"/><circle cx="705.5" cy="409.2" r="2.3"/><circle cx="718.3" cy="479.1" r="2.3"/></g><g stroke="#F8766D"><circle cx="634.1" cy="406.5" r="2.3"/></g><g stroke="#619CFF"><circle cx="677.6" cy="471.5" r="2.3"/></g><g stroke="#F8766D"><circle cx="730.7" cy="459.4" r="2.3"/><circle cx="711.2" cy="449.9" r="2.3"/></g><g stroke="#619CFF"><circle cx="686.2" cy="458.1" r="2.3"/></g><g stroke="#00BA38"><circle cx="712.5" cy="414.9" r="2.3"/></g><g stroke="#619CFF"><circle cx="650.2" cy="421.3" r="2.3"/></g><g stroke="#F8766D"><circle cx="692.3" cy="450.9" r="2.3"/><circle cx="670.1" cy="439.0" r="2.3"/></g><g stroke="#619CFF"><circle cx="639.8" cy="428.1" r="2.3"/></g><g stroke="#F8766D"><circle cx="671.4" cy="418.1" r="2.3"/><circle cx="680.7" cy="407.2" r="2.3"/></g><g stroke="#00BA38"><circle cx="707.9" cy="444.1" r="2.3"/><circle cx="676.5" cy="403.1" r="2.3"/></g><g stroke="#F8766D"><circle cx="678.9" cy="443.7" r="2.3"/><circle cx="682.6" cy="474.3" r="2.3"/><circle cx="730.9" cy="465.2" r="2.3"/></g><g stroke="#00BA38"><circle cx="706.9" cy="403.3" r="2.3"/><circle cx="738.1" cy="455.7" r="2.3"/><circle cx="680.0" cy="447.5" r="2.3"/></g><g stroke="#F8766D"><circle cx="702.0" cy="483.4" r="2.3"/></g><g stroke="#00BA38"><circle cx="668.4" cy="443.7" r="2.3"/></g><g stroke="#F8766D"><circle cx="712.0" cy="502.2" r="2.3"/></g><g stroke="#00BA38"><circle cx="740.9" cy="458.4" r="2.3"/></g><g stroke="#619CFF"><circle cx="687.6" cy="427.8" r="2.3"/></g><g stroke="#00BA38"><circle cx="720.7" cy="486.9" r="2.3"/></g><g stroke="#F8766D"><circle cx="739.1" cy="421.0" r="2.3"/><circle cx="719.3" cy="418.0" r="2.3"/></g><g stroke="#00BA38"><circle cx="722.1" cy="406.5" r="2.3"/></g><g stroke="#619CFF"><circle cx="658.1" cy="471.6" r="2.3"/></g><g stroke="#F8766D"><circle cx="700.8" cy="409.6" r="2.3"/></g><g stroke="#619CFF"><circle cx="666.4" cy="466.5" r="2.3"/></g><g stroke="#F8766D"><circle cx="691.0" cy="410.6" r="2.3"/></g><g stroke="#00BA38"><circle cx="711.8" cy="443.9" r="2.3"/><circle cx="715.3" cy="436.6" r="2.3"/></g><g stroke="#F8766D"><circle cx="661.7" cy="438.7" r="2.3"/><circle cx="663.0" cy="439.1" r="2.3"/></g><g stroke="#00BA38"><circle cx="672.2" cy="483.3" r="2.3"/></g><g stroke="#F8766D"><circle cx="712.1" cy="440.9" r="2.3"/></g><g stroke="#619CFF"><circle cx="669.5" cy="391.1" r="2.3"/></g><g stroke="#00BA38"><circle cx="643.6" cy="519.7" r="2.3"/></g><g stroke="#F8766D"><circle cx="728.0" cy="495.6" r="2.3"/></g><g stroke="#619CFF"><circle cx="704.8" cy="405.6" r="2.3"/></g><g stroke="#F8766D"><circle cx="634.1" cy="516.3" r="2.3"/><circle cx="710.1" cy="450.8" r="2.3"/><circle cx="631.8" cy="492.3" r="2.3"/></g><g stroke="#619CFF"><circle cx="706.7" cy="423.8" r="2.3"/></g><g stroke="#F8766D"><circle cx="730.0" cy="407.5" r="2.3"/><circle cx="701.0" cy="417.3" r="2.3"/><circle cx="652.4" cy="402.5" r="2.3"/></g><g stroke="#00BA38"><circle cx="654.0" cy="466.9" r="2.3"/></g><g stroke="#F8766D"><circle cx="731.7" cy="402.9" r="2.3"/></g><g stroke="#00BA38"><circle cx="703.3" cy="443.6" r="2.3"/></g><g stroke="#F8766D"><circle cx="661.3" cy="429.0" r="2.3"/></g><g stroke="#619CFF"><circle cx="670.0" cy="491.6" r="2.3"/><circle cx="687.3" cy="396.5" r="2.3"/></g><g stroke="#F8766D"><circle cx="634.4" cy="442.7" r="2.3"/><circle cx="666.0" cy="410.8" r="2.3"/><circle cx="683.1" cy="371.8" r="2.3"/></g><g stroke="#00BA38"><circle cx="647.5" cy="390.1" r="2.3"/></g><g stroke="#F8766D"><circle cx="653.4" cy="436.1" r="2.3"/></g><g stroke="#00BA38"><circle cx="672.4" cy="435.6" r="2.3"/><circle cx="721.1" cy="486.8" r="2.3"/><circle cx="721.9" cy="455.7" r="2.3"/><circle cx="713.4" cy="445.6" r="2.3"/></g><g stroke="#F8766D"><circle cx="712.3" cy="470.9" r="2.3"/><circle cx="741.3" cy="420.0" r="2.3"/><circle cx="700.8" cy="400.8" r="2.3"/><circle cx="651.2" cy="382.3" r="2.3"/><circle cx="677.8" cy="439.9" r="2.3"/></g><g stroke="#619CFF"><circle cx="686.6" cy="405.6" r="2.3"/></g><g stroke="#F8766D"><circle cx="630.8" cy="410.8" r="2.3"/><circle cx="640.6" cy="451.8" r="2.3"/></g><g stroke="#00BA38"><circle cx="722.3" cy="402.7" r="2.3"/></g><g stroke="#F8766D"><circle cx="673.6" cy="412.2" r="2.3"/></g><g stroke="#00BA38"><circle cx="737.0" cy="441.3" r="2.3"/></g><g stroke="#619CFF"><circle cx="639.6" cy="494.1" r="2.3"/></g><g stroke="#F8766D"><circle cx="652.0" cy="437.6" r="2.3"/></g><g stroke="#00BA38"><circle cx="666.0" cy="483.3" r="2.3"/></g><g stroke="#F8766D"><circle cx="734.6" cy="419.5" r="2.3"/><circle cx="654.7" cy="434.5" r="2.3"/><circle cx="641.4" cy="488.7" r="2.3"/></g><g stroke="#00BA38"><circle cx="715.0" cy="393.9" r="2.3"/></g><g stroke="#F8766D"><circle cx="741.0" cy="364.4" r="2.3"/><circle cx="709.7" cy="413.2" r="2.3"/><circle cx="741.4" cy="444.0" r="2.3"/><circle cx="635.5" cy="459.4" r="2.3"/></g><g stroke="#00BA38"><circle cx="702.7" cy="410.3" r="2.3"/><circle cx="720.2" cy="413.0" r="2.3"/><circle cx="635.2" cy="442.4" r="2.3"/></g><g stroke="#F8766D"><circle cx="710.5" cy="437.0" r="2.3"/></g><g stroke="#00BA38"><circle cx="670.1" cy="404.4" r="2.3"/></g><g stroke="#619CFF"><circle cx="694.0" cy="384.3" r="2.3"/></g><g stroke="#F8766D"><circle cx="689.5" cy="454.3" r="2.3"/></g><g stroke="#00BA38"><circle cx="684.2" cy="434.7" r="2.3"/></g><g stroke="#F8766D"><circle cx="672.9" cy="420.1" r="2.3"/></g><g stroke="#00BA38"><circle cx="642.2" cy="451.2" r="2.3"/></g><g stroke="#619CFF"><circle cx="650.5" cy="462.7" r="2.3"/></g><g stroke="#00BA38"><circle cx="708.7" cy="392.1" r="2.3"/><circle cx="632.9" cy="380.5" r="2.3"/><circle cx="739.8" cy="481.3" r="2.3"/></g><g stroke="#F8766D"><circle cx="700.0" cy="391.3" r="2.3"/></g><g stroke="#619CFF"><circle cx="658.8" cy="510.4" r="2.3"/></g><g stroke="#F8766D"><circle cx="711.3" cy="400.5" r="2.3"/><circle cx="735.7" cy="434.5" r="2.3"/><circle cx="711.6" cy="408.1" r="2.3"/><circle cx="680.8" cy="393.3" r="2.3"/><circle cx="641.4" cy="443.5" r="2.3"/></g><rect x="623.1" y="357.9" width="127.5" height="172.10000000000002" fill="none" stroke="#8a8a8a" stroke-width="2.4"/><rect x="623.1" y="311.3" width="127.5" height="46.599999999999966" fill="#d9d9d9" stroke="#8a8a8a" stroke-width="2.3"/><line x1="622.2" x2="751.5" y1="357.9" y2="357.9" stroke="#646464" stroke-width="3"/><text x="685.1" y="343.2" font-size="25" text-anchor="middle">CD1C</text><text x="603.1" y="374.1" text-anchor="end">2</text><text x="603.1" y="411.3" text-anchor="end">1</text><text x="603.1" y="448.5" text-anchor="end">0</text><text x="603.1" y="485.7" text-anchor="end">-1</text><text x="603.1" y="522.9" text-anchor="end">-2</text><path d="M615.2,363.7H623.1M615.2,400.9H623.1M615.2,438.1H623.1M615.2,475.3H623.1M615.2,512.5H623.1" stroke="#444" stroke-width="2"/><text x="622.4" y="563.1" text-anchor="middle">0</text><text x="684.7" y="563.1" text-anchor="middle">12</text><text x="745.3" y="563.1" text-anchor="middle">24</text>
<rect x="799.5" y="357.9" width="127.5" height="172.10000000000002" fill="#fff"/><path d="M805.3,357.9V530.0M815.0,357.9V530.0M824.7,357.9V530.0M834.4,357.9V530.0M844.1,357.9V530.0M853.8,357.9V530.0M863.5,357.9V530.0M873.2,357.9V530.0M882.9,357.9V530.0M892.6,357.9V530.0M902.3,357.9V530.0M912.0,357.9V530.0M921.7,357.9V530.0" stroke="#e8e8e8" stroke-width="1.4" fill="none"/><path d="M799.5,509.7H927.0M799.5,478.3H927.0M799.5,446.9H927.0M799.5,415.5H927.0M799.5,384.1H927.0" stroke="#ececec" stroke-width="1.2" fill="none"/><path d="M799.5,525.4H927.0M799.5,494.0H927.0M799.5,462.6H927.0M799.5,431.2H927.0M799.5,399.8H927.0M799.5,368.4H927.0" stroke="#e4e4e4" stroke-width="1.5" fill="none"/><g stroke="#F8766D"><circle cx="908.0" cy="389.0" r="2.3"/></g><g stroke="#00BA38"><circle cx="808.0" cy="405.8" r="2.3"/></g><g stroke="#F8766D"><circle cx="828.2" cy="445.9" r="2.3"/><circle cx="914.3" cy="383.3" r="2.3"/><circle cx="904.2" cy="389.7" r="2.3"/></g><g stroke="#00BA38"><circle cx="855.5" cy="449.9" r="2.3"/><circle cx="813.5" cy="421.6" r="2.3"/></g><g stroke="#F8766D"><circle cx="828.7" cy="456.5" r="2.3"/></g><g stroke="#619CFF"><circle cx="826.1" cy="424.0" r="2.3"/></g><g stroke="#00BA38"><circle cx="856.5" cy="412.2" r="2.3"/></g><g stroke="#F8766D"><circle cx="876.8" cy="451.8" r="2.3"/><circle cx="856.4" cy="452.8" r="2.3"/></g><g stroke="#619CFF"><circle cx="870.8" cy="428.0" r="2.3"/></g><g stroke="#F8766D"><circle cx="867.7" cy="418.4" r="2.3"/><circle cx="867.7" cy="470.1" r="2.3"/><circle cx="855.7" cy="422.0" r="2.3"/></g><g stroke="#619CFF"><circle cx="855.3" cy="414.2" r="2.3"/></g><g stroke="#00BA38"><circle cx="894.2" cy="392.6" r="2.3"/><circle cx="829.7" cy="439.0" r="2.3"/><circle cx="916.9" cy="365.4" r="2.3"/></g><g stroke="#F8766D"><circle cx="848.0" cy="451.1" r="2.3"/><circle cx="819.4" cy="444.8" r="2.3"/></g><g stroke="#00BA38"><circle cx="854.1" cy="436.6" r="2.3"/></g><g stroke="#F8766D"><circle cx="846.9" cy="452.8" r="2.3"/></g><g stroke="#00BA38"><circle cx="855.3" cy="454.7" r="2.3"/></g><g stroke="#619CFF"><circle cx="834.4" cy="429.9" r="2.3"/><circle cx="845.5" cy="485.7" r="2.3"/><circle cx="881.8" cy="411.8" r="2.3"/></g><g stroke="#F8766D"><circle cx="840.8" cy="428.1" r="2.3"/></g><g stroke="#619CFF"><circle cx="871.3" cy="416.8" r="2.3"/></g><g stroke="#00BA38"><circle cx="817.9" cy="386.2" r="2.3"/></g><g stroke="#F8766D"><circle cx="825.9" cy="435.1" r="2.3"/></g><g stroke="#619CFF"><circle cx="862.6" cy="462.2" r="2.3"/></g><g stroke="#00BA38"><circle cx="812.7" cy="400.3" r="2.3"/></g><g stroke="#F8766D"><circle cx="915.4" cy="383.0" r="2.3"/><circle cx="830.1" cy="445.4" r="2.3"/></g><g stroke="#619CFF"><circle cx="805.9" cy="383.9" r="2.3"/><circle cx="809.9" cy="393.7" r="2.3"/></g><g stroke="#00BA38"><circle cx="891.9" cy="403.1" r="2.3"/></g><g stroke="#F8766D"><circle cx="884.2" cy="435.3" r="2.3"/></g><g stroke="#00BA38"><circle cx="899.3" cy="367.2" r="2.3"/><circle cx="850.3" cy="460.7" r="2.3"/><circle cx="810.5" cy="409.2" r="2.3"/></g><g stroke="#F8766D"><circle cx="917.3" cy="367.4" r="2.3"/><circle cx="807.4" cy="436.3" r="2.3"/><circle cx="828.8" cy="432.7" r="2.3"/></g><g stroke="#00BA38"><circle cx="888.6" cy="427.0" r="2.3"/></g><g stroke="#619CFF"><circle cx="907.6" cy="392.4" r="2.3"/></g><g stroke="#00BA38"><circle cx="846.4" cy="425.6" r="2.3"/></g><g stroke="#619CFF"><circle cx="844.5" cy="459.9" r="2.3"/></g><g stroke="#F8766D"><circle cx="904.8" cy="377.0" r="2.3"/></g><g stroke="#00BA38"><circle cx="844.5" cy="435.1" r="2.3"/></g><g stroke="#619CFF"><circle cx="899.6" cy="382.9" r="2.3"/></g><g stroke="#00BA38"><circle cx="812.7" cy="373.6" r="2.3"/></g><g stroke="#619CFF"><circle cx="920.0" cy="418.7" r="2.3"/></g><g stroke="#F8766D"><circle cx="849.8" cy="447.4" r="2.3"/></g><g stroke="#00BA38"><circle cx="911.9" cy="411.5" r="2.3"/></g><g stroke="#F8766D"><circle cx="887.4" cy="430.2" r="2.3"/><circle cx="859.2" cy="476.2" r="2.3"/><circle cx="847.7" cy="425.0" r="2.3"/></g><g stroke="#00BA38"><circle cx="835.6" cy="430.2" r="2.3"/><circle cx="868.2" cy="443.8" r="2.3"/><circle cx="810.6" cy="426.0" r="2.3"/></g><g stroke="#F8766D"><circle cx="829.0" cy="417.4" r="2.3"/></g><g stroke="#619CFF"><circle cx="834.1" cy="408.7" r="2.3"/></g><g stroke="#F8766D"><circle cx="867.3" cy="400.5" r="2.3"/></g><g stroke="#619CFF"><circle cx="916.5" cy="392.2" r="2.3"/></g><g stroke="#F8766D"><circle cx="848.3" cy="488.6" r="2.3"/><circle cx="896.6" cy="386.1" r="2.3"/></g><g stroke="#619CFF"><circle cx="881.1" cy="412.3" r="2.3"/></g><g stroke="#00BA38"><circle cx="899.0" cy="384.7" r="2.3"/></g><g stroke="#F8766D"><circle cx="896.3" cy="404.4" r="2.3"/><circle cx="818.9" cy="439.4" r="2.3"/><circle cx="828.7" cy="497.9" r="2.3"/></g><g stroke="#00BA38"><circle cx="820.5" cy="416.5" r="2.3"/><circle cx="864.0" cy="441.7" r="2.3"/></g><g stroke="#619CFF"><circle cx="805.8" cy="410.6" r="2.3"/></g><g stroke="#F8766D"><circle cx="886.7" cy="419.5" r="2.3"/></g><g stroke="#00BA38"><circle cx="896.4" cy="395.6" r="2.3"/></g><g stroke="#F8766D"><circle cx="897.3" cy="392.8" r="2.3"/></g><g stroke="#619CFF"><circle cx="910.3" cy="390.2" r="2.3"/></g><g stroke="#F8766D"><circle cx="811.7" cy="439.6" r="2.3"/><circle cx="844.5" cy="417.7" r="2.3"/></g><g stroke="#619CFF"><circle cx="872.7" cy="426.5" r="2.3"/></g><g stroke="#F8766D"><circle cx="879.0" cy="436.0" r="2.3"/><circle cx="866.2" cy="417.2" r="2.3"/></g><g stroke="#00BA38"><circle cx="821.6" cy="423.6" r="2.3"/></g><g stroke="#F8766D"><circle cx="812.6" cy="410.1" r="2.3"/><circle cx="886.9" cy="420.2" r="2.3"/></g><g stroke="#00BA38"><circle cx="917.9" cy="413.9" r="2.3"/></g><g stroke="#F8766D"><circle cx="878.8" cy="461.8" r="2.3"/><circle cx="827.7" cy="432.7" r="2.3"/></g><g stroke="#619CFF"><circle cx="917.3" cy="428.0" r="2.3"/><circle cx="873.0" cy="435.7" r="2.3"/></g><g stroke="#00BA38"><circle cx="894.8" cy="390.9" r="2.3"/></g><g stroke="#F8766D"><circle cx="849.6" cy="424.3" r="2.3"/><circle cx="840.1" cy="443.8" r="2.3"/></g><g stroke="#00BA38"><circle cx="845.9" cy="428.4" r="2.3"/></g><g stroke="#F8766D"><circle cx="888.1" cy="389.2" r="2.3"/></g><g stroke="#619CFF"><circle cx="874.2" cy="422.7" r="2.3"/><circle cx="845.3" cy="442.4" r="2.3"/><circle cx="881.7" cy="455.9" r="2.3"/></g><g stroke="#F8766D"><circle cx="818.1" cy="419.5" r="2.3"/><circle cx="876.5" cy="454.8" r="2.3"/></g><g stroke="#619CFF"><circle cx="807.2" cy="393.2" r="2.3"/></g><g stroke="#F8766D"><circle cx="905.7" cy="390.2" r="2.3"/></g><g stroke="#619CFF"><circle cx="819.4" cy="455.7" r="2.3"/></g><g stroke="#F8766D"><circle cx="876.4" cy="432.8" r="2.3"/><circle cx="812.3" cy="366.9" r="2.3"/><circle cx="866.8" cy="444.4" r="2.3"/><circle cx="845.3" cy="433.6" r="2.3"/></g><g stroke="#00BA38"><circle cx="877.7" cy="436.4" r="2.3"/></g><g stroke="#F8766D"><circle cx="837.5" cy="420.4" r="2.3"/></g><g stroke="#00BA38"><circle cx="880.5" cy="410.3" r="2.3"/></g><g stroke="#F8766D"><circle cx="913.6" cy="391.9" r="2.3"/></g><g stroke="#00BA38"><circle cx="827.9" cy="452.1" r="2.3"/></g><g stroke="#F8766D"><circle cx="889.2" cy="405.1" r="2.3"/></g><g stroke="#00BA38"><circle cx="821.4" cy="438.5" r="2.3"/></g><g stroke="#619CFF"><circle cx="852.8" cy="458.2" r="2.3"/></g><g stroke="#F8766D"><circle cx="806.0" cy="374.8" r="2.3"/></g><g stroke="#00BA38"><circle cx="913.5" cy="395.7" r="2.3"/></g><g stroke="#619CFF"><circle cx="825.0" cy="455.2" r="2.3"/></g><g stroke="#F8766D"><circle cx="895.7" cy="398.8" r="2.3"/><circle cx="854.8" cy="456.1" r="2.3"/></g><g stroke="#00BA38"><circle cx="855.3" cy="422.1" r="2.3"/></g><g stroke="#619CFF"><circle cx="855.1" cy="446.1" r="2.3"/></g><g stroke="#F8766D"><circle cx="857.7" cy="426.2" r="2.3"/><circle cx="847.7" cy="444.1" r="2.3"/><circle cx="847.6" cy="447.9" r="2.3"/></g><g stroke="#00BA38"><circle cx="863.9" cy="478.9" r="2.3"/></g><g stroke="#F8766D"><circle cx="916.4" cy="429.2" r="2.3"/></g><g stroke="#619CFF"><circle cx="807.2" cy="413.9" r="2.3"/></g><g stroke="#F8766D"><circle cx="829.2" cy="465.9" r="2.3"/></g><g stroke="#00BA38"><circle cx="816.1" cy="441.9" r="2.3"/></g><g stroke="#F8766D"><circle cx="907.2" cy="398.9" r="2.3"/></g><g stroke="#619CFF"><circle cx="805.8" cy="407.2" r="2.3"/><circle cx="853.9" cy="433.1" r="2.3"/><circle cx="834.2" cy="435.0" r="2.3"/><circle cx="806.2" cy="369.6" r="2.3"/></g><g stroke="#F8766D"><circle cx="886.3" cy="422.1" r="2.3"/></g><g stroke="#00BA38"><circle cx="854.4" cy="442.6" r="2.3"/></g><g stroke="#F8766D"><circle cx="896.9" cy="408.5" r="2.3"/><circle cx="888.1" cy="387.5" r="2.3"/></g><g stroke="#619CFF"><circle cx="888.7" cy="410.6" r="2.3"/><circle cx="863.2" cy="431.0" r="2.3"/></g><g stroke="#00BA38"><circle cx="856.7" cy="467.9" r="2.3"/></g><g stroke="#F8766D"><circle cx="864.5" cy="481.8" r="2.3"/></g><g stroke="#00BA38"><circle cx="842.1" cy="452.9" r="2.3"/></g><g stroke="#619CFF"><circle cx="836.0" cy="448.2" r="2.3"/></g><g stroke="#00BA38"><circle cx="845.1" cy="452.1" r="2.3"/></g><g stroke="#F8766D"><circle cx="847.2" cy="432.7" r="2.3"/><circle cx="838.2" cy="448.2" r="2.3"/></g><g stroke="#00BA38"><circle cx="890.2" cy="382.1" r="2.3"/></g><g stroke="#619CFF"><circle cx="843.3" cy="440.4" r="2.3"/></g><g stroke="#F8766D"><circle cx="898.9" cy="435.8" r="2.3"/></g><g stroke="#00BA38"><circle cx="811.1" cy="435.3" r="2.3"/></g><g stroke="#F8766D"><circle cx="849.3" cy="459.9" r="2.3"/></g><g stroke="#619CFF"><circle cx="853.6" cy="440.7" r="2.3"/></g><g stroke="#F8766D"><circle cx="877.2" cy="438.4" r="2.3"/><circle cx="861.4" cy="450.4" r="2.3"/><circle cx="895.4" cy="417.2" r="2.3"/><circle cx="868.8" cy="461.7" r="2.3"/></g><g stroke="#00BA38"><circle cx="854.0" cy="444.4" r="2.3"/><circle cx="811.7" cy="426.4" r="2.3"/><circle cx="858.7" cy="460.2" r="2.3"/></g><g stroke="#F8766D"><circle cx="899.7" cy="411.7" r="2.3"/><circle cx="917.3" cy="401.1" r="2.3"/><circle cx="918.1" cy="399.3" r="2.3"/><circle cx="857.3" cy="429.6" r="2.3"/></g><g stroke="#00BA38"><circle cx="811.0" cy="402.2" r="2.3"/><circle cx="888.9" cy="420.3" r="2.3"/></g><g stroke="#619CFF"><circle cx="915.8" cy="418.5" r="2.3"/><circle cx="897.7" cy="363.4" r="2.3"/></g><g stroke="#F8766D"><circle cx="907.3" cy="456.5" r="2.3"/></g><g stroke="#00BA38"><circle cx="850.0" cy="456.2" r="2.3"/></g><g stroke="#619CFF"><circle cx="808.2" cy="431.5" r="2.3"/></g><g stroke="#F8766D"><circle cx="886.3" cy="431.9" r="2.3"/><circle cx="868.6" cy="462.0" r="2.3"/></g><g stroke="#00BA38"><circle cx="822.7" cy="435.2" r="2.3"/><circle cx="878.8" cy="436.5" r="2.3"/></g><g stroke="#F8766D"><circle cx="867.6" cy="438.3" r="2.3"/></g><g stroke="#00BA38"><circle cx="857.6" cy="446.2" r="2.3"/></g><g stroke="#F8766D"><circle cx="848.5" cy="432.0" r="2.3"/></g><g stroke="#00BA38"><circle cx="917.5" cy="381.7" r="2.3"/></g><g stroke="#619CFF"><circle cx="902.7" cy="375.1" r="2.3"/><circle cx="842.8" cy="435.5" r="2.3"/></g><g stroke="#00BA38"><circle cx="820.8" cy="411.4" r="2.3"/></g><g stroke="#619CFF"><circle cx="832.5" cy="401.2" r="2.3"/></g><g stroke="#00BA38"><circle cx="894.7" cy="387.4" r="2.3"/></g><g stroke="#619CFF"><circle cx="844.3" cy="459.3" r="2.3"/><circle cx="825.9" cy="416.1" r="2.3"/></g><g stroke="#F8766D"><circle cx="857.0" cy="445.7" r="2.3"/></g><g stroke="#00BA38"><circle cx="914.4" cy="384.6" r="2.3"/><circle cx="859.8" cy="451.1" r="2.3"/></g><g stroke="#F8766D"><circle cx="828.5" cy="419.7" r="2.3"/><circle cx="905.9" cy="425.0" r="2.3"/></g><g stroke="#00BA38"><circle cx="861.1" cy="457.1" r="2.3"/></g><g stroke="#F8766D"><circle cx="866.8" cy="419.8" r="2.3"/></g><g stroke="#00BA38"><circle cx="809.4" cy="438.9" r="2.3"/></g><g stroke="#F8766D"><circle cx="877.8" cy="439.9" r="2.3"/></g><g stroke="#00BA38"><circle cx="912.1" cy="432.5" r="2.3"/></g><g stroke="#F8766D"><circle cx="838.7" cy="431.7" r="2.3"/></g><g stroke="#619CFF"><circle cx="873.9" cy="413.4" r="2.3"/></g><g stroke="#F8766D"><circle cx="877.7" cy="423.2" r="2.3"/></g><g stroke="#619CFF"><circle cx="899.9" cy="386.5" r="2.3"/></g><g stroke="#00BA38"><circle cx="822.1" cy="423.6" r="2.3"/></g><g stroke="#619CFF"><circle cx="908.4" cy="398.4" r="2.3"/></g><g stroke="#F8766D"><circle cx="874.7" cy="450.9" r="2.3"/><circle cx="916.5" cy="412.5" r="2.3"/><circle cx="887.3" cy="376.6" r="2.3"/></g><g stroke="#00BA38"><circle cx="822.5" cy="441.5" r="2.3"/></g><g stroke="#F8766D"><circle cx="809.7" cy="422.0" r="2.3"/><circle cx="856.7" cy="463.0" r="2.3"/></g><g stroke="#619CFF"><circle cx="825.7" cy="411.8" r="2.3"/><circle cx="854.7" cy="438.4" r="2.3"/></g><g stroke="#F8766D"><circle cx="897.9" cy="372.7" r="2.3"/><circle cx="811.0" cy="402.0" r="2.3"/><circle cx="866.6" cy="432.5" r="2.3"/></g><g stroke="#00BA38"><circle cx="861.4" cy="411.0" r="2.3"/></g><g stroke="#F8766D"><circle cx="918.3" cy="364.0" r="2.3"/><circle cx="896.7" cy="371.1" r="2.3"/></g><g stroke="#619CFF"><circle cx="855.3" cy="467.4" r="2.3"/><circle cx="910.9" cy="371.3" r="2.3"/><circle cx="853.1" cy="427.7" r="2.3"/></g><g stroke="#00BA38"><circle cx="900.2" cy="393.9" r="2.3"/><circle cx="864.9" cy="440.6" r="2.3"/></g><g stroke="#F8766D"><circle cx="833.1" cy="427.9" r="2.3"/></g><g stroke="#00BA38"><circle cx="914.0" cy="386.5" r="2.3"/><circle cx="822.8" cy="439.6" r="2.3"/><circle cx="889.7" cy="408.0" r="2.3"/></g><g stroke="#619CFF"><circle cx="862.1" cy="450.5" r="2.3"/></g><g stroke="#F8766D"><circle cx="898.3" cy="376.3" r="2.3"/><circle cx="860.8" cy="431.7" r="2.3"/><circle cx="847.8" cy="482.7" r="2.3"/><circle cx="876.9" cy="432.4" r="2.3"/></g><g stroke="#00BA38"><circle cx="817.3" cy="416.1" r="2.3"/></g><g stroke="#F8766D"><circle cx="828.6" cy="457.0" r="2.3"/></g><g stroke="#00BA38"><circle cx="887.6" cy="429.0" r="2.3"/></g><g stroke="#619CFF"><circle cx="827.7" cy="418.3" r="2.3"/><circle cx="808.1" cy="455.9" r="2.3"/></g><g stroke="#F8766D"><circle cx="900.7" cy="422.6" r="2.3"/></g><g stroke="#00BA38"><circle cx="848.8" cy="475.0" r="2.3"/></g><g stroke="#F8766D"><circle cx="818.7" cy="409.3" r="2.3"/></g><g stroke="#00BA38"><circle cx="818.2" cy="457.7" r="2.3"/></g><g stroke="#619CFF"><circle cx="817.9" cy="463.4" r="2.3"/></g><g stroke="#00BA38"><circle cx="865.8" cy="455.4" r="2.3"/></g><g stroke="#619CFF"><circle cx="910.3" cy="425.6" r="2.3"/></g><g stroke="#F8766D"><circle cx="856.7" cy="432.2" r="2.3"/><circle cx="917.7" cy="389.9" r="2.3"/></g><g stroke="#00BA38"><circle cx="913.8" cy="391.9" r="2.3"/></g><g stroke="#F8766D"><circle cx="897.9" cy="415.6" r="2.3"/><circle cx="809.5" cy="444.5" r="2.3"/><circle cx="897.6" cy="407.1" r="2.3"/><circle cx="857.1" cy="456.2" r="2.3"/></g><g stroke="#00BA38"><circle cx="819.9" cy="408.4" r="2.3"/></g><g stroke="#619CFF"><circle cx="861.4" cy="440.6" r="2.3"/></g><g stroke="#F8766D"><circle cx="876.6" cy="449.6" r="2.3"/></g><g stroke="#619CFF"><circle cx="909.9" cy="374.3" r="2.3"/><circle cx="827.6" cy="414.6" r="2.3"/></g><g stroke="#F8766D"><circle cx="894.3" cy="420.9" r="2.3"/><circle cx="864.2" cy="473.8" r="2.3"/></g><g stroke="#00BA38"><circle cx="855.2" cy="403.6" r="2.3"/><circle cx="860.1" cy="457.9" r="2.3"/><circle cx="860.4" cy="405.1" r="2.3"/></g><g stroke="#619CFF"><circle cx="902.6" cy="443.2" r="2.3"/></g><g stroke="#F8766D"><circle cx="848.1" cy="462.9" r="2.3"/><circle cx="913.5" cy="388.4" r="2.3"/></g><g stroke="#00BA38"><circle cx="851.0" cy="472.7" r="2.3"/></g><g stroke="#F8766D"><circle cx="897.6" cy="403.5" r="2.3"/><circle cx="860.3" cy="422.8" r="2.3"/></g><g stroke="#00BA38"><circle cx="917.3" cy="379.0" r="2.3"/></g><g stroke="#F8766D"><circle cx="889.9" cy="427.3" r="2.3"/></g><g stroke="#00BA38"><circle cx="915.5" cy="398.8" r="2.3"/></g><g stroke="#F8766D"><circle cx="901.9" cy="395.8" r="2.3"/></g><g stroke="#619CFF"><circle cx="863.5" cy="422.9" r="2.3"/></g><g stroke="#F8766D"><circle cx="860.5" cy="434.3" r="2.3"/><circle cx="915.9" cy="427.1" r="2.3"/><circle cx="838.1" cy="436.2" r="2.3"/></g><g stroke="#619CFF"><circle cx="873.5" cy="421.3" r="2.3"/><circle cx="919.7" cy="367.2" r="2.3"/></g><g stroke="#00BA38"><circle cx="824.0" cy="412.8" r="2.3"/></g><g stroke="#F8766D"><circle cx="917.2" cy="400.8" r="2.3"/><circle cx="818.7" cy="424.7" r="2.3"/></g><g stroke="#619CFF"><circle cx="880.7" cy="447.7" r="2.3"/></g><g stroke="#F8766D"><circle cx="807.1" cy="395.2" r="2.3"/><circle cx="823.5" cy="408.6" r="2.3"/><circle cx="829.2" cy="420.8" r="2.3"/><circle cx="916.0" cy="380.4" r="2.3"/></g><g stroke="#619CFF"><circle cx="897.8" cy="389.3" r="2.3"/><circle cx="919.4" cy="418.6" r="2.3"/></g><g stroke="#F8766D"><circle cx="895.9" cy="431.1" r="2.3"/><circle cx="848.1" cy="495.5" r="2.3"/><circle cx="821.1" cy="429.5" r="2.3"/></g><g stroke="#00BA38"><circle cx="816.9" cy="403.2" r="2.3"/><circle cx="878.5" cy="436.7" r="2.3"/></g><g stroke="#F8766D"><circle cx="823.7" cy="430.3" r="2.3"/><circle cx="826.8" cy="427.0" r="2.3"/></g><g stroke="#619CFF"><circle cx="807.5" cy="386.1" r="2.3"/></g><g stroke="#00BA38"><circle cx="833.3" cy="445.4" r="2.3"/></g><g stroke="#619CFF"><circle cx="881.7" cy="411.8" r="2.3"/></g><g stroke="#00BA38"><circle cx="830.2" cy="426.3" r="2.3"/></g><g stroke="#619CFF"><circle cx="874.0" cy="416.6" r="2.3"/></g><g stroke="#00BA38"><circle cx="884.5" cy="429.2" r="2.3"/><circle cx="811.7" cy="385.4" r="2.3"/></g><g stroke="#F8766D"><circle cx="849.8" cy="448.5" r="2.3"/><circle cx="810.0" cy="433.8" r="2.3"/><circle cx="885.1" cy="410.4" r="2.3"/><circle cx="829.0" cy="402.6" r="2.3"/></g><g stroke="#00BA38"><circle cx="846.2" cy="392.5" r="2.3"/></g><g stroke="#619CFF"><circle cx="844.0" cy="455.1" r="2.3"/></g><g stroke="#00BA38"><circle cx="817.8" cy="421.8" r="2.3"/><circle cx="848.8" cy="453.8" r="2.3"/><circle cx="831.1" cy="455.7" r="2.3"/></g><g stroke="#F8766D"><circle cx="915.7" cy="405.2" r="2.3"/><circle cx="907.0" cy="395.4" r="2.3"/><circle cx="917.6" cy="371.6" r="2.3"/><circle cx="848.3" cy="425.0" r="2.3"/></g><g stroke="#00BA38"><circle cx="811.8" cy="423.3" r="2.3"/></g><g stroke="#619CFF"><circle cx="872.7" cy="466.5" r="2.3"/></g><g stroke="#F8766D"><circle cx="838.7" cy="469.9" r="2.3"/><circle cx="838.6" cy="416.2" r="2.3"/></g><g stroke="#00BA38"><circle cx="890.3" cy="423.5" r="2.3"/></g><g stroke="#619CFF"><circle cx="825.3" cy="446.5" r="2.3"/><circle cx="816.7" cy="418.4" r="2.3"/></g><g stroke="#F8766D"><circle cx="878.7" cy="443.0" r="2.3"/><circle cx="840.3" cy="429.2" r="2.3"/></g><g stroke="#619CFF"><circle cx="901.0" cy="375.5" r="2.3"/><circle cx="805.8" cy="437.7" r="2.3"/></g><g stroke="#F8766D"><circle cx="915.4" cy="388.5" r="2.3"/><circle cx="819.1" cy="445.5" r="2.3"/></g><g stroke="#00BA38"><circle cx="896.7" cy="412.8" r="2.3"/></g><g stroke="#F8766D"><circle cx="849.4" cy="468.5" r="2.3"/></g><g stroke="#00BA38"><circle cx="859.0" cy="436.4" r="2.3"/></g><g stroke="#F8766D"><circle cx="829.8" cy="442.2" r="2.3"/><circle cx="867.5" cy="462.7" r="2.3"/><circle cx="829.4" cy="456.4" r="2.3"/></g><g stroke="#00BA38"><circle cx="853.1" cy="432.9" r="2.3"/></g><g stroke="#F8766D"><circle cx="856.6" cy="442.6" r="2.3"/><circle cx="856.0" cy="485.1" r="2.3"/></g><g stroke="#00BA38"><circle cx="826.5" cy="425.4" r="2.3"/></g><g stroke="#F8766D"><circle cx="877.5" cy="465.3" r="2.3"/></g><g stroke="#619CFF"><circle cx="914.6" cy="422.9" r="2.3"/></g><g stroke="#F8766D"><circle cx="896.8" cy="367.8" r="2.3"/><circle cx="817.7" cy="417.7" r="2.3"/></g><g stroke="#619CFF"><circle cx="882.2" cy="425.7" r="2.3"/></g><g stroke="#F8766D"><circle cx="903.7" cy="413.2" r="2.3"/></g><g stroke="#00BA38"><circle cx="826.5" cy="396.1" r="2.3"/><circle cx="856.1" cy="439.6" r="2.3"/></g><g stroke="#619CFF"><circle cx="816.2" cy="423.9" r="2.3"/></g><g stroke="#F8766D"><circle cx="860.9" cy="454.5" r="2.3"/></g><g stroke="#00BA38"><circle cx="820.4" cy="402.3" r="2.3"/></g><g stroke="#F8766D"><circle cx="838.8" cy="440.1" r="2.3"/><circle cx="844.9" cy="468.1" r="2.3"/></g><g stroke="#00BA38"><circle cx="857.2" cy="443.8" r="2.3"/></g><g stroke="#F8766D"><circle cx="836.4" cy="445.8" r="2.3"/><circle cx="826.8" cy="432.5" r="2.3"/><circle cx="851.4" cy="456.0" r="2.3"/><circle cx="819.2" cy="433.7" r="2.3"/></g><g stroke="#619CFF"><circle cx="808.4" cy="382.5" r="2.3"/></g><g stroke="#F8766D"><circle cx="877.5" cy="469.6" r="2.3"/><circle cx="841.0" cy="460.3" r="2.3"/></g><g stroke="#619CFF"><circle cx="861.5" cy="448.3" r="2.3"/></g><g stroke="#F8766D"><circle cx="849.0" cy="458.0" r="2.3"/><circle cx="819.0" cy="381.6" r="2.3"/></g><g stroke="#619CFF"><circle cx="889.3" cy="372.6" r="2.3"/></g><g stroke="#00BA38"><circle cx="860.6" cy="419.0" r="2.3"/><circle cx="818.3" cy="435.5" r="2.3"/></g><g stroke="#619CFF"><circle cx="835.5" cy="442.3" r="2.3"/></g><g stroke="#00BA38"><circle cx="825.1" cy="425.8" r="2.3"/></g><g stroke="#F8766D"><circle cx="808.3" cy="422.4" r="2.3"/></g><g stroke="#619CFF"><circle cx="872.7" cy="476.7" r="2.3"/></g><g stroke="#F8766D"><circle cx="838.6" cy="441.3" r="2.3"/><circle cx="821.0" cy="443.4" r="2.3"/><circle cx="866.8" cy="424.3" r="2.3"/></g><g stroke="#00BA38"><circle cx="812.2" cy="383.5" r="2.3"/><circle cx="867.7" cy="450.9" r="2.3"/></g><g stroke="#F8766D"><circle cx="887.7" cy="416.9" r="2.3"/><circle cx="817.8" cy="415.9" r="2.3"/></g><g stroke="#00BA38"><circle cx="845.1" cy="428.6" r="2.3"/></g><g stroke="#619CFF"><circle cx="805.8" cy="412.6" r="2.3"/></g><g stroke="#F8766D"><circle cx="877.5" cy="483.4" r="2.3"/><circle cx="860.0" cy="436.5" r="2.3"/></g><g stroke="#00BA38"><circle cx="858.6" cy="421.2" r="2.3"/></g><g stroke="#F8766D"><circle cx="898.9" cy="384.4" r="2.3"/></g><g stroke="#00BA38"><circle cx="899.2" cy="395.7" r="2.3"/></g><g stroke="#619CFF"><circle cx="852.7" cy="481.1" r="2.3"/><circle cx="841.0" cy="482.3" r="2.3"/></g><g stroke="#00BA38"><circle cx="897.3" cy="375.5" r="2.3"/></g><g stroke="#F8766D"><circle cx="856.4" cy="450.3" r="2.3"/><circle cx="896.5" cy="363.0" r="2.3"/><circle cx="831.8" cy="469.4" r="2.3"/><circle cx="819.9" cy="446.5" r="2.3"/></g><g stroke="#00BA38"><circle cx="847.5" cy="463.5" r="2.3"/><circle cx="915.6" cy="424.9" r="2.3"/></g><g stroke="#F8766D"><circle cx="831.2" cy="475.8" r="2.3"/><circle cx="866.2" cy="420.4" r="2.3"/><circle cx="917.2" cy="412.2" r="2.3"/><circle cx="845.8" cy="439.1" r="2.3"/><circle cx="820.0" cy="407.7" r="2.3"/></g><g stroke="#00BA38"><circle cx="856.1" cy="420.1" r="2.3"/></g><g stroke="#F8766D"><circle cx="886.4" cy="396.1" r="2.3"/><circle cx="868.4" cy="450.9" r="2.3"/><circle cx="905.0" cy="381.8" r="2.3"/><circle cx="859.0" cy="409.0" r="2.3"/></g><g stroke="#619CFF"><circle cx="864.0" cy="471.2" r="2.3"/></g><g stroke="#F8766D"><circle cx="835.8" cy="485.4" r="2.3"/><circle cx="840.4" cy="428.9" r="2.3"/><circle cx="819.2" cy="433.2" r="2.3"/></g><g stroke="#619CFF"><circle cx="836.8" cy="479.0" r="2.3"/></g><g stroke="#F8766D"><circle cx="905.8" cy="408.4" r="2.3"/><circle cx="855.9" cy="445.5" r="2.3"/><circle cx="830.8" cy="437.9" r="2.3"/></g><g stroke="#00BA38"><circle cx="828.8" cy="420.3" r="2.3"/></g><g stroke="#619CFF"><circle cx="842.1" cy="483.3" r="2.3"/></g><g stroke="#F8766D"><circle cx="916.0" cy="419.2" r="2.3"/><circle cx="840.2" cy="471.5" r="2.3"/><circle cx="838.6" cy="472.9" r="2.3"/><circle cx="856.0" cy="458.0" r="2.3"/><circle cx="850.3" cy="463.4" r="2.3"/><circle cx="917.0" cy="391.5" r="2.3"/><circle cx="876.7" cy="456.2" r="2.3"/><circle cx="913.5" cy="403.0" r="2.3"/></g><g stroke="#00BA38"><circle cx="866.6" cy="413.8" r="2.3"/></g><g stroke="#F8766D"><circle cx="819.2" cy="432.5" r="2.3"/><circle cx="836.9" cy="466.3" r="2.3"/><circle cx="822.3" cy="461.4" r="2.3"/><circle cx="827.4" cy="442.5" r="2.3"/><circle cx="896.3" cy="404.0" r="2.3"/></g><g stroke="#619CFF"><circle cx="882.0" cy="432.0" r="2.3"/></g><g stroke="#F8766D"><circle cx="828.4" cy="428.4" r="2.3"/><circle cx="852.1" cy="482.4" r="2.3"/><circle cx="857.8" cy="457.7" r="2.3"/></g><g stroke="#619CFF"><circle cx="818.1" cy="400.4" r="2.3"/></g><g stroke="#F8766D"><circle cx="818.7" cy="437.6" r="2.3"/></g><g stroke="#00BA38"><circle cx="855.9" cy="439.5" r="2.3"/></g><g stroke="#F8766D"><circle cx="836.1" cy="428.4" r="2.3"/></g><g stroke="#00BA38"><circle cx="915.2" cy="371.7" r="2.3"/></g><g stroke="#F8766D"><circle cx="810.7" cy="405.5" r="2.3"/><circle cx="867.7" cy="459.6" r="2.3"/><circle cx="827.6" cy="480.9" r="2.3"/></g><g stroke="#00BA38"><circle cx="898.2" cy="394.8" r="2.3"/></g><g stroke="#F8766D"><circle cx="808.8" cy="412.4" r="2.3"/></g><g stroke="#00BA38"><circle cx="891.1" cy="414.1" r="2.3"/></g><g stroke="#F8766D"><circle cx="887.0" cy="423.7" r="2.3"/><circle cx="888.8" cy="410.0" r="2.3"/><circle cx="852.6" cy="442.9" r="2.3"/><circle cx="825.2" cy="443.9" r="2.3"/></g><g stroke="#00BA38"><circle cx="815.6" cy="426.6" r="2.3"/></g><g stroke="#F8766D"><circle cx="849.0" cy="442.9" r="2.3"/></g><g stroke="#00BA38"><circle cx="891.0" cy="384.3" r="2.3"/></g><g stroke="#F8766D"><circle cx="829.7" cy="460.6" r="2.3"/></g><g stroke="#00BA38"><circle cx="832.0" cy="436.5" r="2.3"/><circle cx="826.1" cy="443.8" r="2.3"/></g><g stroke="#F8766D"><circle cx="820.4" cy="452.2" r="2.3"/></g><g stroke="#00BA38"><circle cx="866.2" cy="436.7" r="2.3"/><circle cx="864.2" cy="444.9" r="2.3"/></g><g stroke="#F8766D"><circle cx="839.3" cy="434.7" r="2.3"/><circle cx="914.6" cy="399.4" r="2.3"/><circle cx="844.9" cy="434.9" r="2.3"/></g><g stroke="#619CFF"><circle cx="864.5" cy="463.9" r="2.3"/></g><g stroke="#F8766D"><circle cx="866.5" cy="440.5" r="2.3"/></g><g stroke="#00BA38"><circle cx="890.8" cy="397.6" r="2.3"/><circle cx="889.7" cy="406.7" r="2.3"/><circle cx="822.3" cy="449.7" r="2.3"/></g><g stroke="#F8766D"><circle cx="816.7" cy="434.7" r="2.3"/></g><g stroke="#619CFF"><circle cx="844.1" cy="504.4" r="2.3"/></g><g stroke="#F8766D"><circle cx="866.4" cy="433.6" r="2.3"/><circle cx="888.1" cy="402.8" r="2.3"/></g><g stroke="#00BA38"><circle cx="821.8" cy="405.2" r="2.3"/></g><g stroke="#619CFF"><circle cx="835.5" cy="461.4" r="2.3"/><circle cx="806.3" cy="409.4" r="2.3"/></g><g stroke="#F8766D"><circle cx="869.0" cy="474.8" r="2.3"/></g><g stroke="#00BA38"><circle cx="820.6" cy="429.6" r="2.3"/><circle cx="828.5" cy="420.8" r="2.3"/><circle cx="875.1" cy="390.7" r="2.3"/></g><g stroke="#F8766D"><circle cx="828.2" cy="447.6" r="2.3"/><circle cx="837.9" cy="464.5" r="2.3"/></g><g stroke="#619CFF"><circle cx="809.1" cy="400.5" r="2.3"/></g><g stroke="#F8766D"><circle cx="916.2" cy="421.5" r="2.3"/><circle cx="897.6" cy="382.3" r="2.3"/><circle cx="889.4" cy="382.6" r="2.3"/><circle cx="841.4" cy="470.2" r="2.3"/><circle cx="856.3" cy="486.4" r="2.3"/><circle cx="806.8" cy="446.9" r="2.3"/></g><g stroke="#00BA38"><circle cx="814.2" cy="401.4" r="2.3"/></g><g stroke="#619CFF"><circle cx="890.1" cy="395.0" r="2.3"/></g><g stroke="#F8766D"><circle cx="875.5" cy="406.5" r="2.3"/></g><g stroke="#619CFF"><circle cx="872.4" cy="458.6" r="2.3"/></g><g stroke="#F8766D"><circle cx="879.3" cy="426.3" r="2.3"/></g><g stroke="#00BA38"><circle cx="864.3" cy="433.4" r="2.3"/></g><g stroke="#F8766D"><circle cx="860.4" cy="452.6" r="2.3"/><circle cx="866.3" cy="411.6" r="2.3"/><circle cx="907.1" cy="411.6" r="2.3"/><circle cx="907.4" cy="412.2" r="2.3"/><circle cx="896.8" cy="385.7" r="2.3"/></g><g stroke="#00BA38"><circle cx="882.6" cy="443.0" r="2.3"/></g><g stroke="#F8766D"><circle cx="897.4" cy="378.0" r="2.3"/></g><g stroke="#619CFF"><circle cx="872.8" cy="450.0" r="2.3"/></g><g stroke="#F8766D"><circle cx="914.4" cy="392.8" r="2.3"/><circle cx="900.3" cy="387.7" r="2.3"/></g><g stroke="#619CFF"><circle cx="871.2" cy="452.5" r="2.3"/></g><g stroke="#F8766D"><circle cx="857.1" cy="473.1" r="2.3"/><circle cx="860.2" cy="465.8" r="2.3"/><circle cx="906.0" cy="378.1" r="2.3"/></g><g stroke="#00BA38"><circle cx="826.1" cy="443.9" r="2.3"/><circle cx="854.6" cy="432.5" r="2.3"/></g><g stroke="#F8766D"><circle cx="838.2" cy="437.7" r="2.3"/></g><g stroke="#619CFF"><circle cx="852.0" cy="446.9" r="2.3"/><circle cx="918.1" cy="395.0" r="2.3"/></g><g stroke="#F8766D"><circle cx="850.2" cy="452.8" r="2.3"/></g><g stroke="#00BA38"><circle cx="850.5" cy="438.5" r="2.3"/><circle cx="900.2" cy="371.8" r="2.3"/><circle cx="897.7" cy="367.8" r="2.3"/></g><g stroke="#F8766D"><circle cx="817.0" cy="445.3" r="2.3"/></g><g stroke="#00BA38"><circle cx="845.8" cy="437.1" r="2.3"/></g><g stroke="#F8766D"><circle cx="850.3" cy="468.8" r="2.3"/></g><g stroke="#00BA38"><circle cx="887.3" cy="398.0" r="2.3"/></g><g stroke="#F8766D"><circle cx="807.6" cy="408.0" r="2.3"/><circle cx="878.8" cy="457.5" r="2.3"/></g><g stroke="#619CFF"><circle cx="889.2" cy="403.6" r="2.3"/></g><g stroke="#F8766D"><circle cx="868.6" cy="457.7" r="2.3"/></g><g stroke="#00BA38"><circle cx="895.8" cy="425.9" r="2.3"/></g><g stroke="#F8766D"><circle cx="879.6" cy="418.5" r="2.3"/><circle cx="914.6" cy="406.9" r="2.3"/></g><g stroke="#619CFF"><circle cx="846.6" cy="442.1" r="2.3"/><circle cx="893.7" cy="414.4" r="2.3"/></g><g stroke="#F8766D"><circle cx="808.9" cy="396.4" r="2.3"/><circle cx="897.6" cy="386.2" r="2.3"/></g><g stroke="#619CFF"><circle cx="824.9" cy="445.4" r="2.3"/></g><g stroke="#00BA38"><circle cx="849.4" cy="439.5" r="2.3"/><circle cx="811.9" cy="387.5" r="2.3"/></g><g stroke="#F8766D"><circle cx="857.0" cy="458.1" r="2.3"/></g><g stroke="#00BA38"><circle cx="856.1" cy="433.5" r="2.3"/></g><g stroke="#F8766D"><circle cx="860.1" cy="451.0" r="2.3"/></g><g stroke="#00BA38"><circle cx="869.9" cy="467.2" r="2.3"/></g><g stroke="#F8766D"><circle cx="826.4" cy="437.2" r="2.3"/></g><g stroke="#619CFF"><circle cx="899.4" cy="400.4" r="2.3"/></g><g stroke="#F8766D"><circle cx="810.6" cy="436.1" r="2.3"/></g><g stroke="#00BA38"><circle cx="846.5" cy="467.4" r="2.3"/></g><g stroke="#F8766D"><circle cx="899.7" cy="393.9" r="2.3"/></g><g stroke="#619CFF"><circle cx="845.7" cy="466.3" r="2.3"/></g><g stroke="#00BA38"><circle cx="854.4" cy="439.9" r="2.3"/><circle cx="914.0" cy="382.1" r="2.3"/></g><g stroke="#619CFF"><circle cx="846.4" cy="492.0" r="2.3"/></g><g stroke="#F8766D"><circle cx="819.9" cy="431.6" r="2.3"/><circle cx="878.1" cy="431.3" r="2.3"/><circle cx="805.8" cy="421.3" r="2.3"/></g><g stroke="#00BA38"><circle cx="829.9" cy="474.9" r="2.3"/></g><g stroke="#F8766D"><circle cx="875.2" cy="440.8" r="2.3"/></g><g stroke="#619CFF"><circle cx="908.9" cy="374.1" r="2.3"/></g><g stroke="#F8766D"><circle cx="807.4" cy="382.7" r="2.3"/><circle cx="848.6" cy="478.5" r="2.3"/><circle cx="809.2" cy="402.0" r="2.3"/><circle cx="810.8" cy="420.0" r="2.3"/></g><g stroke="#619CFF"><circle cx="829.0" cy="434.7" r="2.3"/><circle cx="882.7" cy="389.3" r="2.3"/></g><g stroke="#F8766D"><circle cx="855.0" cy="474.4" r="2.3"/></g><g stroke="#619CFF"><circle cx="854.9" cy="477.7" r="2.3"/></g><g stroke="#F8766D"><circle cx="837.8" cy="497.8" r="2.3"/></g><g stroke="#619CFF"><circle cx="863.7" cy="426.4" r="2.3"/></g><g stroke="#F8766D"><circle cx="849.5" cy="453.5" r="2.3"/></g><g stroke="#619CFF"><circle cx="916.5" cy="410.9" r="2.3"/></g><g stroke="#00BA38"><circle cx="880.5" cy="431.7" r="2.3"/><circle cx="867.2" cy="495.4" r="2.3"/></g><g stroke="#F8766D"><circle cx="818.0" cy="434.1" r="2.3"/><circle cx="837.3" cy="463.9" r="2.3"/><circle cx="916.9" cy="428.1" r="2.3"/><circle cx="918.1" cy="395.7" r="2.3"/><circle cx="897.2" cy="404.8" r="2.3"/><circle cx="858.2" cy="465.2" r="2.3"/></g><g stroke="#00BA38"><circle cx="885.4" cy="404.1" r="2.3"/></g><g stroke="#F8766D"><circle cx="877.6" cy="425.6" r="2.3"/><circle cx="895.2" cy="411.7" r="2.3"/></g><g stroke="#00BA38"><circle cx="831.9" cy="431.9" r="2.3"/></g><rect x="799.5" y="357.9" width="127.5" height="172.10000000000002" fill="none" stroke="#8a8a8a" stroke-width="2.4"/><rect x="799.5" y="311.3" width="127.5" height="46.599999999999966" fill="#d9d9d9" stroke="#8a8a8a" stroke-width="2.3"/><line x1="798.6" x2="927.9" y1="357.9" y2="357.9" stroke="#646464" stroke-width="3"/><text x="862.2" y="343.2" font-size="25" text-anchor="middle">NR1D2</text><text x="779.5" y="378.8" text-anchor="end">2</text><text x="779.5" y="410.2" text-anchor="end">1</text><text x="779.5" y="441.6" text-anchor="end">0</text><text x="779.5" y="473.0" text-anchor="end">-1</text><text x="779.5" y="504.4" text-anchor="end">-2</text><text x="779.5" y="535.8" text-anchor="end">-3</text><path d="M791.6,368.4H799.5M791.6,399.8H799.5M791.6,431.2H799.5M791.6,462.6H799.5M791.6,494.0H799.5M791.6,525.4H799.5" stroke="#444" stroke-width="2"/><text x="798.4" y="563.1" text-anchor="middle">0</text><text x="860.7" y="563.1" text-anchor="middle">12</text><text x="921.3" y="563.1" text-anchor="middle">24</text>
<rect x="975.9" y="357.9" width="127.5" height="172.10000000000002" fill="#fff"/><path d="M981.6,357.9V530.0M991.4,357.9V530.0M1001.0,357.9V530.0M1010.8,357.9V530.0M1020.4,357.9V530.0M1030.2,357.9V530.0M1039.8,357.9V530.0M1049.5,357.9V530.0M1059.2,357.9V530.0M1069.0,357.9V530.0M1078.7,357.9V530.0M1088.3,357.9V530.0M1098.0,357.9V530.0" stroke="#e8e8e8" stroke-width="1.4" fill="none"/><path d="M975.9,529.2H1103.3M975.9,498.9H1103.3M975.9,468.6H1103.3M975.9,438.4H1103.3M975.9,408.1H1103.3M975.9,377.8H1103.3" stroke="#ececec" stroke-width="1.2" fill="none"/><path d="M975.9,514.1H1103.3M975.9,483.8H1103.3M975.9,453.5H1103.3M975.9,423.2H1103.3M975.9,392.9H1103.3M975.9,362.6H1103.3" stroke="#e4e4e4" stroke-width="1.5" fill="none"/><g stroke="#619CFF"><circle cx="1093.4" cy="471.2" r="2.3"/><circle cx="1002.9" cy="460.3" r="2.3"/></g><g stroke="#F8766D"><circle cx="1042.4" cy="435.9" r="2.3"/></g><g stroke="#619CFF"><circle cx="1041.1" cy="461.4" r="2.3"/></g><g stroke="#00BA38"><circle cx="1028.1" cy="455.2" r="2.3"/></g><g stroke="#F8766D"><circle cx="1041.9" cy="401.8" r="2.3"/></g><g stroke="#619CFF"><circle cx="1036.9" cy="410.4" r="2.3"/></g><g stroke="#F8766D"><circle cx="1091.2" cy="393.8" r="2.3"/></g><g stroke="#619CFF"><circle cx="1056.4" cy="445.3" r="2.3"/></g><g stroke="#F8766D"><circle cx="1043.7" cy="404.1" r="2.3"/><circle cx="1070.4" cy="435.9" r="2.3"/></g><g stroke="#00BA38"><circle cx="996.2" cy="463.7" r="2.3"/></g><g stroke="#F8766D"><circle cx="1088.3" cy="466.8" r="2.3"/><circle cx="1031.9" cy="447.2" r="2.3"/></g><g stroke="#00BA38"><circle cx="1032.3" cy="435.9" r="2.3"/></g><g stroke="#F8766D"><circle cx="996.8" cy="446.4" r="2.3"/><circle cx="1007.0" cy="443.0" r="2.3"/><circle cx="1006.8" cy="427.7" r="2.3"/></g><g stroke="#00BA38"><circle cx="1001.7" cy="445.1" r="2.3"/></g><g stroke="#F8766D"><circle cx="1044.3" cy="484.5" r="2.3"/></g><g stroke="#619CFF"><circle cx="1075.6" cy="487.3" r="2.3"/></g><g stroke="#00BA38"><circle cx="1062.9" cy="473.8" r="2.3"/><circle cx="1041.4" cy="421.9" r="2.3"/></g><g stroke="#F8766D"><circle cx="994.6" cy="449.3" r="2.3"/><circle cx="1026.9" cy="448.0" r="2.3"/></g><g stroke="#00BA38"><circle cx="1021.7" cy="495.6" r="2.3"/></g><g stroke="#619CFF"><circle cx="1096.9" cy="457.3" r="2.3"/><circle cx="1075.6" cy="467.8" r="2.3"/></g><g stroke="#00BA38"><circle cx="1059.0" cy="461.6" r="2.3"/><circle cx="1067.1" cy="446.5" r="2.3"/></g><g stroke="#F8766D"><circle cx="1003.5" cy="437.6" r="2.3"/></g><g stroke="#619CFF"><circle cx="1030.6" cy="386.4" r="2.3"/></g><g stroke="#00BA38"><circle cx="1053.3" cy="431.5" r="2.3"/></g><g stroke="#F8766D"><circle cx="1045.3" cy="431.4" r="2.3"/></g><g stroke="#00BA38"><circle cx="1034.0" cy="437.6" r="2.3"/></g><g stroke="#619CFF"><circle cx="1070.0" cy="465.9" r="2.3"/></g><g stroke="#00BA38"><circle cx="1031.8" cy="443.4" r="2.3"/><circle cx="1092.5" cy="472.4" r="2.3"/><circle cx="1005.7" cy="457.3" r="2.3"/></g><g stroke="#F8766D"><circle cx="1062.3" cy="492.1" r="2.3"/><circle cx="985.9" cy="458.2" r="2.3"/></g><g stroke="#619CFF"><circle cx="1021.7" cy="484.2" r="2.3"/></g><g stroke="#F8766D"><circle cx="992.6" cy="474.1" r="2.3"/><circle cx="1070.7" cy="482.5" r="2.3"/></g><g stroke="#619CFF"><circle cx="1086.9" cy="443.6" r="2.3"/><circle cx="1075.6" cy="492.9" r="2.3"/></g><g stroke="#00BA38"><circle cx="1037.7" cy="405.8" r="2.3"/><circle cx="1043.0" cy="440.1" r="2.3"/></g><g stroke="#F8766D"><circle cx="1031.5" cy="380.9" r="2.3"/><circle cx="1053.7" cy="403.9" r="2.3"/></g><g stroke="#00BA38"><circle cx="1093.2" cy="457.1" r="2.3"/></g><g stroke="#F8766D"><circle cx="1064.1" cy="473.6" r="2.3"/><circle cx="1055.4" cy="432.8" r="2.3"/></g><g stroke="#00BA38"><circle cx="1091.3" cy="432.8" r="2.3"/></g><g stroke="#F8766D"><circle cx="995.6" cy="430.6" r="2.3"/><circle cx="1053.9" cy="432.9" r="2.3"/></g><g stroke="#619CFF"><circle cx="1075.7" cy="485.6" r="2.3"/></g><g stroke="#F8766D"><circle cx="1033.9" cy="434.4" r="2.3"/><circle cx="997.4" cy="445.8" r="2.3"/></g><g stroke="#619CFF"><circle cx="1037.3" cy="457.6" r="2.3"/><circle cx="995.4" cy="433.4" r="2.3"/></g><g stroke="#00BA38"><circle cx="990.2" cy="438.5" r="2.3"/></g><g stroke="#619CFF"><circle cx="1007.2" cy="446.8" r="2.3"/></g><g stroke="#F8766D"><circle cx="1034.9" cy="462.9" r="2.3"/></g><g stroke="#619CFF"><circle cx="1002.1" cy="447.0" r="2.3"/></g><g stroke="#F8766D"><circle cx="983.3" cy="484.3" r="2.3"/><circle cx="983.8" cy="503.4" r="2.3"/></g><g stroke="#00BA38"><circle cx="1042.2" cy="429.6" r="2.3"/></g><g stroke="#619CFF"><circle cx="994.0" cy="409.7" r="2.3"/></g><g stroke="#F8766D"><circle cx="993.6" cy="457.1" r="2.3"/></g><g stroke="#00BA38"><circle cx="1066.2" cy="488.3" r="2.3"/><circle cx="1085.5" cy="509.3" r="2.3"/></g><g stroke="#F8766D"><circle cx="1003.4" cy="477.5" r="2.3"/><circle cx="1045.3" cy="443.8" r="2.3"/><circle cx="1053.8" cy="467.9" r="2.3"/><circle cx="1056.3" cy="402.3" r="2.3"/><circle cx="986.1" cy="415.0" r="2.3"/><circle cx="1041.6" cy="461.9" r="2.3"/><circle cx="1007.6" cy="445.5" r="2.3"/></g><g stroke="#619CFF"><circle cx="1021.7" cy="450.2" r="2.3"/></g><g stroke="#00BA38"><circle cx="998.4" cy="467.7" r="2.3"/><circle cx="1064.3" cy="485.0" r="2.3"/><circle cx="1063.6" cy="494.3" r="2.3"/></g><g stroke="#F8766D"><circle cx="1033.9" cy="418.1" r="2.3"/></g><g stroke="#619CFF"><circle cx="999.7" cy="474.2" r="2.3"/></g><g stroke="#00BA38"><circle cx="1025.7" cy="466.2" r="2.3"/></g><g stroke="#619CFF"><circle cx="1039.1" cy="435.9" r="2.3"/></g><g stroke="#F8766D"><circle cx="1065.3" cy="480.0" r="2.3"/><circle cx="1016.2" cy="450.3" r="2.3"/></g><g stroke="#00BA38"><circle cx="993.8" cy="429.2" r="2.3"/><circle cx="988.9" cy="443.1" r="2.3"/></g><g stroke="#F8766D"><circle cx="985.0" cy="432.0" r="2.3"/><circle cx="1073.3" cy="487.0" r="2.3"/><circle cx="1032.2" cy="405.6" r="2.3"/></g><g stroke="#619CFF"><circle cx="1076.6" cy="457.9" r="2.3"/></g><g stroke="#F8766D"><circle cx="1016.0" cy="438.6" r="2.3"/><circle cx="1070.0" cy="487.0" r="2.3"/></g><g stroke="#619CFF"><circle cx="993.4" cy="464.2" r="2.3"/></g><g stroke="#F8766D"><circle cx="1063.5" cy="411.4" r="2.3"/></g><g stroke="#619CFF"><circle cx="1001.1" cy="418.8" r="2.3"/></g><g stroke="#F8766D"><circle cx="1053.3" cy="401.2" r="2.3"/></g><g stroke="#00BA38"><circle cx="1057.2" cy="457.4" r="2.3"/></g><g stroke="#619CFF"><circle cx="1076.3" cy="497.5" r="2.3"/></g><g stroke="#F8766D"><circle cx="1032.6" cy="419.9" r="2.3"/></g><g stroke="#619CFF"><circle cx="1049.7" cy="430.7" r="2.3"/><circle cx="1037.9" cy="400.5" r="2.3"/></g><g stroke="#F8766D"><circle cx="1069.8" cy="468.1" r="2.3"/></g><g stroke="#619CFF"><circle cx="1096.6" cy="463.1" r="2.3"/></g><g stroke="#F8766D"><circle cx="1024.0" cy="460.8" r="2.3"/></g><g stroke="#00BA38"><circle cx="1031.9" cy="431.8" r="2.3"/><circle cx="1021.1" cy="419.3" r="2.3"/></g><g stroke="#F8766D"><circle cx="1079.0" cy="493.0" r="2.3"/><circle cx="987.4" cy="503.6" r="2.3"/><circle cx="1031.8" cy="445.8" r="2.3"/><circle cx="1041.8" cy="420.8" r="2.3"/><circle cx="983.1" cy="447.9" r="2.3"/></g><g stroke="#00BA38"><circle cx="1059.6" cy="483.0" r="2.3"/><circle cx="1034.5" cy="426.9" r="2.3"/></g><g stroke="#619CFF"><circle cx="1056.6" cy="451.3" r="2.3"/></g><g stroke="#F8766D"><circle cx="1030.2" cy="444.4" r="2.3"/><circle cx="1013.8" cy="414.5" r="2.3"/><circle cx="1094.0" cy="449.2" r="2.3"/><circle cx="1084.9" cy="481.4" r="2.3"/></g><g stroke="#00BA38"><circle cx="994.8" cy="414.8" r="2.3"/></g><g stroke="#F8766D"><circle cx="995.6" cy="463.7" r="2.3"/><circle cx="1044.5" cy="450.7" r="2.3"/></g><g stroke="#00BA38"><circle cx="1030.9" cy="423.0" r="2.3"/></g><g stroke="#F8766D"><circle cx="996.0" cy="468.7" r="2.3"/></g><g stroke="#00BA38"><circle cx="1074.4" cy="470.5" r="2.3"/></g><g stroke="#F8766D"><circle cx="1042.7" cy="400.8" r="2.3"/><circle cx="1043.5" cy="419.9" r="2.3"/></g><g stroke="#00BA38"><circle cx="996.5" cy="449.3" r="2.3"/></g><g stroke="#619CFF"><circle cx="1085.7" cy="507.2" r="2.3"/><circle cx="1039.4" cy="417.8" r="2.3"/><circle cx="1041.6" cy="400.8" r="2.3"/></g><g stroke="#F8766D"><circle cx="1036.6" cy="474.4" r="2.3"/></g><g stroke="#619CFF"><circle cx="1038.3" cy="464.8" r="2.3"/></g><g stroke="#00BA38"><circle cx="1066.7" cy="491.2" r="2.3"/><circle cx="1009.4" cy="455.9" r="2.3"/><circle cx="1053.3" cy="495.6" r="2.3"/><circle cx="1056.4" cy="461.3" r="2.3"/><circle cx="1009.6" cy="434.9" r="2.3"/></g><g stroke="#619CFF"><circle cx="1037.8" cy="457.9" r="2.3"/><circle cx="1067.0" cy="425.2" r="2.3"/></g><g stroke="#00BA38"><circle cx="1039.2" cy="439.0" r="2.3"/></g><g stroke="#F8766D"><circle cx="1090.6" cy="451.5" r="2.3"/></g><g stroke="#619CFF"><circle cx="1038.3" cy="450.2" r="2.3"/></g><g stroke="#F8766D"><circle cx="1089.4" cy="490.2" r="2.3"/></g><g stroke="#619CFF"><circle cx="1048.5" cy="453.7" r="2.3"/></g><g stroke="#F8766D"><circle cx="996.3" cy="451.2" r="2.3"/></g><g stroke="#619CFF"><circle cx="1011.8" cy="403.7" r="2.3"/></g><g stroke="#F8766D"><circle cx="1041.4" cy="438.6" r="2.3"/><circle cx="1051.0" cy="429.0" r="2.3"/></g><g stroke="#00BA38"><circle cx="1063.8" cy="449.8" r="2.3"/></g><g stroke="#F8766D"><circle cx="1073.6" cy="450.2" r="2.3"/></g><g stroke="#00BA38"><circle cx="985.4" cy="487.2" r="2.3"/></g><g stroke="#F8766D"><circle cx="1026.7" cy="429.1" r="2.3"/></g><g stroke="#619CFF"><circle cx="1022.2" cy="462.5" r="2.3"/><circle cx="1078.0" cy="518.0" r="2.3"/></g><g stroke="#F8766D"><circle cx="987.3" cy="400.4" r="2.3"/><circle cx="1052.3" cy="421.2" r="2.3"/></g><g stroke="#619CFF"><circle cx="1040.7" cy="409.2" r="2.3"/><circle cx="1045.1" cy="419.2" r="2.3"/></g><g stroke="#00BA38"><circle cx="1038.3" cy="491.7" r="2.3"/></g><g stroke="#619CFF"><circle cx="1040.3" cy="408.6" r="2.3"/></g><g stroke="#00BA38"><circle cx="1062.4" cy="407.8" r="2.3"/><circle cx="1054.9" cy="457.3" r="2.3"/></g><g stroke="#F8766D"><circle cx="1003.8" cy="461.1" r="2.3"/><circle cx="1035.5" cy="439.3" r="2.3"/></g><g stroke="#619CFF"><circle cx="1028.4" cy="409.2" r="2.3"/></g><g stroke="#00BA38"><circle cx="1038.9" cy="454.4" r="2.3"/></g><g stroke="#F8766D"><circle cx="1032.9" cy="448.1" r="2.3"/></g><g stroke="#00BA38"><circle cx="1002.5" cy="438.2" r="2.3"/><circle cx="1024.7" cy="445.8" r="2.3"/></g><g stroke="#F8766D"><circle cx="1091.1" cy="430.8" r="2.3"/></g><g stroke="#00BA38"><circle cx="1039.7" cy="421.8" r="2.3"/></g><g stroke="#F8766D"><circle cx="1030.3" cy="417.3" r="2.3"/></g><g stroke="#00BA38"><circle cx="1038.5" cy="468.3" r="2.3"/></g><g stroke="#F8766D"><circle cx="1093.2" cy="504.6" r="2.3"/></g><g stroke="#619CFF"><circle cx="1057.1" cy="489.3" r="2.3"/></g><g stroke="#F8766D"><circle cx="988.4" cy="421.9" r="2.3"/><circle cx="982.1" cy="446.8" r="2.3"/><circle cx="1062.6" cy="448.2" r="2.3"/><circle cx="1044.8" cy="448.4" r="2.3"/></g><g stroke="#619CFF"><circle cx="1038.2" cy="441.3" r="2.3"/></g><g stroke="#F8766D"><circle cx="1090.9" cy="443.0" r="2.3"/></g><g stroke="#619CFF"><circle cx="1058.9" cy="435.3" r="2.3"/></g><g stroke="#F8766D"><circle cx="985.5" cy="475.5" r="2.3"/><circle cx="1034.3" cy="401.3" r="2.3"/><circle cx="1026.5" cy="402.4" r="2.3"/></g><g stroke="#00BA38"><circle cx="1060.5" cy="456.5" r="2.3"/></g><g stroke="#F8766D"><circle cx="1094.4" cy="454.8" r="2.3"/><circle cx="993.4" cy="451.2" r="2.3"/></g><g stroke="#619CFF"><circle cx="1087.2" cy="474.7" r="2.3"/></g><g stroke="#00BA38"><circle cx="990.3" cy="442.8" r="2.3"/></g><g stroke="#F8766D"><circle cx="1003.8" cy="468.0" r="2.3"/><circle cx="1004.2" cy="437.6" r="2.3"/><circle cx="1006.3" cy="434.5" r="2.3"/></g><g stroke="#619CFF"><circle cx="1094.7" cy="474.1" r="2.3"/></g><g stroke="#F8766D"><circle cx="985.6" cy="443.3" r="2.3"/><circle cx="1062.3" cy="464.4" r="2.3"/><circle cx="1092.5" cy="462.5" r="2.3"/></g><g stroke="#00BA38"><circle cx="1031.9" cy="436.5" r="2.3"/><circle cx="1044.4" cy="471.1" r="2.3"/><circle cx="1075.7" cy="420.0" r="2.3"/></g><g stroke="#F8766D"><circle cx="1001.6" cy="421.3" r="2.3"/><circle cx="1080.5" cy="495.1" r="2.3"/><circle cx="1063.0" cy="437.1" r="2.3"/></g><g stroke="#00BA38"><circle cx="1019.4" cy="456.7" r="2.3"/></g><g stroke="#F8766D"><circle cx="1013.1" cy="423.4" r="2.3"/><circle cx="1044.5" cy="447.9" r="2.3"/></g><g stroke="#00BA38"><circle cx="1064.4" cy="440.6" r="2.3"/></g><g stroke="#F8766D"><circle cx="1054.7" cy="424.5" r="2.3"/><circle cx="1062.9" cy="450.8" r="2.3"/></g><g stroke="#00BA38"><circle cx="1031.9" cy="458.3" r="2.3"/></g><g stroke="#F8766D"><circle cx="1035.1" cy="465.3" r="2.3"/></g><g stroke="#00BA38"><circle cx="994.3" cy="443.0" r="2.3"/></g><g stroke="#F8766D"><circle cx="1032.2" cy="405.6" r="2.3"/><circle cx="1041.4" cy="431.6" r="2.3"/><circle cx="1063.1" cy="441.3" r="2.3"/><circle cx="1042.9" cy="476.1" r="2.3"/><circle cx="992.8" cy="470.8" r="2.3"/></g><g stroke="#619CFF"><circle cx="1067.0" cy="468.1" r="2.3"/></g><g stroke="#F8766D"><circle cx="982.7" cy="436.3" r="2.3"/></g><g stroke="#619CFF"><circle cx="1038.3" cy="469.5" r="2.3"/></g><g stroke="#F8766D"><circle cx="1005.8" cy="429.8" r="2.3"/></g><g stroke="#619CFF"><circle cx="1019.9" cy="495.8" r="2.3"/></g><g stroke="#00BA38"><circle cx="990.0" cy="428.4" r="2.3"/></g><g stroke="#619CFF"><circle cx="1004.7" cy="480.4" r="2.3"/></g><g stroke="#00BA38"><circle cx="1003.4" cy="445.2" r="2.3"/></g><g stroke="#F8766D"><circle cx="1072.2" cy="456.2" r="2.3"/><circle cx="1082.8" cy="480.1" r="2.3"/><circle cx="1015.1" cy="462.1" r="2.3"/><circle cx="1081.3" cy="428.1" r="2.3"/></g><g stroke="#619CFF"><circle cx="1008.2" cy="432.7" r="2.3"/></g><g stroke="#F8766D"><circle cx="1082.4" cy="470.3" r="2.3"/><circle cx="1045.4" cy="469.5" r="2.3"/></g><g stroke="#00BA38"><circle cx="1032.2" cy="427.9" r="2.3"/></g><g stroke="#619CFF"><circle cx="1096.6" cy="443.2" r="2.3"/></g><g stroke="#F8766D"><circle cx="1045.9" cy="441.9" r="2.3"/><circle cx="1012.0" cy="406.4" r="2.3"/></g><g stroke="#00BA38"><circle cx="1039.9" cy="469.7" r="2.3"/></g><g stroke="#F8766D"><circle cx="1024.9" cy="432.3" r="2.3"/></g><g stroke="#00BA38"><circle cx="1002.8" cy="487.1" r="2.3"/></g><g stroke="#F8766D"><circle cx="1095.9" cy="444.6" r="2.3"/></g><g stroke="#619CFF"><circle cx="1011.8" cy="452.4" r="2.3"/></g><g stroke="#00BA38"><circle cx="1068.6" cy="510.4" r="2.3"/></g><g stroke="#F8766D"><circle cx="982.5" cy="514.3" r="2.3"/></g><g stroke="#00BA38"><circle cx="1009.8" cy="457.1" r="2.3"/></g><g stroke="#619CFF"><circle cx="1033.2" cy="408.8" r="2.3"/></g><g stroke="#F8766D"><circle cx="1043.8" cy="470.0" r="2.3"/><circle cx="1003.7" cy="457.9" r="2.3"/></g><g stroke="#619CFF"><circle cx="1088.6" cy="450.9" r="2.3"/></g><g stroke="#00BA38"><circle cx="1091.9" cy="464.6" r="2.3"/><circle cx="1069.9" cy="458.0" r="2.3"/><circle cx="1067.0" cy="463.4" r="2.3"/><circle cx="1088.5" cy="521.2" r="2.3"/></g><g stroke="#F8766D"><circle cx="1043.4" cy="444.6" r="2.3"/></g><g stroke="#00BA38"><circle cx="1087.8" cy="467.1" r="2.3"/><circle cx="1070.8" cy="469.3" r="2.3"/></g><g stroke="#F8766D"><circle cx="1053.3" cy="433.9" r="2.3"/><circle cx="1005.1" cy="411.1" r="2.3"/></g><g stroke="#00BA38"><circle cx="1025.4" cy="446.7" r="2.3"/></g><g stroke="#F8766D"><circle cx="985.6" cy="472.1" r="2.3"/></g><g stroke="#00BA38"><circle cx="1057.8" cy="475.1" r="2.3"/><circle cx="1076.7" cy="452.6" r="2.3"/></g><g stroke="#619CFF"><circle cx="1031.1" cy="435.1" r="2.3"/><circle cx="1060.5" cy="469.2" r="2.3"/><circle cx="1019.5" cy="509.8" r="2.3"/><circle cx="1021.1" cy="445.4" r="2.3"/></g><g stroke="#F8766D"><circle cx="985.7" cy="420.8" r="2.3"/></g><g stroke="#00BA38"><circle cx="1089.0" cy="455.7" r="2.3"/></g><g stroke="#619CFF"><circle cx="1080.2" cy="516.2" r="2.3"/></g><g stroke="#00BA38"><circle cx="1072.8" cy="441.5" r="2.3"/></g><g stroke="#619CFF"><circle cx="1075.1" cy="480.1" r="2.3"/></g><g stroke="#F8766D"><circle cx="1088.9" cy="464.2" r="2.3"/></g><g stroke="#619CFF"><circle cx="983.9" cy="450.1" r="2.3"/></g><g stroke="#F8766D"><circle cx="1065.0" cy="467.9" r="2.3"/><circle cx="1034.1" cy="458.8" r="2.3"/><circle cx="1005.2" cy="452.7" r="2.3"/></g><g stroke="#619CFF"><circle cx="1069.4" cy="428.4" r="2.3"/></g><g stroke="#00BA38"><circle cx="1066.4" cy="436.1" r="2.3"/><circle cx="1039.1" cy="486.8" r="2.3"/></g><g stroke="#F8766D"><circle cx="986.3" cy="494.0" r="2.3"/><circle cx="1056.4" cy="458.2" r="2.3"/></g><g stroke="#619CFF"><circle cx="1075.2" cy="507.9" r="2.3"/></g><g stroke="#00BA38"><circle cx="1091.7" cy="487.3" r="2.3"/></g><g stroke="#F8766D"><circle cx="1093.0" cy="490.8" r="2.3"/><circle cx="1081.8" cy="470.3" r="2.3"/><circle cx="1033.7" cy="412.6" r="2.3"/><circle cx="1072.7" cy="459.7" r="2.3"/></g><g stroke="#00BA38"><circle cx="990.7" cy="402.1" r="2.3"/><circle cx="997.7" cy="475.1" r="2.3"/></g><g stroke="#F8766D"><circle cx="1071.9" cy="454.1" r="2.3"/><circle cx="1061.5" cy="469.2" r="2.3"/><circle cx="1044.1" cy="426.9" r="2.3"/></g><g stroke="#619CFF"><circle cx="1058.7" cy="463.1" r="2.3"/><circle cx="1012.1" cy="418.2" r="2.3"/></g><g stroke="#F8766D"><circle cx="1023.4" cy="437.0" r="2.3"/></g><g stroke="#00BA38"><circle cx="1057.0" cy="459.8" r="2.3"/></g><g stroke="#619CFF"><circle cx="1014.4" cy="459.3" r="2.3"/></g><g stroke="#00BA38"><circle cx="989.3" cy="483.8" r="2.3"/></g><g stroke="#619CFF"><circle cx="1085.1" cy="454.1" r="2.3"/></g><g stroke="#F8766D"><circle cx="1023.1" cy="449.7" r="2.3"/></g><g stroke="#619CFF"><circle cx="985.9" cy="467.4" r="2.3"/></g><g stroke="#00BA38"><circle cx="1056.8" cy="470.0" r="2.3"/><circle cx="1059.6" cy="459.8" r="2.3"/></g><g stroke="#F8766D"><circle cx="994.9" cy="436.1" r="2.3"/></g><g stroke="#619CFF"><circle cx="1084.5" cy="492.3" r="2.3"/></g><g stroke="#F8766D"><circle cx="996.1" cy="461.5" r="2.3"/><circle cx="1064.0" cy="419.6" r="2.3"/><circle cx="986.7" cy="462.8" r="2.3"/><circle cx="995.3" cy="409.7" r="2.3"/><circle cx="1015.6" cy="459.1" r="2.3"/><circle cx="1062.3" cy="442.8" r="2.3"/></g><g stroke="#619CFF"><circle cx="1085.9" cy="485.9" r="2.3"/></g><g stroke="#F8766D"><circle cx="1060.5" cy="443.0" r="2.3"/><circle cx="1032.9" cy="417.7" r="2.3"/><circle cx="1065.1" cy="457.1" r="2.3"/><circle cx="1072.2" cy="449.8" r="2.3"/><circle cx="984.6" cy="466.2" r="2.3"/><circle cx="1020.7" cy="459.0" r="2.3"/><circle cx="998.0" cy="457.0" r="2.3"/><circle cx="1013.5" cy="445.1" r="2.3"/></g><g stroke="#619CFF"><circle cx="1019.5" cy="456.4" r="2.3"/></g><g stroke="#00BA38"><circle cx="1004.3" cy="445.9" r="2.3"/></g><g stroke="#619CFF"><circle cx="1067.7" cy="418.9" r="2.3"/></g><g stroke="#F8766D"><circle cx="1073.8" cy="429.2" r="2.3"/></g><g stroke="#00BA38"><circle cx="1077.2" cy="442.1" r="2.3"/></g><g stroke="#F8766D"><circle cx="1009.0" cy="421.5" r="2.3"/><circle cx="995.2" cy="466.4" r="2.3"/></g><g stroke="#00BA38"><circle cx="1025.6" cy="455.1" r="2.3"/></g><g stroke="#619CFF"><circle cx="1087.0" cy="466.3" r="2.3"/></g><g stroke="#00BA38"><circle cx="1001.8" cy="470.9" r="2.3"/></g><g stroke="#619CFF"><circle cx="1086.9" cy="471.4" r="2.3"/></g><g stroke="#F8766D"><circle cx="986.6" cy="477.3" r="2.3"/><circle cx="1091.7" cy="461.1" r="2.3"/><circle cx="1005.3" cy="413.0" r="2.3"/><circle cx="986.2" cy="435.2" r="2.3"/><circle cx="993.6" cy="427.1" r="2.3"/></g><g stroke="#00BA38"><circle cx="1022.9" cy="425.5" r="2.3"/></g><g stroke="#F8766D"><circle cx="984.8" cy="470.3" r="2.3"/></g><g stroke="#00BA38"><circle cx="998.0" cy="441.3" r="2.3"/><circle cx="1056.4" cy="410.6" r="2.3"/></g><g stroke="#F8766D"><circle cx="983.9" cy="434.5" r="2.3"/><circle cx="1093.7" cy="448.4" r="2.3"/><circle cx="1053.3" cy="435.9" r="2.3"/></g><g stroke="#00BA38"><circle cx="986.8" cy="460.9" r="2.3"/></g><g stroke="#F8766D"><circle cx="1002.2" cy="469.3" r="2.3"/></g><g stroke="#00BA38"><circle cx="1054.8" cy="462.1" r="2.3"/></g><g stroke="#F8766D"><circle cx="1024.2" cy="431.9" r="2.3"/><circle cx="1061.8" cy="478.9" r="2.3"/></g><g stroke="#00BA38"><circle cx="1093.2" cy="471.4" r="2.3"/></g><g stroke="#619CFF"><circle cx="1057.6" cy="473.7" r="2.3"/></g><g stroke="#F8766D"><circle cx="1033.3" cy="410.8" r="2.3"/><circle cx="1034.7" cy="445.9" r="2.3"/><circle cx="1005.5" cy="485.5" r="2.3"/><circle cx="1052.9" cy="459.8" r="2.3"/></g><g stroke="#00BA38"><circle cx="1072.8" cy="445.4" r="2.3"/><circle cx="1064.5" cy="476.3" r="2.3"/><circle cx="987.0" cy="477.4" r="2.3"/></g><g stroke="#F8766D"><circle cx="1071.9" cy="482.1" r="2.3"/><circle cx="1066.6" cy="492.6" r="2.3"/><circle cx="1016.7" cy="434.1" r="2.3"/><circle cx="1034.0" cy="412.4" r="2.3"/><circle cx="1071.7" cy="453.3" r="2.3"/></g><g stroke="#619CFF"><circle cx="1031.2" cy="451.8" r="2.3"/></g><g stroke="#F8766D"><circle cx="1052.7" cy="416.0" r="2.3"/><circle cx="1058.9" cy="439.9" r="2.3"/></g><g stroke="#00BA38"><circle cx="1090.7" cy="433.1" r="2.3"/><circle cx="1090.4" cy="461.9" r="2.3"/></g><g stroke="#F8766D"><circle cx="1061.5" cy="470.0" r="2.3"/><circle cx="1014.4" cy="473.2" r="2.3"/><circle cx="1060.4" cy="449.0" r="2.3"/><circle cx="1073.8" cy="438.9" r="2.3"/><circle cx="1064.0" cy="463.1" r="2.3"/></g><g stroke="#00BA38"><circle cx="1040.4" cy="400.4" r="2.3"/></g><g stroke="#F8766D"><circle cx="1024.1" cy="397.1" r="2.3"/><circle cx="1082.2" cy="476.7" r="2.3"/></g><g stroke="#00BA38"><circle cx="1035.1" cy="406.7" r="2.3"/></g><g stroke="#F8766D"><circle cx="1082.7" cy="516.8" r="2.3"/><circle cx="1005.2" cy="428.3" r="2.3"/></g><g stroke="#619CFF"><circle cx="1092.6" cy="476.9" r="2.3"/></g><g stroke="#00BA38"><circle cx="1075.7" cy="474.0" r="2.3"/></g><g stroke="#F8766D"><circle cx="993.8" cy="466.4" r="2.3"/><circle cx="1023.4" cy="478.1" r="2.3"/><circle cx="1017.0" cy="434.9" r="2.3"/></g><g stroke="#619CFF"><circle cx="984.5" cy="473.3" r="2.3"/><circle cx="1086.5" cy="478.3" r="2.3"/></g><g stroke="#F8766D"><circle cx="1025.8" cy="414.9" r="2.3"/></g><g stroke="#619CFF"><circle cx="1093.8" cy="449.4" r="2.3"/></g><g stroke="#F8766D"><circle cx="1063.2" cy="436.6" r="2.3"/></g><g stroke="#00BA38"><circle cx="990.1" cy="453.6" r="2.3"/></g><g stroke="#F8766D"><circle cx="1023.9" cy="418.0" r="2.3"/><circle cx="1012.6" cy="468.5" r="2.3"/><circle cx="994.3" cy="447.2" r="2.3"/></g><g stroke="#00BA38"><circle cx="1005.7" cy="444.1" r="2.3"/><circle cx="987.6" cy="462.1" r="2.3"/><circle cx="1056.1" cy="420.9" r="2.3"/></g><g stroke="#F8766D"><circle cx="1011.4" cy="448.5" r="2.3"/></g><g stroke="#00BA38"><circle cx="1065.9" cy="398.8" r="2.3"/></g><g stroke="#F8766D"><circle cx="998.8" cy="436.0" r="2.3"/><circle cx="1005.3" cy="428.3" r="2.3"/></g><g stroke="#00BA38"><circle cx="1028.5" cy="421.1" r="2.3"/><circle cx="990.0" cy="501.3" r="2.3"/><circle cx="1091.8" cy="444.7" r="2.3"/><circle cx="999.8" cy="439.3" r="2.3"/></g><g stroke="#F8766D"><circle cx="1084.7" cy="504.1" r="2.3"/></g><g stroke="#00BA38"><circle cx="1034.5" cy="407.3" r="2.3"/></g><g stroke="#619CFF"><circle cx="1083.7" cy="448.1" r="2.3"/><circle cx="1059.1" cy="454.1" r="2.3"/></g><g stroke="#00BA38"><circle cx="990.6" cy="444.7" r="2.3"/><circle cx="1053.4" cy="490.2" r="2.3"/><circle cx="1057.7" cy="439.3" r="2.3"/></g><g stroke="#F8766D"><circle cx="982.7" cy="487.5" r="2.3"/><circle cx="1053.4" cy="462.3" r="2.3"/><circle cx="1034.8" cy="461.8" r="2.3"/><circle cx="1044.6" cy="483.0" r="2.3"/></g><g stroke="#619CFF"><circle cx="1032.4" cy="451.0" r="2.3"/><circle cx="1023.2" cy="445.8" r="2.3"/><circle cx="1012.8" cy="415.2" r="2.3"/></g><g stroke="#00BA38"><circle cx="1021.7" cy="410.5" r="2.3"/><circle cx="1058.6" cy="484.0" r="2.3"/></g><g stroke="#619CFF"><circle cx="1039.0" cy="459.7" r="2.3"/></g><g stroke="#F8766D"><circle cx="1063.4" cy="497.1" r="2.3"/></g><g stroke="#00BA38"><circle cx="1006.3" cy="427.7" r="2.3"/></g><g stroke="#F8766D"><circle cx="1005.3" cy="427.6" r="2.3"/></g><g stroke="#619CFF"><circle cx="1047.2" cy="442.8" r="2.3"/><circle cx="1065.5" cy="481.4" r="2.3"/></g><g stroke="#F8766D"><circle cx="1070.8" cy="472.3" r="2.3"/></g><g stroke="#619CFF"><circle cx="1012.0" cy="472.9" r="2.3"/></g><g stroke="#F8766D"><circle cx="1016.0" cy="399.6" r="2.3"/><circle cx="1072.0" cy="470.9" r="2.3"/></g><g stroke="#619CFF"><circle cx="1021.3" cy="412.8" r="2.3"/></g><g stroke="#F8766D"><circle cx="1005.1" cy="437.5" r="2.3"/><circle cx="1034.2" cy="456.8" r="2.3"/></g><g stroke="#619CFF"><circle cx="1084.7" cy="410.7" r="2.3"/><circle cx="1066.6" cy="451.8" r="2.3"/></g><g stroke="#00BA38"><circle cx="1005.0" cy="465.7" r="2.3"/></g><g stroke="#F8766D"><circle cx="1047.5" cy="443.5" r="2.3"/></g><g stroke="#00BA38"><circle cx="989.0" cy="406.7" r="2.3"/></g><g stroke="#F8766D"><circle cx="1033.4" cy="396.4" r="2.3"/><circle cx="1035.6" cy="399.8" r="2.3"/><circle cx="986.0" cy="473.7" r="2.3"/><circle cx="993.8" cy="467.4" r="2.3"/><circle cx="983.2" cy="463.3" r="2.3"/></g><g stroke="#00BA38"><circle cx="1063.3" cy="446.5" r="2.3"/><circle cx="1043.4" cy="444.5" r="2.3"/></g><g stroke="#F8766D"><circle cx="985.0" cy="470.7" r="2.3"/></g><g stroke="#619CFF"><circle cx="1003.8" cy="499.0" r="2.3"/><circle cx="1030.3" cy="449.1" r="2.3"/></g><g stroke="#F8766D"><circle cx="1004.7" cy="391.1" r="2.3"/></g><g stroke="#619CFF"><circle cx="1059.7" cy="473.5" r="2.3"/></g><g stroke="#00BA38"><circle cx="1064.3" cy="464.8" r="2.3"/></g><g stroke="#F8766D"><circle cx="992.6" cy="474.7" r="2.3"/></g><g stroke="#619CFF"><circle cx="1093.6" cy="475.4" r="2.3"/></g><g stroke="#F8766D"><circle cx="1045.7" cy="455.1" r="2.3"/></g><g stroke="#619CFF"><circle cx="1087.2" cy="487.2" r="2.3"/></g><g stroke="#F8766D"><circle cx="1079.2" cy="453.3" r="2.3"/><circle cx="1062.9" cy="443.7" r="2.3"/></g><g stroke="#00BA38"><circle cx="1074.7" cy="468.0" r="2.3"/></g><g stroke="#F8766D"><circle cx="1015.7" cy="500.9" r="2.3"/><circle cx="986.0" cy="402.5" r="2.3"/></g><g stroke="#00BA38"><circle cx="1040.1" cy="448.2" r="2.3"/></g><g stroke="#619CFF"><circle cx="1020.6" cy="448.7" r="2.3"/></g><g stroke="#F8766D"><circle cx="1083.0" cy="456.0" r="2.3"/><circle cx="1063.6" cy="441.6" r="2.3"/></g><g stroke="#619CFF"><circle cx="1065.7" cy="428.2" r="2.3"/></g><g stroke="#F8766D"><circle cx="1045.1" cy="456.8" r="2.3"/><circle cx="996.2" cy="433.8" r="2.3"/><circle cx="1004.6" cy="453.0" r="2.3"/><circle cx="995.5" cy="458.2" r="2.3"/><circle cx="1021.3" cy="418.6" r="2.3"/><circle cx="1089.4" cy="450.0" r="2.3"/><circle cx="1045.1" cy="437.2" r="2.3"/></g><g stroke="#00BA38"><circle cx="1003.9" cy="461.9" r="2.3"/><circle cx="1003.2" cy="424.2" r="2.3"/><circle cx="1041.6" cy="419.2" r="2.3"/></g><g stroke="#F8766D"><circle cx="1069.2" cy="439.0" r="2.3"/></g><g stroke="#00BA38"><circle cx="1089.2" cy="484.9" r="2.3"/></g><g stroke="#F8766D"><circle cx="1073.0" cy="481.2" r="2.3"/><circle cx="1053.0" cy="422.5" r="2.3"/><circle cx="1053.4" cy="438.2" r="2.3"/><circle cx="1054.3" cy="404.3" r="2.3"/></g><g stroke="#619CFF"><circle cx="1013.0" cy="468.3" r="2.3"/></g><g stroke="#F8766D"><circle cx="1053.4" cy="428.9" r="2.3"/><circle cx="1051.9" cy="424.2" r="2.3"/></g><g stroke="#00BA38"><circle cx="1072.8" cy="474.8" r="2.3"/><circle cx="1030.4" cy="391.4" r="2.3"/><circle cx="997.2" cy="453.6" r="2.3"/></g><g stroke="#F8766D"><circle cx="986.4" cy="449.7" r="2.3"/></g><g stroke="#00BA38"><circle cx="1031.7" cy="416.8" r="2.3"/></g><g stroke="#F8766D"><circle cx="1079.8" cy="479.7" r="2.3"/><circle cx="1032.8" cy="437.2" r="2.3"/></g><g stroke="#619CFF"><circle cx="991.8" cy="443.2" r="2.3"/></g><g stroke="#F8766D"><circle cx="1003.1" cy="462.2" r="2.3"/><circle cx="1081.8" cy="496.6" r="2.3"/><circle cx="1081.1" cy="483.1" r="2.3"/></g><g stroke="#00BA38"><circle cx="996.4" cy="434.4" r="2.3"/></g><g stroke="#619CFF"><circle cx="1039.2" cy="401.4" r="2.3"/></g><g stroke="#F8766D"><circle cx="987.2" cy="429.3" r="2.3"/><circle cx="1004.2" cy="460.3" r="2.3"/></g><g stroke="#00BA38"><circle cx="1038.1" cy="414.1" r="2.3"/></g><g stroke="#F8766D"><circle cx="1033.4" cy="393.5" r="2.3"/><circle cx="1072.1" cy="460.6" r="2.3"/><circle cx="988.5" cy="486.4" r="2.3"/></g><g stroke="#00BA38"><circle cx="989.7" cy="460.7" r="2.3"/><circle cx="1085.9" cy="458.7" r="2.3"/></g><g stroke="#F8766D"><circle cx="987.2" cy="451.1" r="2.3"/></g><g stroke="#00BA38"><circle cx="1008.0" cy="406.7" r="2.3"/></g><g stroke="#F8766D"><circle cx="1005.5" cy="458.7" r="2.3"/></g><g stroke="#00BA38"><circle cx="994.6" cy="415.8" r="2.3"/></g><g stroke="#619CFF"><circle cx="1077.6" cy="459.1" r="2.3"/><circle cx="1048.9" cy="460.0" r="2.3"/></g><g stroke="#F8766D"><circle cx="1042.2" cy="437.8" r="2.3"/><circle cx="1006.9" cy="426.1" r="2.3"/><circle cx="1091.3" cy="459.8" r="2.3"/></g><g stroke="#00BA38"><circle cx="1056.2" cy="463.0" r="2.3"/></g><g stroke="#F8766D"><circle cx="1063.4" cy="503.8" r="2.3"/></g><g stroke="#00BA38"><circle cx="1056.0" cy="457.2" r="2.3"/></g><g stroke="#F8766D"><circle cx="1095.6" cy="446.5" r="2.3"/></g><g stroke="#619CFF"><circle cx="1095.1" cy="419.2" r="2.3"/></g><g stroke="#F8766D"><circle cx="1037.1" cy="455.3" r="2.3"/></g><g stroke="#00BA38"><circle cx="1097.0" cy="491.2" r="2.3"/></g><g stroke="#619CFF"><circle cx="1058.0" cy="406.5" r="2.3"/></g><g stroke="#00BA38"><circle cx="994.2" cy="456.1" r="2.3"/></g><g stroke="#619CFF"><circle cx="1077.0" cy="497.7" r="2.3"/></g><g stroke="#F8766D"><circle cx="1013.2" cy="471.0" r="2.3"/><circle cx="1094.7" cy="458.8" r="2.3"/><circle cx="1017.3" cy="437.8" r="2.3"/></g><g stroke="#00BA38"><circle cx="1009.3" cy="473.9" r="2.3"/></g><g stroke="#F8766D"><circle cx="1061.6" cy="508.9" r="2.3"/><circle cx="1034.4" cy="418.7" r="2.3"/><circle cx="1090.2" cy="441.8" r="2.3"/><circle cx="1036.0" cy="455.7" r="2.3"/></g><g stroke="#619CFF"><circle cx="1001.3" cy="465.0" r="2.3"/></g><g stroke="#00BA38"><circle cx="1010.3" cy="420.5" r="2.3"/></g><g stroke="#F8766D"><circle cx="1070.7" cy="475.9" r="2.3"/></g><g stroke="#00BA38"><circle cx="987.7" cy="432.9" r="2.3"/></g><g stroke="#F8766D"><circle cx="996.1" cy="426.5" r="2.3"/><circle cx="983.3" cy="454.9" r="2.3"/><circle cx="1004.6" cy="422.5" r="2.3"/><circle cx="1025.5" cy="436.6" r="2.3"/><circle cx="1015.4" cy="428.9" r="2.3"/></g><g stroke="#00BA38"><circle cx="991.4" cy="479.3" r="2.3"/></g><g stroke="#F8766D"><circle cx="1073.3" cy="466.7" r="2.3"/></g><g stroke="#00BA38"><circle cx="1092.3" cy="442.5" r="2.3"/></g><g stroke="#619CFF"><circle cx="1075.6" cy="490.3" r="2.3"/></g><g stroke="#F8766D"><circle cx="1044.0" cy="437.3" r="2.3"/></g><g stroke="#00BA38"><circle cx="1019.7" cy="447.3" r="2.3"/></g><g stroke="#619CFF"><circle cx="1031.1" cy="446.5" r="2.3"/></g><g stroke="#F8766D"><circle cx="1078.7" cy="455.9" r="2.3"/></g><g stroke="#619CFF"><circle cx="1060.1" cy="434.2" r="2.3"/></g><g stroke="#F8766D"><circle cx="1035.8" cy="447.5" r="2.3"/></g><g stroke="#619CFF"><circle cx="1028.4" cy="446.1" r="2.3"/></g><g stroke="#F8766D"><circle cx="982.9" cy="443.2" r="2.3"/></g><g stroke="#619CFF"><circle cx="1067.1" cy="502.5" r="2.3"/></g><g stroke="#F8766D"><circle cx="983.8" cy="484.8" r="2.3"/><circle cx="1042.0" cy="425.3" r="2.3"/></g><g stroke="#00BA38"><circle cx="986.0" cy="474.5" r="2.3"/></g><g stroke="#F8766D"><circle cx="1015.1" cy="431.8" r="2.3"/><circle cx="1005.2" cy="436.4" r="2.3"/></g><g stroke="#00BA38"><circle cx="1006.0" cy="432.9" r="2.3"/></g><g stroke="#F8766D"><circle cx="1080.6" cy="478.0" r="2.3"/></g><g stroke="#00BA38"><circle cx="1058.6" cy="447.3" r="2.3"/><circle cx="1031.5" cy="462.3" r="2.3"/></g><g stroke="#F8766D"><circle cx="1043.1" cy="420.4" r="2.3"/><circle cx="986.5" cy="432.9" r="2.3"/><circle cx="1040.1" cy="393.2" r="2.3"/><circle cx="1061.1" cy="475.6" r="2.3"/></g><g stroke="#00BA38"><circle cx="1071.5" cy="443.4" r="2.3"/></g><g stroke="#619CFF"><circle cx="1094.3" cy="456.7" r="2.3"/><circle cx="1028.3" cy="412.3" r="2.3"/></g><g stroke="#F8766D"><circle cx="1013.8" cy="426.3" r="2.3"/></g><g stroke="#00BA38"><circle cx="1004.9" cy="459.1" r="2.3"/></g><g stroke="#F8766D"><circle cx="993.5" cy="465.0" r="2.3"/><circle cx="1060.8" cy="388.8" r="2.3"/><circle cx="1017.7" cy="466.6" r="2.3"/></g><rect x="975.9" y="357.9" width="127.5" height="172.10000000000002" fill="none" stroke="#8a8a8a" stroke-width="2.4"/><rect x="975.9" y="311.3" width="127.5" height="46.599999999999966" fill="#d9d9d9" stroke="#8a8a8a" stroke-width="2.3"/><line x1="975.0" x2="1104.2" y1="357.9" y2="357.9" stroke="#646464" stroke-width="3"/><text x="1039.3" y="343.2" font-size="25" text-anchor="middle">QPRT</text><text x="955.9" y="373.0" text-anchor="end">-3</text><text x="955.9" y="403.3" text-anchor="end">2</text><text x="955.9" y="433.6" text-anchor="end">1</text><text x="955.9" y="463.9" text-anchor="end">0</text><text x="955.9" y="494.2" text-anchor="end">-1</text><text x="955.9" y="524.5" text-anchor="end">-2</text><path d="M968.0,362.6H975.9M968.0,392.9H975.9M968.0,423.2H975.9M968.0,453.5H975.9M968.0,483.8H975.9M968.0,514.1H975.9" stroke="#444" stroke-width="2"/><text x="974.5" y="563.1" text-anchor="middle">0</text><text x="1036.8" y="563.1" text-anchor="middle">12</text><text x="1097.3" y="563.1" text-anchor="middle">24</text>
<rect x="1152.2" y="357.9" width="127.5" height="172.10000000000002" fill="#fff"/><path d="M1158.0,357.9V530.0M1167.7,357.9V530.0M1177.4,357.9V530.0M1187.1,357.9V530.0M1196.8,357.9V530.0M1206.5,357.9V530.0M1216.2,357.9V530.0M1225.9,357.9V530.0M1235.6,357.9V530.0M1245.3,357.9V530.0M1255.0,357.9V530.0M1264.7,357.9V530.0M1274.4,357.9V530.0" stroke="#e8e8e8" stroke-width="1.4" fill="none"/><path d="M1152.2,512.0H1279.7M1152.2,471.4H1279.7M1152.2,430.6H1279.7M1152.2,389.9H1279.7" stroke="#ececec" stroke-width="1.2" fill="none"/><path d="M1152.2,491.7H1279.7M1152.2,451.0H1279.7M1152.2,410.3H1279.7M1152.2,369.6H1279.7" stroke="#e4e4e4" stroke-width="1.5" fill="none"/><g stroke="#F8766D"><circle cx="1238.6" cy="427.8" r="2.3"/><circle cx="1191.4" cy="450.7" r="2.3"/></g><g stroke="#00BA38"><circle cx="1163.0" cy="472.9" r="2.3"/></g><g stroke="#F8766D"><circle cx="1173.4" cy="476.1" r="2.3"/><circle cx="1259.3" cy="442.5" r="2.3"/><circle cx="1191.3" cy="482.4" r="2.3"/><circle cx="1251.2" cy="443.5" r="2.3"/><circle cx="1200.3" cy="478.7" r="2.3"/></g><g stroke="#00BA38"><circle cx="1245.1" cy="460.6" r="2.3"/></g><g stroke="#F8766D"><circle cx="1237.7" cy="474.4" r="2.3"/><circle cx="1269.1" cy="474.7" r="2.3"/><circle cx="1221.2" cy="445.0" r="2.3"/></g><g stroke="#619CFF"><circle cx="1234.1" cy="457.4" r="2.3"/></g><g stroke="#F8766D"><circle cx="1242.6" cy="461.7" r="2.3"/></g><g stroke="#00BA38"><circle cx="1242.2" cy="432.3" r="2.3"/></g><g stroke="#F8766D"><circle cx="1236.0" cy="470.7" r="2.3"/></g><g stroke="#00BA38"><circle cx="1240.6" cy="422.6" r="2.3"/><circle cx="1158.9" cy="503.9" r="2.3"/></g><g stroke="#F8766D"><circle cx="1159.9" cy="506.1" r="2.3"/></g><g stroke="#00BA38"><circle cx="1249.8" cy="445.4" r="2.3"/></g><g stroke="#F8766D"><circle cx="1161.4" cy="443.2" r="2.3"/></g><g stroke="#00BA38"><circle cx="1238.2" cy="454.8" r="2.3"/></g><g stroke="#619CFF"><circle cx="1222.5" cy="394.0" r="2.3"/></g><g stroke="#00BA38"><circle cx="1201.0" cy="454.5" r="2.3"/><circle cx="1208.5" cy="451.9" r="2.3"/></g><g stroke="#619CFF"><circle cx="1169.6" cy="483.7" r="2.3"/><circle cx="1270.7" cy="439.1" r="2.3"/></g><g stroke="#F8766D"><circle cx="1209.3" cy="431.9" r="2.3"/><circle cx="1173.0" cy="470.6" r="2.3"/></g><g stroke="#619CFF"><circle cx="1209.1" cy="452.2" r="2.3"/></g><g stroke="#00BA38"><circle cx="1215.2" cy="459.7" r="2.3"/></g><g stroke="#F8766D"><circle cx="1238.2" cy="421.2" r="2.3"/><circle cx="1178.6" cy="462.3" r="2.3"/></g><g stroke="#00BA38"><circle cx="1217.3" cy="438.0" r="2.3"/></g><g stroke="#F8766D"><circle cx="1189.0" cy="449.7" r="2.3"/><circle cx="1231.2" cy="447.4" r="2.3"/><circle cx="1193.1" cy="498.0" r="2.3"/></g><g stroke="#619CFF"><circle cx="1207.2" cy="451.3" r="2.3"/></g><g stroke="#00BA38"><circle cx="1165.9" cy="486.8" r="2.3"/><circle cx="1167.1" cy="438.1" r="2.3"/><circle cx="1167.9" cy="455.3" r="2.3"/></g><g stroke="#F8766D"><circle cx="1209.9" cy="436.7" r="2.3"/></g><g stroke="#00BA38"><circle cx="1163.8" cy="451.9" r="2.3"/></g><g stroke="#619CFF"><circle cx="1264.6" cy="476.6" r="2.3"/></g><g stroke="#F8766D"><circle cx="1240.7" cy="434.0" r="2.3"/><circle cx="1240.2" cy="485.0" r="2.3"/></g><g stroke="#00BA38"><circle cx="1250.6" cy="445.1" r="2.3"/><circle cx="1231.8" cy="408.9" r="2.3"/></g><g stroke="#619CFF"><circle cx="1177.5" cy="434.3" r="2.3"/></g><g stroke="#00BA38"><circle cx="1243.9" cy="447.7" r="2.3"/></g><g stroke="#F8766D"><circle cx="1260.2" cy="417.6" r="2.3"/></g><g stroke="#00BA38"><circle cx="1202.9" cy="440.5" r="2.3"/></g><g stroke="#F8766D"><circle cx="1171.5" cy="488.9" r="2.3"/></g><g stroke="#619CFF"><circle cx="1207.3" cy="436.6" r="2.3"/></g><g stroke="#00BA38"><circle cx="1176.7" cy="439.2" r="2.3"/><circle cx="1205.5" cy="411.1" r="2.3"/></g><g stroke="#F8766D"><circle cx="1209.6" cy="457.0" r="2.3"/></g><g stroke="#00BA38"><circle cx="1235.7" cy="445.6" r="2.3"/></g><g stroke="#F8766D"><circle cx="1230.0" cy="443.4" r="2.3"/><circle cx="1227.3" cy="434.6" r="2.3"/><circle cx="1229.5" cy="461.4" r="2.3"/><circle cx="1190.6" cy="443.6" r="2.3"/><circle cx="1187.6" cy="479.5" r="2.3"/><circle cx="1180.5" cy="461.8" r="2.3"/></g><g stroke="#00BA38"><circle cx="1208.5" cy="422.7" r="2.3"/><circle cx="1251.5" cy="424.2" r="2.3"/></g><g stroke="#F8766D"><circle cx="1211.5" cy="449.6" r="2.3"/><circle cx="1172.2" cy="429.2" r="2.3"/></g><g stroke="#619CFF"><circle cx="1224.1" cy="455.6" r="2.3"/></g><g stroke="#F8766D"><circle cx="1161.5" cy="503.4" r="2.3"/><circle cx="1258.5" cy="425.9" r="2.3"/><circle cx="1248.6" cy="421.8" r="2.3"/><circle cx="1269.0" cy="390.2" r="2.3"/><circle cx="1240.2" cy="425.0" r="2.3"/></g><g stroke="#00BA38"><circle cx="1199.0" cy="485.0" r="2.3"/></g><g stroke="#619CFF"><circle cx="1196.0" cy="448.5" r="2.3"/></g><g stroke="#F8766D"><circle cx="1162.0" cy="514.0" r="2.3"/><circle cx="1199.8" cy="465.2" r="2.3"/><circle cx="1207.4" cy="439.1" r="2.3"/><circle cx="1271.3" cy="469.2" r="2.3"/><circle cx="1248.4" cy="449.5" r="2.3"/><circle cx="1261.3" cy="402.9" r="2.3"/></g><g stroke="#619CFF"><circle cx="1173.0" cy="476.4" r="2.3"/><circle cx="1177.4" cy="441.3" r="2.3"/></g><g stroke="#00BA38"><circle cx="1215.7" cy="426.9" r="2.3"/><circle cx="1209.9" cy="412.8" r="2.3"/></g><g stroke="#F8766D"><circle cx="1218.5" cy="446.7" r="2.3"/></g><g stroke="#00BA38"><circle cx="1174.9" cy="489.6" r="2.3"/><circle cx="1207.7" cy="487.4" r="2.3"/><circle cx="1172.3" cy="500.7" r="2.3"/></g><g stroke="#619CFF"><circle cx="1160.3" cy="450.5" r="2.3"/></g><g stroke="#00BA38"><circle cx="1173.5" cy="484.5" r="2.3"/></g><g stroke="#619CFF"><circle cx="1207.1" cy="479.6" r="2.3"/></g><g stroke="#00BA38"><circle cx="1181.1" cy="446.0" r="2.3"/></g><g stroke="#F8766D"><circle cx="1171.1" cy="449.6" r="2.3"/></g><g stroke="#619CFF"><circle cx="1249.8" cy="380.1" r="2.3"/></g><g stroke="#00BA38"><circle cx="1200.7" cy="388.3" r="2.3"/></g><g stroke="#619CFF"><circle cx="1205.1" cy="481.5" r="2.3"/><circle cx="1198.6" cy="430.1" r="2.3"/></g><g stroke="#00BA38"><circle cx="1180.5" cy="453.5" r="2.3"/></g><g stroke="#F8766D"><circle cx="1258.1" cy="485.4" r="2.3"/></g><g stroke="#619CFF"><circle cx="1233.0" cy="408.1" r="2.3"/></g><g stroke="#F8766D"><circle cx="1249.0" cy="429.7" r="2.3"/><circle cx="1189.7" cy="482.5" r="2.3"/><circle cx="1209.1" cy="469.3" r="2.3"/><circle cx="1270.9" cy="479.5" r="2.3"/></g><g stroke="#619CFF"><circle cx="1215.1" cy="396.0" r="2.3"/></g><g stroke="#F8766D"><circle cx="1220.5" cy="449.6" r="2.3"/><circle cx="1228.2" cy="470.2" r="2.3"/></g><g stroke="#00BA38"><circle cx="1234.6" cy="445.5" r="2.3"/></g><g stroke="#619CFF"><circle cx="1180.9" cy="468.8" r="2.3"/><circle cx="1242.9" cy="468.2" r="2.3"/></g><g stroke="#F8766D"><circle cx="1183.5" cy="483.1" r="2.3"/></g><g stroke="#619CFF"><circle cx="1159.9" cy="458.2" r="2.3"/></g><g stroke="#F8766D"><circle cx="1237.4" cy="391.4" r="2.3"/><circle cx="1259.8" cy="456.7" r="2.3"/><circle cx="1182.6" cy="459.5" r="2.3"/></g><g stroke="#00BA38"><circle cx="1253.1" cy="436.3" r="2.3"/></g><g stroke="#F8766D"><circle cx="1190.4" cy="465.4" r="2.3"/><circle cx="1269.3" cy="436.6" r="2.3"/><circle cx="1269.2" cy="484.6" r="2.3"/><circle cx="1203.4" cy="434.9" r="2.3"/><circle cx="1209.7" cy="429.1" r="2.3"/><circle cx="1249.7" cy="430.5" r="2.3"/></g><g stroke="#619CFF"><circle cx="1170.9" cy="501.9" r="2.3"/></g><g stroke="#00BA38"><circle cx="1215.7" cy="466.3" r="2.3"/><circle cx="1265.7" cy="409.7" r="2.3"/><circle cx="1166.3" cy="441.6" r="2.3"/></g><g stroke="#619CFF"><circle cx="1236.6" cy="468.8" r="2.3"/></g><g stroke="#00BA38"><circle cx="1244.0" cy="454.5" r="2.3"/></g><g stroke="#F8766D"><circle cx="1266.7" cy="491.8" r="2.3"/></g><g stroke="#619CFF"><circle cx="1189.3" cy="464.6" r="2.3"/></g><g stroke="#F8766D"><circle cx="1199.4" cy="499.7" r="2.3"/><circle cx="1256.0" cy="420.9" r="2.3"/><circle cx="1265.1" cy="438.1" r="2.3"/><circle cx="1199.6" cy="449.4" r="2.3"/><circle cx="1207.1" cy="450.6" r="2.3"/><circle cx="1189.5" cy="474.4" r="2.3"/><circle cx="1209.5" cy="459.3" r="2.3"/></g><g stroke="#00BA38"><circle cx="1206.8" cy="457.9" r="2.3"/><circle cx="1217.4" cy="422.6" r="2.3"/></g><g stroke="#F8766D"><circle cx="1229.6" cy="456.4" r="2.3"/></g><g stroke="#00BA38"><circle cx="1244.1" cy="433.7" r="2.3"/></g><g stroke="#F8766D"><circle cx="1248.0" cy="442.2" r="2.3"/><circle cx="1192.1" cy="470.8" r="2.3"/><circle cx="1226.1" cy="485.4" r="2.3"/></g><g stroke="#619CFF"><circle cx="1160.5" cy="469.7" r="2.3"/></g><g stroke="#F8766D"><circle cx="1256.3" cy="462.5" r="2.3"/><circle cx="1247.9" cy="439.9" r="2.3"/><circle cx="1241.0" cy="447.2" r="2.3"/><circle cx="1204.7" cy="448.6" r="2.3"/></g><g stroke="#619CFF"><circle cx="1259.7" cy="436.9" r="2.3"/></g><g stroke="#00BA38"><circle cx="1250.2" cy="432.2" r="2.3"/><circle cx="1240.6" cy="430.7" r="2.3"/></g><g stroke="#F8766D"><circle cx="1210.6" cy="413.8" r="2.3"/><circle cx="1236.5" cy="423.8" r="2.3"/><circle cx="1268.9" cy="409.5" r="2.3"/></g><g stroke="#619CFF"><circle cx="1227.5" cy="500.5" r="2.3"/></g><g stroke="#00BA38"><circle cx="1166.1" cy="431.0" r="2.3"/><circle cx="1267.4" cy="425.3" r="2.3"/></g><g stroke="#619CFF"><circle cx="1234.5" cy="431.1" r="2.3"/><circle cx="1216.1" cy="454.1" r="2.3"/><circle cx="1243.1" cy="446.4" r="2.3"/></g><g stroke="#F8766D"><circle cx="1269.6" cy="523.1" r="2.3"/></g><g stroke="#619CFF"><circle cx="1181.1" cy="462.2" r="2.3"/><circle cx="1213.8" cy="482.7" r="2.3"/><circle cx="1216.1" cy="434.8" r="2.3"/><circle cx="1177.1" cy="442.8" r="2.3"/></g><g stroke="#F8766D"><circle cx="1201.2" cy="491.1" r="2.3"/><circle cx="1210.6" cy="470.1" r="2.3"/></g><g stroke="#619CFF"><circle cx="1205.0" cy="455.1" r="2.3"/><circle cx="1207.5" cy="457.4" r="2.3"/></g><g stroke="#F8766D"><circle cx="1189.5" cy="469.8" r="2.3"/><circle cx="1228.1" cy="439.8" r="2.3"/></g><g stroke="#619CFF"><circle cx="1169.6" cy="455.5" r="2.3"/></g><g stroke="#F8766D"><circle cx="1171.0" cy="454.8" r="2.3"/></g><g stroke="#619CFF"><circle cx="1245.3" cy="452.4" r="2.3"/></g><g stroke="#F8766D"><circle cx="1200.3" cy="494.1" r="2.3"/></g><g stroke="#619CFF"><circle cx="1168.6" cy="453.5" r="2.3"/><circle cx="1226.5" cy="459.0" r="2.3"/></g><g stroke="#F8766D"><circle cx="1229.4" cy="442.9" r="2.3"/><circle cx="1258.5" cy="445.4" r="2.3"/><circle cx="1179.3" cy="492.6" r="2.3"/></g><g stroke="#00BA38"><circle cx="1240.5" cy="456.6" r="2.3"/></g><g stroke="#619CFF"><circle cx="1232.2" cy="474.7" r="2.3"/></g><g stroke="#F8766D"><circle cx="1220.1" cy="411.1" r="2.3"/><circle cx="1184.1" cy="443.0" r="2.3"/></g><g stroke="#00BA38"><circle cx="1164.7" cy="448.8" r="2.3"/></g><g stroke="#F8766D"><circle cx="1190.6" cy="473.1" r="2.3"/><circle cx="1179.8" cy="409.3" r="2.3"/><circle cx="1259.3" cy="462.2" r="2.3"/></g><g stroke="#00BA38"><circle cx="1208.4" cy="452.2" r="2.3"/></g><g stroke="#F8766D"><circle cx="1242.1" cy="392.4" r="2.3"/></g><g stroke="#619CFF"><circle cx="1213.0" cy="499.6" r="2.3"/></g><g stroke="#F8766D"><circle cx="1163.6" cy="475.2" r="2.3"/></g><g stroke="#619CFF"><circle cx="1226.3" cy="434.9" r="2.3"/></g><g stroke="#00BA38"><circle cx="1182.6" cy="460.9" r="2.3"/></g><g stroke="#619CFF"><circle cx="1177.6" cy="482.9" r="2.3"/><circle cx="1178.6" cy="487.4" r="2.3"/><circle cx="1242.5" cy="428.8" r="2.3"/></g><g stroke="#F8766D"><circle cx="1266.5" cy="468.4" r="2.3"/><circle cx="1269.4" cy="438.6" r="2.3"/></g><g stroke="#619CFF"><circle cx="1216.9" cy="465.0" r="2.3"/></g><g stroke="#00BA38"><circle cx="1180.8" cy="462.4" r="2.3"/></g><g stroke="#F8766D"><circle cx="1207.7" cy="447.4" r="2.3"/><circle cx="1203.1" cy="426.9" r="2.3"/><circle cx="1237.4" cy="427.0" r="2.3"/><circle cx="1239.0" cy="479.8" r="2.3"/><circle cx="1160.4" cy="429.8" r="2.3"/></g><g stroke="#619CFF"><circle cx="1205.2" cy="422.1" r="2.3"/></g><g stroke="#F8766D"><circle cx="1192.0" cy="495.0" r="2.3"/></g><g stroke="#00BA38"><circle cx="1234.3" cy="464.9" r="2.3"/></g><g stroke="#F8766D"><circle cx="1179.6" cy="480.8" r="2.3"/></g><g stroke="#00BA38"><circle cx="1241.3" cy="422.3" r="2.3"/></g><g stroke="#619CFF"><circle cx="1197.3" cy="463.9" r="2.3"/></g><g stroke="#F8766D"><circle cx="1206.9" cy="476.8" r="2.3"/><circle cx="1232.4" cy="442.7" r="2.3"/><circle cx="1162.4" cy="449.5" r="2.3"/><circle cx="1267.8" cy="461.9" r="2.3"/></g><g stroke="#00BA38"><circle cx="1180.4" cy="472.3" r="2.3"/></g><g stroke="#F8766D"><circle cx="1171.5" cy="468.6" r="2.3"/><circle cx="1269.2" cy="411.3" r="2.3"/></g><g stroke="#00BA38"><circle cx="1167.7" cy="444.8" r="2.3"/><circle cx="1272.0" cy="434.3" r="2.3"/><circle cx="1202.9" cy="454.0" r="2.3"/></g><g stroke="#619CFF"><circle cx="1217.1" cy="388.4" r="2.3"/></g><g stroke="#F8766D"><circle cx="1219.8" cy="466.5" r="2.3"/></g><g stroke="#619CFF"><circle cx="1176.9" cy="454.0" r="2.3"/><circle cx="1188.5" cy="458.2" r="2.3"/></g><g stroke="#F8766D"><circle cx="1190.9" cy="469.3" r="2.3"/></g><g stroke="#619CFF"><circle cx="1271.2" cy="484.5" r="2.3"/></g><g stroke="#00BA38"><circle cx="1164.0" cy="458.7" r="2.3"/></g><g stroke="#F8766D"><circle cx="1161.8" cy="486.6" r="2.3"/><circle cx="1228.9" cy="447.0" r="2.3"/></g><g stroke="#00BA38"><circle cx="1241.6" cy="420.5" r="2.3"/></g><g stroke="#F8766D"><circle cx="1257.5" cy="418.5" r="2.3"/></g><g stroke="#00BA38"><circle cx="1187.2" cy="458.4" r="2.3"/><circle cx="1198.6" cy="493.2" r="2.3"/></g><g stroke="#619CFF"><circle cx="1198.5" cy="475.2" r="2.3"/></g><g stroke="#F8766D"><circle cx="1259.8" cy="439.6" r="2.3"/></g><g stroke="#00BA38"><circle cx="1197.9" cy="462.9" r="2.3"/></g><g stroke="#F8766D"><circle cx="1260.8" cy="461.4" r="2.3"/><circle cx="1173.9" cy="451.2" r="2.3"/><circle cx="1217.3" cy="487.4" r="2.3"/></g><g stroke="#00BA38"><circle cx="1232.4" cy="437.8" r="2.3"/></g><g stroke="#F8766D"><circle cx="1239.7" cy="440.1" r="2.3"/><circle cx="1182.5" cy="475.5" r="2.3"/></g><g stroke="#619CFF"><circle cx="1237.3" cy="414.5" r="2.3"/></g><g stroke="#F8766D"><circle cx="1172.5" cy="444.8" r="2.3"/></g><g stroke="#00BA38"><circle cx="1229.8" cy="464.9" r="2.3"/><circle cx="1204.1" cy="434.1" r="2.3"/><circle cx="1166.2" cy="431.8" r="2.3"/></g><g stroke="#F8766D"><circle cx="1191.2" cy="420.8" r="2.3"/></g><g stroke="#00BA38"><circle cx="1208.8" cy="443.8" r="2.3"/><circle cx="1231.5" cy="402.1" r="2.3"/></g><g stroke="#F8766D"><circle cx="1171.6" cy="398.0" r="2.3"/></g><g stroke="#00BA38"><circle cx="1181.1" cy="453.6" r="2.3"/><circle cx="1174.0" cy="449.6" r="2.3"/></g><g stroke="#F8766D"><circle cx="1221.4" cy="423.1" r="2.3"/><circle cx="1180.9" cy="478.1" r="2.3"/></g><g stroke="#619CFF"><circle cx="1215.3" cy="469.4" r="2.3"/></g><g stroke="#00BA38"><circle cx="1252.1" cy="434.8" r="2.3"/><circle cx="1162.2" cy="431.8" r="2.3"/><circle cx="1176.8" cy="451.3" r="2.3"/></g><g stroke="#F8766D"><circle cx="1198.3" cy="499.4" r="2.3"/><circle cx="1268.6" cy="413.6" r="2.3"/><circle cx="1269.9" cy="444.2" r="2.3"/><circle cx="1201.7" cy="464.0" r="2.3"/><circle cx="1180.8" cy="495.0" r="2.3"/></g><g stroke="#619CFF"><circle cx="1242.3" cy="428.1" r="2.3"/><circle cx="1196.4" cy="428.0" r="2.3"/></g><g stroke="#00BA38"><circle cx="1168.4" cy="459.0" r="2.3"/><circle cx="1236.0" cy="432.7" r="2.3"/></g><g stroke="#F8766D"><circle cx="1261.2" cy="422.0" r="2.3"/></g><g stroke="#619CFF"><circle cx="1261.1" cy="399.5" r="2.3"/><circle cx="1207.9" cy="440.3" r="2.3"/><circle cx="1242.5" cy="453.0" r="2.3"/></g><g stroke="#00BA38"><circle cx="1235.7" cy="386.1" r="2.3"/></g><g stroke="#F8766D"><circle cx="1240.5" cy="377.8" r="2.3"/></g><g stroke="#619CFF"><circle cx="1207.5" cy="456.2" r="2.3"/><circle cx="1188.3" cy="437.4" r="2.3"/></g><g stroke="#F8766D"><circle cx="1203.0" cy="432.3" r="2.3"/><circle cx="1191.9" cy="468.7" r="2.3"/></g><g stroke="#619CFF"><circle cx="1242.3" cy="512.3" r="2.3"/></g><g stroke="#F8766D"><circle cx="1174.8" cy="451.4" r="2.3"/></g><g stroke="#00BA38"><circle cx="1236.8" cy="437.6" r="2.3"/></g><g stroke="#619CFF"><circle cx="1260.8" cy="387.9" r="2.3"/></g><g stroke="#F8766D"><circle cx="1223.2" cy="447.4" r="2.3"/></g><g stroke="#00BA38"><circle cx="1217.1" cy="418.6" r="2.3"/></g><g stroke="#F8766D"><circle cx="1240.3" cy="449.2" r="2.3"/></g><g stroke="#00BA38"><circle cx="1250.8" cy="402.5" r="2.3"/></g><g stroke="#F8766D"><circle cx="1190.3" cy="454.0" r="2.3"/><circle cx="1191.3" cy="458.9" r="2.3"/></g><g stroke="#00BA38"><circle cx="1266.4" cy="428.6" r="2.3"/></g><g stroke="#F8766D"><circle cx="1270.7" cy="431.9" r="2.3"/><circle cx="1256.6" cy="422.3" r="2.3"/></g><g stroke="#00BA38"><circle cx="1214.3" cy="393.8" r="2.3"/></g><g stroke="#619CFF"><circle cx="1179.9" cy="490.5" r="2.3"/></g><g stroke="#00BA38"><circle cx="1248.2" cy="422.3" r="2.3"/></g><g stroke="#F8766D"><circle cx="1267.4" cy="461.2" r="2.3"/><circle cx="1174.7" cy="512.6" r="2.3"/></g><g stroke="#619CFF"><circle cx="1160.8" cy="468.0" r="2.3"/></g><g stroke="#00BA38"><circle cx="1248.0" cy="442.8" r="2.3"/></g><g stroke="#F8766D"><circle cx="1199.9" cy="462.8" r="2.3"/></g><g stroke="#00BA38"><circle cx="1169.9" cy="445.8" r="2.3"/></g><g stroke="#619CFF"><circle cx="1258.4" cy="404.9" r="2.3"/></g><g stroke="#00BA38"><circle cx="1251.5" cy="466.1" r="2.3"/></g><g stroke="#F8766D"><circle cx="1251.4" cy="401.8" r="2.3"/></g><g stroke="#619CFF"><circle cx="1188.9" cy="491.4" r="2.3"/></g><g stroke="#F8766D"><circle cx="1164.0" cy="468.2" r="2.3"/></g><g stroke="#619CFF"><circle cx="1207.7" cy="425.8" r="2.3"/><circle cx="1197.6" cy="489.7" r="2.3"/><circle cx="1169.5" cy="509.8" r="2.3"/><circle cx="1206.4" cy="500.5" r="2.3"/></g><g stroke="#00BA38"><circle cx="1207.9" cy="456.0" r="2.3"/></g><g stroke="#F8766D"><circle cx="1209.9" cy="398.1" r="2.3"/></g><g stroke="#619CFF"><circle cx="1163.4" cy="457.4" r="2.3"/></g><g stroke="#F8766D"><circle cx="1257.0" cy="398.0" r="2.3"/></g><g stroke="#619CFF"><circle cx="1160.0" cy="415.1" r="2.3"/></g><g stroke="#00BA38"><circle cx="1176.6" cy="498.9" r="2.3"/><circle cx="1265.3" cy="447.1" r="2.3"/></g><g stroke="#F8766D"><circle cx="1256.7" cy="463.3" r="2.3"/><circle cx="1168.3" cy="498.0" r="2.3"/><circle cx="1213.4" cy="445.1" r="2.3"/><circle cx="1204.5" cy="481.2" r="2.3"/></g><g stroke="#00BA38"><circle cx="1235.2" cy="429.3" r="2.3"/></g><g stroke="#619CFF"><circle cx="1250.2" cy="485.7" r="2.3"/><circle cx="1214.1" cy="469.5" r="2.3"/></g><g stroke="#F8766D"><circle cx="1212.8" cy="463.3" r="2.3"/><circle cx="1186.5" cy="491.9" r="2.3"/><circle cx="1191.8" cy="492.9" r="2.3"/><circle cx="1190.8" cy="454.3" r="2.3"/><circle cx="1182.5" cy="463.5" r="2.3"/><circle cx="1201.5" cy="466.7" r="2.3"/><circle cx="1228.8" cy="367.1" r="2.3"/><circle cx="1212.1" cy="423.7" r="2.3"/><circle cx="1221.6" cy="449.6" r="2.3"/></g><g stroke="#00BA38"><circle cx="1245.2" cy="376.4" r="2.3"/></g><g stroke="#F8766D"><circle cx="1219.3" cy="451.9" r="2.3"/></g><g stroke="#00BA38"><circle cx="1199.5" cy="451.7" r="2.3"/><circle cx="1214.9" cy="436.4" r="2.3"/></g><g stroke="#F8766D"><circle cx="1258.8" cy="430.6" r="2.3"/><circle cx="1174.1" cy="495.9" r="2.3"/><circle cx="1220.2" cy="450.8" r="2.3"/><circle cx="1218.8" cy="490.5" r="2.3"/><circle cx="1256.5" cy="438.7" r="2.3"/><circle cx="1248.8" cy="464.5" r="2.3"/></g><g stroke="#00BA38"><circle cx="1164.6" cy="449.1" r="2.3"/></g><g stroke="#F8766D"><circle cx="1238.7" cy="461.3" r="2.3"/><circle cx="1169.3" cy="477.4" r="2.3"/><circle cx="1159.2" cy="432.9" r="2.3"/><circle cx="1239.7" cy="478.8" r="2.3"/><circle cx="1271.0" cy="462.5" r="2.3"/><circle cx="1196.3" cy="432.5" r="2.3"/><circle cx="1222.4" cy="429.0" r="2.3"/></g><g stroke="#00BA38"><circle cx="1266.4" cy="443.5" r="2.3"/></g><g stroke="#F8766D"><circle cx="1271.1" cy="496.7" r="2.3"/><circle cx="1190.9" cy="475.0" r="2.3"/><circle cx="1250.1" cy="436.2" r="2.3"/></g><g stroke="#00BA38"><circle cx="1173.6" cy="411.7" r="2.3"/></g><g stroke="#F8766D"><circle cx="1182.2" cy="497.0" r="2.3"/><circle cx="1191.4" cy="460.9" r="2.3"/><circle cx="1268.2" cy="427.1" r="2.3"/></g><g stroke="#00BA38"><circle cx="1209.5" cy="465.9" r="2.3"/></g><g stroke="#F8766D"><circle cx="1161.6" cy="468.0" r="2.3"/></g><g stroke="#619CFF"><circle cx="1250.9" cy="415.2" r="2.3"/></g><g stroke="#00BA38"><circle cx="1183.3" cy="508.9" r="2.3"/></g><g stroke="#619CFF"><circle cx="1187.4" cy="476.7" r="2.3"/></g><g stroke="#F8766D"><circle cx="1170.9" cy="416.6" r="2.3"/><circle cx="1218.7" cy="413.5" r="2.3"/><circle cx="1168.1" cy="473.1" r="2.3"/></g><g stroke="#00BA38"><circle cx="1207.8" cy="498.0" r="2.3"/></g><g stroke="#619CFF"><circle cx="1244.1" cy="460.6" r="2.3"/></g><g stroke="#F8766D"><circle cx="1182.5" cy="439.1" r="2.3"/></g><g stroke="#00BA38"><circle cx="1269.1" cy="431.0" r="2.3"/></g><g stroke="#F8766D"><circle cx="1170.4" cy="448.9" r="2.3"/></g><g stroke="#00BA38"><circle cx="1233.0" cy="471.1" r="2.3"/></g><g stroke="#F8766D"><circle cx="1191.8" cy="446.6" r="2.3"/></g><g stroke="#619CFF"><circle cx="1214.9" cy="427.5" r="2.3"/><circle cx="1253.1" cy="428.2" r="2.3"/></g><g stroke="#00BA38"><circle cx="1230.1" cy="443.5" r="2.3"/></g><g stroke="#F8766D"><circle cx="1230.4" cy="415.8" r="2.3"/><circle cx="1160.0" cy="446.2" r="2.3"/><circle cx="1190.3" cy="464.9" r="2.3"/><circle cx="1172.1" cy="422.9" r="2.3"/></g><g stroke="#00BA38"><circle cx="1239.1" cy="436.4" r="2.3"/></g><g stroke="#F8766D"><circle cx="1212.7" cy="425.6" r="2.3"/></g><g stroke="#00BA38"><circle cx="1209.6" cy="455.9" r="2.3"/></g><g stroke="#619CFF"><circle cx="1232.8" cy="420.0" r="2.3"/><circle cx="1158.5" cy="441.7" r="2.3"/></g><g stroke="#F8766D"><circle cx="1178.9" cy="457.9" r="2.3"/><circle cx="1231.7" cy="473.3" r="2.3"/></g><g stroke="#00BA38"><circle cx="1218.5" cy="470.4" r="2.3"/></g><g stroke="#F8766D"><circle cx="1158.5" cy="477.9" r="2.3"/><circle cx="1172.8" cy="451.6" r="2.3"/></g><g stroke="#00BA38"><circle cx="1233.4" cy="413.8" r="2.3"/></g><g stroke="#F8766D"><circle cx="1240.2" cy="452.5" r="2.3"/><circle cx="1191.5" cy="458.9" r="2.3"/><circle cx="1235.0" cy="459.6" r="2.3"/></g><g stroke="#619CFF"><circle cx="1162.5" cy="469.9" r="2.3"/></g><g stroke="#F8766D"><circle cx="1227.6" cy="426.3" r="2.3"/></g><g stroke="#619CFF"><circle cx="1244.9" cy="421.4" r="2.3"/><circle cx="1224.3" cy="464.3" r="2.3"/></g><g stroke="#00BA38"><circle cx="1239.8" cy="435.5" r="2.3"/></g><g stroke="#F8766D"><circle cx="1202.4" cy="433.3" r="2.3"/><circle cx="1207.2" cy="495.0" r="2.3"/><circle cx="1240.1" cy="421.6" r="2.3"/><circle cx="1227.7" cy="435.7" r="2.3"/></g><g stroke="#619CFF"><circle cx="1251.1" cy="439.8" r="2.3"/></g><g stroke="#00BA38"><circle cx="1165.0" cy="494.8" r="2.3"/></g><g stroke="#F8766D"><circle cx="1169.7" cy="498.3" r="2.3"/><circle cx="1251.5" cy="450.2" r="2.3"/></g><g stroke="#00BA38"><circle cx="1182.5" cy="423.9" r="2.3"/></g><g stroke="#F8766D"><circle cx="1226.6" cy="415.7" r="2.3"/><circle cx="1259.4" cy="449.6" r="2.3"/><circle cx="1171.9" cy="468.8" r="2.3"/></g><g stroke="#00BA38"><circle cx="1181.0" cy="425.3" r="2.3"/><circle cx="1199.2" cy="417.9" r="2.3"/><circle cx="1202.2" cy="442.4" r="2.3"/></g><g stroke="#F8766D"><circle cx="1250.9" cy="438.7" r="2.3"/></g><g stroke="#619CFF"><circle cx="1171.0" cy="462.6" r="2.3"/></g><g stroke="#F8766D"><circle cx="1211.3" cy="439.3" r="2.3"/></g><g stroke="#619CFF"><circle cx="1178.4" cy="467.3" r="2.3"/></g><g stroke="#F8766D"><circle cx="1256.0" cy="497.7" r="2.3"/><circle cx="1209.5" cy="430.4" r="2.3"/></g><g stroke="#00BA38"><circle cx="1204.9" cy="450.6" r="2.3"/></g><g stroke="#F8766D"><circle cx="1163.1" cy="456.0" r="2.3"/><circle cx="1231.1" cy="393.8" r="2.3"/></g><g stroke="#619CFF"><circle cx="1270.9" cy="445.7" r="2.3"/></g><g stroke="#F8766D"><circle cx="1252.5" cy="431.3" r="2.3"/><circle cx="1228.0" cy="406.5" r="2.3"/></g><g stroke="#619CFF"><circle cx="1252.3" cy="398.9" r="2.3"/></g><g stroke="#00BA38"><circle cx="1234.3" cy="440.8" r="2.3"/></g><g stroke="#619CFF"><circle cx="1184.2" cy="502.9" r="2.3"/></g><g stroke="#F8766D"><circle cx="1217.6" cy="430.9" r="2.3"/><circle cx="1210.1" cy="513.0" r="2.3"/><circle cx="1160.5" cy="443.8" r="2.3"/><circle cx="1237.1" cy="389.6" r="2.3"/></g><g stroke="#00BA38"><circle cx="1181.5" cy="455.9" r="2.3"/><circle cx="1195.7" cy="512.4" r="2.3"/><circle cx="1216.5" cy="384.3" r="2.3"/><circle cx="1179.1" cy="444.9" r="2.3"/></g><g stroke="#F8766D"><circle cx="1249.4" cy="434.0" r="2.3"/></g><g stroke="#619CFF"><circle cx="1255.3" cy="436.6" r="2.3"/></g><g stroke="#F8766D"><circle cx="1230.2" cy="441.7" r="2.3"/></g><g stroke="#619CFF"><circle cx="1185.2" cy="479.4" r="2.3"/></g><g stroke="#00BA38"><circle cx="1250.7" cy="427.4" r="2.3"/></g><g stroke="#F8766D"><circle cx="1246.2" cy="426.2" r="2.3"/></g><g stroke="#00BA38"><circle cx="1216.7" cy="457.3" r="2.3"/></g><g stroke="#F8766D"><circle cx="1267.4" cy="445.3" r="2.3"/></g><g stroke="#00BA38"><circle cx="1251.2" cy="444.6" r="2.3"/><circle cx="1182.6" cy="462.3" r="2.3"/></g><g stroke="#F8766D"><circle cx="1238.6" cy="448.5" r="2.3"/></g><g stroke="#00BA38"><circle cx="1163.4" cy="459.2" r="2.3"/></g><g stroke="#F8766D"><circle cx="1268.9" cy="443.2" r="2.3"/><circle cx="1219.8" cy="437.4" r="2.3"/></g><g stroke="#619CFF"><circle cx="1235.0" cy="424.4" r="2.3"/><circle cx="1263.9" cy="500.5" r="2.3"/></g><g stroke="#00BA38"><circle cx="1235.0" cy="421.6" r="2.3"/></g><g stroke="#619CFF"><circle cx="1216.7" cy="446.3" r="2.3"/></g><g stroke="#00BA38"><circle cx="1231.2" cy="469.8" r="2.3"/><circle cx="1236.6" cy="428.1" r="2.3"/></g><g stroke="#619CFF"><circle cx="1188.6" cy="519.0" r="2.3"/></g><g stroke="#F8766D"><circle cx="1215.1" cy="454.9" r="2.3"/></g><g stroke="#619CFF"><circle cx="1160.7" cy="456.1" r="2.3"/></g><g stroke="#00BA38"><circle cx="1165.1" cy="454.7" r="2.3"/></g><g stroke="#619CFF"><circle cx="1243.1" cy="456.1" r="2.3"/><circle cx="1270.8" cy="473.3" r="2.3"/><circle cx="1169.2" cy="425.6" r="2.3"/></g><g stroke="#F8766D"><circle cx="1257.2" cy="454.7" r="2.3"/></g><g stroke="#00BA38"><circle cx="1213.8" cy="482.8" r="2.3"/></g><g stroke="#F8766D"><circle cx="1259.6" cy="470.5" r="2.3"/><circle cx="1180.4" cy="451.8" r="2.3"/></g><g stroke="#619CFF"><circle cx="1178.1" cy="442.6" r="2.3"/></g><g stroke="#00BA38"><circle cx="1240.0" cy="416.3" r="2.3"/><circle cx="1165.5" cy="511.4" r="2.3"/><circle cx="1232.8" cy="462.2" r="2.3"/></g><g stroke="#F8766D"><circle cx="1251.1" cy="465.5" r="2.3"/></g><g stroke="#619CFF"><circle cx="1233.5" cy="476.3" r="2.3"/></g><g stroke="#F8766D"><circle cx="1192.6" cy="427.3" r="2.3"/></g><g stroke="#619CFF"><circle cx="1244.4" cy="400.7" r="2.3"/></g><g stroke="#00BA38"><circle cx="1200.3" cy="470.9" r="2.3"/></g><g stroke="#F8766D"><circle cx="1220.6" cy="470.6" r="2.3"/></g><g stroke="#00BA38"><circle cx="1216.2" cy="424.2" r="2.3"/></g><g stroke="#F8766D"><circle cx="1216.5" cy="423.7" r="2.3"/><circle cx="1221.6" cy="441.2" r="2.3"/></g><g stroke="#619CFF"><circle cx="1255.7" cy="462.6" r="2.3"/></g><g stroke="#00BA38"><circle cx="1183.2" cy="414.3" r="2.3"/></g><g stroke="#F8766D"><circle cx="1258.8" cy="432.7" r="2.3"/><circle cx="1187.9" cy="479.8" r="2.3"/><circle cx="1222.1" cy="440.1" r="2.3"/></g><g stroke="#00BA38"><circle cx="1233.5" cy="423.4" r="2.3"/></g><g stroke="#F8766D"><circle cx="1219.2" cy="465.7" r="2.3"/><circle cx="1189.5" cy="445.6" r="2.3"/><circle cx="1173.6" cy="418.0" r="2.3"/></g><g stroke="#619CFF"><circle cx="1253.4" cy="455.5" r="2.3"/></g><g stroke="#F8766D"><circle cx="1185.4" cy="463.9" r="2.3"/></g><g stroke="#00BA38"><circle cx="1171.8" cy="468.7" r="2.3"/></g><g stroke="#F8766D"><circle cx="1229.6" cy="403.0" r="2.3"/><circle cx="1268.6" cy="475.9" r="2.3"/><circle cx="1211.8" cy="420.4" r="2.3"/></g><g stroke="#619CFF"><circle cx="1244.7" cy="490.6" r="2.3"/></g><g stroke="#F8766D"><circle cx="1228.7" cy="443.1" r="2.3"/></g><g stroke="#00BA38"><circle cx="1217.8" cy="437.5" r="2.3"/><circle cx="1237.6" cy="408.1" r="2.3"/></g><g stroke="#619CFF"><circle cx="1227.4" cy="457.1" r="2.3"/></g><g stroke="#F8766D"><circle cx="1190.4" cy="458.7" r="2.3"/></g><g stroke="#00BA38"><circle cx="1225.3" cy="476.0" r="2.3"/></g><g stroke="#619CFF"><circle cx="1162.2" cy="484.3" r="2.3"/></g><g stroke="#00BA38"><circle cx="1215.9" cy="395.9" r="2.3"/></g><g stroke="#F8766D"><circle cx="1247.6" cy="434.7" r="2.3"/></g><g stroke="#00BA38"><circle cx="1235.6" cy="422.3" r="2.3"/></g><g stroke="#F8766D"><circle cx="1209.7" cy="458.7" r="2.3"/><circle cx="1201.7" cy="406.1" r="2.3"/><circle cx="1217.3" cy="471.0" r="2.3"/><circle cx="1211.8" cy="473.8" r="2.3"/></g><g stroke="#00BA38"><circle cx="1173.8" cy="472.6" r="2.3"/></g><g stroke="#F8766D"><circle cx="1171.1" cy="501.4" r="2.3"/></g><g stroke="#00BA38"><circle cx="1251.0" cy="458.0" r="2.3"/></g><g stroke="#619CFF"><circle cx="1225.0" cy="440.6" r="2.3"/></g><g stroke="#F8766D"><circle cx="1192.8" cy="453.7" r="2.3"/><circle cx="1269.2" cy="416.1" r="2.3"/></g><g stroke="#00BA38"><circle cx="1231.4" cy="451.2" r="2.3"/></g><g stroke="#F8766D"><circle cx="1181.9" cy="493.6" r="2.3"/><circle cx="1164.2" cy="442.9" r="2.3"/><circle cx="1249.2" cy="426.8" r="2.3"/></g><g stroke="#00BA38"><circle cx="1234.1" cy="415.5" r="2.3"/></g><g stroke="#F8766D"><circle cx="1161.3" cy="460.9" r="2.3"/><circle cx="1240.9" cy="403.4" r="2.3"/><circle cx="1259.3" cy="487.4" r="2.3"/></g><g stroke="#00BA38"><circle cx="1161.5" cy="479.8" r="2.3"/><circle cx="1183.0" cy="491.3" r="2.3"/></g><g stroke="#619CFF"><circle cx="1244.4" cy="406.2" r="2.3"/></g><g stroke="#F8766D"><circle cx="1209.0" cy="451.2" r="2.3"/></g><g stroke="#00BA38"><circle cx="1198.5" cy="457.0" r="2.3"/><circle cx="1239.0" cy="488.0" r="2.3"/></g><g stroke="#F8766D"><circle cx="1170.0" cy="464.1" r="2.3"/></g><g stroke="#00BA38"><circle cx="1246.4" cy="446.6" r="2.3"/></g><g stroke="#F8766D"><circle cx="1183.4" cy="468.3" r="2.3"/><circle cx="1188.8" cy="435.3" r="2.3"/><circle cx="1246.5" cy="466.5" r="2.3"/></g><g stroke="#00BA38"><circle cx="1205.0" cy="442.5" r="2.3"/></g><g stroke="#F8766D"><circle cx="1250.1" cy="472.8" r="2.3"/></g><g stroke="#00BA38"><circle cx="1236.0" cy="446.1" r="2.3"/></g><g stroke="#619CFF"><circle cx="1254.1" cy="428.5" r="2.3"/></g><g stroke="#F8766D"><circle cx="1220.8" cy="433.8" r="2.3"/><circle cx="1181.8" cy="465.4" r="2.3"/></g><g stroke="#00BA38"><circle cx="1194.6" cy="480.1" r="2.3"/><circle cx="1241.1" cy="427.3" r="2.3"/></g><g stroke="#F8766D"><circle cx="1162.6" cy="441.3" r="2.3"/><circle cx="1172.1" cy="481.4" r="2.3"/><circle cx="1219.0" cy="462.5" r="2.3"/><circle cx="1161.3" cy="453.5" r="2.3"/><circle cx="1189.5" cy="491.8" r="2.3"/></g><g stroke="#619CFF"><circle cx="1160.1" cy="496.6" r="2.3"/></g><g stroke="#00BA38"><circle cx="1183.6" cy="462.8" r="2.3"/><circle cx="1261.5" cy="407.3" r="2.3"/></g><g stroke="#619CFF"><circle cx="1170.7" cy="442.9" r="2.3"/></g><g stroke="#F8766D"><circle cx="1249.5" cy="451.8" r="2.3"/></g><g stroke="#00BA38"><circle cx="1173.6" cy="475.5" r="2.3"/></g><g stroke="#619CFF"><circle cx="1240.8" cy="415.4" r="2.3"/></g><g stroke="#F8766D"><circle cx="1256.8" cy="442.5" r="2.3"/></g><g stroke="#00BA38"><circle cx="1200.2" cy="406.1" r="2.3"/></g><g stroke="#F8766D"><circle cx="1267.9" cy="448.6" r="2.3"/><circle cx="1197.1" cy="477.4" r="2.3"/></g><g stroke="#00BA38"><circle cx="1240.9" cy="456.2" r="2.3"/></g><g stroke="#F8766D"><circle cx="1247.9" cy="467.0" r="2.3"/></g><g stroke="#619CFF"><circle cx="1171.2" cy="459.4" r="2.3"/></g><g stroke="#F8766D"><circle cx="1191.3" cy="459.4" r="2.3"/><circle cx="1241.0" cy="463.6" r="2.3"/><circle cx="1198.6" cy="468.8" r="2.3"/><circle cx="1180.6" cy="507.8" r="2.3"/></g><g stroke="#00BA38"><circle cx="1206.9" cy="482.4" r="2.3"/></g><rect x="1152.2" y="357.9" width="127.5" height="172.10000000000002" fill="none" stroke="#8a8a8a" stroke-width="2.4"/><rect x="1152.2" y="311.3" width="127.5" height="46.599999999999966" fill="#d9d9d9" stroke="#8a8a8a" stroke-width="2.3"/><line x1="1151.3" x2="1280.6" y1="357.9" y2="357.9" stroke="#646464" stroke-width="3"/><text x="1216.9" y="343.2" font-size="25" text-anchor="middle">CLEC10A</text><text x="1132.2" y="380.0" text-anchor="end">2</text><text x="1132.2" y="420.7" text-anchor="end">1</text><text x="1132.2" y="461.4" text-anchor="end">0</text><text x="1132.2" y="502.1" text-anchor="end">-1</text><path d="M1144.3,369.6H1152.2M1144.3,410.3H1152.2M1144.3,451.0H1152.2M1144.3,491.7H1152.2" stroke="#444" stroke-width="2"/><text x="1150.5" y="563.1" text-anchor="middle">0</text><text x="1212.8" y="563.1" text-anchor="middle">12</text><text x="1273.4" y="563.1" text-anchor="middle">24</text>
</g>
<text x="684" y="609.2" font-weight="bold" text-anchor="middle">time (hrs)</text>
<text transform="translate(21.4,441.2) rotate(-90)" font-weight="bold" text-anchor="middle">expression</text>
<text x="1322.5" y="380.8">study</text>
<circle cx="1333.8" cy="411.8" r="2.6" fill="none" stroke="#F8766D" stroke-width="1.3" stroke-opacity="0.42"/>
<text x="1355.5" y="420.8" font-size="25">GSE39445</text>
<circle cx="1333.8" cy="435.1" r="2.6" fill="none" stroke="#00BA38" stroke-width="1.3" stroke-opacity="0.42"/>
<text x="1355.5" y="444.1" font-size="25">GSE48113</text>
<circle cx="1333.8" cy="458.4" r="2.6" fill="none" stroke="#619CFF" stroke-width="1.3" stroke-opacity="0.42"/>
<text x="1355.5" y="467.4" font-size="25">GSE56931</text>
</svg></body></html>
